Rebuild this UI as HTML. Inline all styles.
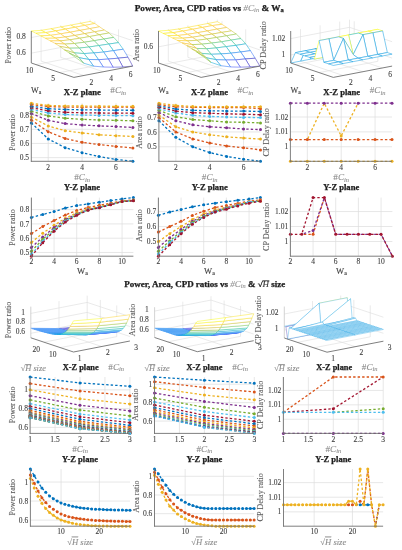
<!DOCTYPE html>
<html><head><meta charset="utf-8"><style>
html,body{margin:0;padding:0;background:#fff;}
svg{display:block;font-family:"Liberation Serif", serif;filter:blur(0.3px);}
</style></head><body>
<svg width="402" height="550" viewBox="0 0 402 550">
<rect width="402" height="550" fill="#fff"/>
<text x="209.2" y="11" font-size="7.4" text-anchor="middle" fill="#1e1e1e" stroke="#1e1e1e" stroke-width="0.25" font-weight="bold" textLength="149" lengthAdjust="spacingAndGlyphs">Power, Area, CPD ratios vs <tspan fill="#999" stroke="#999" stroke-width="0.12" font-weight="normal" font-style="italic">#C</tspan><tspan fill="#999" stroke="#999" stroke-width="0.12" font-weight="normal" font-style="italic" font-size="0.7em" dy="1">in</tspan><tspan dy="-1"> &amp; W</tspan><tspan font-size="0.7em" dy="1">a</tspan></text>
<line x1="59.7" y1="72.6" x2="118.5" y2="61.3" stroke="#dcdcdc" stroke-width="0.6"/>
<line x1="118.5" y1="61.3" x2="118.5" y2="29.3" stroke="#dcdcdc" stroke-width="0.6"/>
<line x1="36.03" y1="64.6" x2="94.83" y2="53.3" stroke="#dcdcdc" stroke-width="0.6"/>
<line x1="94.83" y1="53.3" x2="94.83" y2="21.3" stroke="#dcdcdc" stroke-width="0.6"/>
<line x1="41.1" y1="61.12" x2="83.7" y2="75.52" stroke="#dcdcdc" stroke-width="0.6"/>
<line x1="41.1" y1="61.12" x2="41.1" y2="29.12" stroke="#dcdcdc" stroke-width="0.6"/>
<line x1="60.7" y1="57.35" x2="103.3" y2="71.75" stroke="#dcdcdc" stroke-width="0.6"/>
<line x1="60.7" y1="57.35" x2="60.7" y2="25.35" stroke="#dcdcdc" stroke-width="0.6"/>
<line x1="80.3" y1="53.58" x2="122.9" y2="67.98" stroke="#dcdcdc" stroke-width="0.6"/>
<line x1="80.3" y1="53.58" x2="80.3" y2="21.58" stroke="#dcdcdc" stroke-width="0.6"/>
<polyline points="31.3,53.17 90.1,41.87 132.7,56.27" fill="none" stroke="#dcdcdc" stroke-width="0.6"/>
<polyline points="31.3,37.56 90.1,26.26 132.7,40.66" fill="none" stroke="#dcdcdc" stroke-width="0.6"/>
<line x1="90.1" y1="51.7" x2="90.1" y2="19.7" stroke="#dcdcdc" stroke-width="0.6"/>
<polygon points="80.3,23.3 85.03,25.37 94.83,23.49 90.1,21.42" fill="#fff" stroke="#fce026" stroke-width="0.7" stroke-opacity="0.8" stroke-linejoin="round"/>
<polygon points="85.03,25.37 89.77,28.61 99.57,26.8 94.83,23.49" fill="#fff" stroke="#fdcc32" stroke-width="0.7" stroke-opacity="0.8" stroke-linejoin="round"/>
<polygon points="70.5,25.11 75.23,27.25 85.03,25.37 80.3,23.3" fill="#fff" stroke="#fce026" stroke-width="0.7" stroke-opacity="0.8" stroke-linejoin="round"/>
<polygon points="89.77,28.61 94.5,31.85 104.3,30.04 99.57,26.8" fill="#fff" stroke="#eec438" stroke-width="0.7" stroke-opacity="0.8" stroke-linejoin="round"/>
<polygon points="75.23,27.25 79.97,30.41 89.77,28.61 85.03,25.37" fill="#fff" stroke="#fdcd32" stroke-width="0.7" stroke-opacity="0.8" stroke-linejoin="round"/>
<polygon points="60.7,26.91 65.43,29.14 75.23,27.25 70.5,25.11" fill="#fff" stroke="#fce026" stroke-width="0.7" stroke-opacity="0.8" stroke-linejoin="round"/>
<polygon points="94.5,31.85 99.23,34.77 109.03,32.97 104.3,30.04" fill="#fff" stroke="#d6c538" stroke-width="0.7" stroke-opacity="0.8" stroke-linejoin="round"/>
<polygon points="79.97,30.41 84.7,33.65 94.5,31.85 89.77,28.61" fill="#fff" stroke="#efc438" stroke-width="0.7" stroke-opacity="0.8" stroke-linejoin="round"/>
<polygon points="65.43,29.14 70.17,32.22 79.97,30.41 75.23,27.25" fill="#fff" stroke="#fdce31" stroke-width="0.7" stroke-opacity="0.8" stroke-linejoin="round"/>
<polygon points="50.9,28.72 55.63,30.94 65.43,29.14 60.7,26.91" fill="#fff" stroke="#fbe125" stroke-width="0.7" stroke-opacity="0.8" stroke-linejoin="round"/>
<polygon points="99.23,34.77 103.97,39.03 113.77,37.38 109.03,32.97" fill="#fff" stroke="#a4c73f" stroke-width="0.7" stroke-opacity="0.8" stroke-linejoin="round"/>
<polygon points="84.7,33.65 89.43,36.58 99.23,34.77 94.5,31.85" fill="#fff" stroke="#d7c538" stroke-width="0.7" stroke-opacity="0.8" stroke-linejoin="round"/>
<polygon points="70.17,32.22 74.9,35.46 84.7,33.65 79.97,30.41" fill="#fff" stroke="#f1c438" stroke-width="0.7" stroke-opacity="0.8" stroke-linejoin="round"/>
<polygon points="55.63,30.94 60.37,33.87 70.17,32.22 65.43,29.14" fill="#fff" stroke="#fdd12f" stroke-width="0.7" stroke-opacity="0.8" stroke-linejoin="round"/>
<polygon points="41.1,30.37 45.83,32.59 55.63,30.94 50.9,28.72" fill="#fff" stroke="#fbe423" stroke-width="0.7" stroke-opacity="0.8" stroke-linejoin="round"/>
<polygon points="103.97,39.03 108.7,44.06 118.5,42.65 113.77,37.38" fill="#fff" stroke="#4cc886" stroke-width="0.7" stroke-opacity="0.8" stroke-linejoin="round"/>
<polygon points="89.43,36.58 94.17,40.68 103.97,39.03 99.23,34.77" fill="#fff" stroke="#aac73a" stroke-width="0.7" stroke-opacity="0.8" stroke-linejoin="round"/>
<polygon points="74.9,35.46 79.63,38.31 89.43,36.58 84.7,33.65" fill="#fff" stroke="#dac538" stroke-width="0.7" stroke-opacity="0.8" stroke-linejoin="round"/>
<polygon points="60.37,33.87 65.1,37.03 74.9,35.46 70.17,32.22" fill="#fff" stroke="#f7c438" stroke-width="0.7" stroke-opacity="0.8" stroke-linejoin="round"/>
<polygon points="45.83,32.59 50.57,35.36 60.37,33.87 55.63,30.94" fill="#fff" stroke="#fdd62c" stroke-width="0.7" stroke-opacity="0.8" stroke-linejoin="round"/>
<polygon points="31.3,31 36.03,33.3 45.83,32.59 41.1,30.37" fill="#fff" stroke="#faf21a" stroke-width="0.7" stroke-opacity="0.8" stroke-linejoin="round"/>
<polygon points="108.7,44.06 113.43,50.66 123.23,49.24 118.5,42.65" fill="#fff" stroke="#15b3d0" stroke-width="0.7" stroke-opacity="0.8" stroke-linejoin="round"/>
<polygon points="94.17,40.68 98.9,45.55 108.7,44.06 103.97,39.03" fill="#fff" stroke="#56c87e" stroke-width="0.7" stroke-opacity="0.8" stroke-linejoin="round"/>
<polygon points="79.63,38.31 84.37,42.25 94.17,40.68 89.43,36.58" fill="#fff" stroke="#b0c739" stroke-width="0.7" stroke-opacity="0.8" stroke-linejoin="round"/>
<polygon points="65.1,37.03 69.83,39.8 79.63,38.31 74.9,35.46" fill="#fff" stroke="#e1c438" stroke-width="0.7" stroke-opacity="0.8" stroke-linejoin="round"/>
<polygon points="50.57,35.36 55.3,38.13 65.1,37.03 60.37,33.87" fill="#fff" stroke="#fec835" stroke-width="0.7" stroke-opacity="0.8" stroke-linejoin="round"/>
<polygon points="36.03,33.3 40.77,35.84 50.57,35.36 45.83,32.59" fill="#fff" stroke="#fbe721" stroke-width="0.7" stroke-opacity="0.8" stroke-linejoin="round"/>
<polygon points="113.43,50.66 118.17,58.19 127.97,57.16 123.23,49.24" fill="#fff" stroke="#337cf6" stroke-width="0.7" stroke-opacity="0.8" stroke-linejoin="round"/>
<polygon points="98.9,45.55 103.63,52.07 113.43,50.66 108.7,44.06" fill="#fff" stroke="#19b6ca" stroke-width="0.7" stroke-opacity="0.8" stroke-linejoin="round"/>
<polygon points="84.37,42.25 89.1,46.97 98.9,45.55 94.17,40.68" fill="#fff" stroke="#62c874" stroke-width="0.7" stroke-opacity="0.8" stroke-linejoin="round"/>
<polygon points="69.83,39.8 74.57,43.51 84.37,42.25 79.63,38.31" fill="#fff" stroke="#bbc639" stroke-width="0.7" stroke-opacity="0.8" stroke-linejoin="round"/>
<polygon points="55.3,38.13 60.03,40.9 69.83,39.8 65.1,37.03" fill="#fff" stroke="#efc438" stroke-width="0.7" stroke-opacity="0.8" stroke-linejoin="round"/>
<polygon points="40.77,35.84 45.5,38.3 55.3,38.13 50.57,35.36" fill="#fff" stroke="#fcdd28" stroke-width="0.7" stroke-opacity="0.8" stroke-linejoin="round"/>
<polygon points="118.17,58.19 122.9,66.97 132.7,66.1 127.97,57.16" fill="#fff" stroke="#4030b9" stroke-width="0.7" stroke-opacity="0.8" stroke-linejoin="round"/>
<polygon points="103.63,52.07 108.37,59.06 118.17,58.19 113.43,50.66" fill="#fff" stroke="#2d87f6" stroke-width="0.7" stroke-opacity="0.8" stroke-linejoin="round"/>
<polygon points="89.1,46.97 93.83,52.94 103.63,52.07 98.9,45.55" fill="#fff" stroke="#21bbbc" stroke-width="0.7" stroke-opacity="0.8" stroke-linejoin="round"/>
<polygon points="74.57,43.51 79.3,48.07 89.1,46.97 84.37,42.25" fill="#fff" stroke="#76c764" stroke-width="0.7" stroke-opacity="0.8" stroke-linejoin="round"/>
<polygon points="60.03,40.9 64.77,44.14 74.57,43.51 69.83,39.8" fill="#fff" stroke="#d2c538" stroke-width="0.7" stroke-opacity="0.8" stroke-linejoin="round"/>
<polygon points="45.5,38.3 50.23,40.83 60.03,40.9 55.3,38.13" fill="#fff" stroke="#fdd12f" stroke-width="0.7" stroke-opacity="0.8" stroke-linejoin="round"/>
<polygon points="108.37,59.06 113.1,67.21 122.9,66.97 118.17,58.19" fill="#fff" stroke="#4440d4" stroke-width="0.7" stroke-opacity="0.8" stroke-linejoin="round"/>
<polygon points="93.83,52.94 98.57,59.69 108.37,59.06 103.63,52.07" fill="#fff" stroke="#2593ed" stroke-width="0.7" stroke-opacity="0.8" stroke-linejoin="round"/>
<polygon points="79.3,48.07 84.03,53.57 93.83,52.94 89.1,46.97" fill="#fff" stroke="#2bc1ab" stroke-width="0.7" stroke-opacity="0.8" stroke-linejoin="round"/>
<polygon points="64.77,44.14 69.5,48.16 79.3,48.07 74.57,43.51" fill="#fff" stroke="#a4c73f" stroke-width="0.7" stroke-opacity="0.8" stroke-linejoin="round"/>
<polygon points="50.23,40.83 54.97,43.37 64.77,44.14 60.03,40.9" fill="#fff" stroke="#fec637" stroke-width="0.7" stroke-opacity="0.8" stroke-linejoin="round"/>
<polygon points="98.57,59.69 103.3,66.99 113.1,67.21 108.37,59.06" fill="#fff" stroke="#4754f4" stroke-width="0.7" stroke-opacity="0.8" stroke-linejoin="round"/>
<polygon points="84.03,53.57 88.77,59.47 98.57,59.69 93.83,52.94" fill="#fff" stroke="#19a7de" stroke-width="0.7" stroke-opacity="0.8" stroke-linejoin="round"/>
<polygon points="69.5,48.16 74.23,52.88 84.03,53.57 79.3,48.07" fill="#fff" stroke="#54c87f" stroke-width="0.7" stroke-opacity="0.8" stroke-linejoin="round"/>
<polygon points="54.97,43.37 59.7,46.3 69.5,48.16 64.77,44.14" fill="#fff" stroke="#eac438" stroke-width="0.7" stroke-opacity="0.8" stroke-linejoin="round"/>
<polygon points="88.77,59.47 93.5,66.14 103.3,66.99 98.57,59.69" fill="#fff" stroke="#3774f6" stroke-width="0.7" stroke-opacity="0.8" stroke-linejoin="round"/>
<polygon points="74.23,52.88 78.97,57.68 88.77,59.47 84.03,53.57" fill="#fff" stroke="#26beb3" stroke-width="0.7" stroke-opacity="0.8" stroke-linejoin="round"/>
<polygon points="59.7,46.3 64.43,49.85 74.23,52.88 69.5,48.16" fill="#fff" stroke="#c6c639" stroke-width="0.7" stroke-opacity="0.8" stroke-linejoin="round"/>
<polygon points="78.97,57.68 83.7,63.18 93.5,66.14 88.77,59.47" fill="#fff" stroke="#1aa4e0" stroke-width="0.7" stroke-opacity="0.8" stroke-linejoin="round"/>
<polygon points="64.43,49.85 69.17,53.01 78.97,57.68 74.23,52.88" fill="#fff" stroke="#aac73a" stroke-width="0.7" stroke-opacity="0.8" stroke-linejoin="round"/>
<polygon points="69.17,53.01 73.9,56.25 83.7,63.18 78.97,57.68" fill="#fff" stroke="#80c75c" stroke-width="0.7" stroke-opacity="0.8" stroke-linejoin="round"/>
<polyline points="31.3,31 31.3,63 73.9,77.4 132.7,66.1" fill="none" stroke="#707070" stroke-width="0.9"/>
<text x="25.8" y="55.07" font-size="7.5" text-anchor="end" fill="#404040" stroke="#404040" stroke-width="0.1">0.6</text>
<text x="25.8" y="39.46" font-size="7.5" text-anchor="end" fill="#404040" stroke="#404040" stroke-width="0.1">0.8</text>
<text x="29.53" y="73.1" font-size="7.5" text-anchor="middle" fill="#404040" stroke="#404040" stroke-width="0.1">10</text>
<text x="53.2" y="81.1" font-size="7.5" text-anchor="middle" fill="#404040" stroke="#404040" stroke-width="0.1">5</text>
<text x="91.4" y="84.72" font-size="7.5" text-anchor="middle" fill="#404040" stroke="#404040" stroke-width="0.1">2</text>
<text x="111" y="80.95" font-size="7.5" text-anchor="middle" fill="#404040" stroke="#404040" stroke-width="0.1">4</text>
<text x="130.6" y="77.18" font-size="7.5" text-anchor="middle" fill="#404040" stroke="#404040" stroke-width="0.1">6</text>
<text x="11.2" y="45.3" font-size="8.2" text-anchor="middle" fill="#5a5a5a" stroke="#5a5a5a" stroke-width="0.1" transform="rotate(-90 11.2 45.3)" textLength="36.5" lengthAdjust="spacingAndGlyphs">Power ratio</text>
<text x="36.2" y="93.2" font-size="8.2" text-anchor="middle" fill="#404040" stroke="#404040" stroke-width="0.1">W<tspan font-size="0.7em" dy="1.2">a</tspan></text>
<text x="82.3" y="94.6" font-size="7.5" text-anchor="middle" fill="#1e1e1e" stroke="#1e1e1e" stroke-width="0.25" font-weight="bold" textLength="37" lengthAdjust="spacingAndGlyphs">X-Z plane</text>
<text x="118.2" y="93.3" font-size="9.2" text-anchor="middle" fill="#8c8c8c" stroke="#8c8c8c" stroke-width="0.1">#<tspan font-style="italic">C</tspan><tspan font-size="0.7em" font-style="italic" dy="1.2">in</tspan></text>
<line x1="186.9" y1="72.6" x2="245.7" y2="61.3" stroke="#dcdcdc" stroke-width="0.6"/>
<line x1="245.7" y1="61.3" x2="245.7" y2="29.3" stroke="#dcdcdc" stroke-width="0.6"/>
<line x1="163.23" y1="64.6" x2="222.03" y2="53.3" stroke="#dcdcdc" stroke-width="0.6"/>
<line x1="222.03" y1="53.3" x2="222.03" y2="21.3" stroke="#dcdcdc" stroke-width="0.6"/>
<line x1="168.3" y1="61.12" x2="210.9" y2="75.52" stroke="#dcdcdc" stroke-width="0.6"/>
<line x1="168.3" y1="61.12" x2="168.3" y2="29.12" stroke="#dcdcdc" stroke-width="0.6"/>
<line x1="187.9" y1="57.35" x2="230.5" y2="71.75" stroke="#dcdcdc" stroke-width="0.6"/>
<line x1="187.9" y1="57.35" x2="187.9" y2="25.35" stroke="#dcdcdc" stroke-width="0.6"/>
<line x1="207.5" y1="53.58" x2="250.1" y2="67.98" stroke="#dcdcdc" stroke-width="0.6"/>
<line x1="207.5" y1="53.58" x2="207.5" y2="21.58" stroke="#dcdcdc" stroke-width="0.6"/>
<polyline points="158.5,46.84 217.3,35.54 259.9,49.94" fill="none" stroke="#dcdcdc" stroke-width="0.6"/>
<line x1="217.3" y1="51.7" x2="217.3" y2="19.7" stroke="#dcdcdc" stroke-width="0.6"/>
<polygon points="207.5,23.54 212.23,25.55 222.03,24.32 217.3,21.66" fill="#fff" stroke="#fcde27" stroke-width="0.7" stroke-opacity="0.8" stroke-linejoin="round"/>
<polygon points="212.23,25.55 216.97,29.11 226.77,27.47 222.03,24.32" fill="#fff" stroke="#fec636" stroke-width="0.7" stroke-opacity="0.8" stroke-linejoin="round"/>
<polygon points="197.7,25.43 202.43,27.43 212.23,25.55 207.5,23.54" fill="#fff" stroke="#fcde27" stroke-width="0.7" stroke-opacity="0.8" stroke-linejoin="round"/>
<polygon points="216.97,29.11 221.7,32.42 231.5,30.87 226.77,27.47" fill="#fff" stroke="#e4c438" stroke-width="0.7" stroke-opacity="0.8" stroke-linejoin="round"/>
<polygon points="202.43,27.43 207.17,30.99 216.97,29.11 212.23,25.55" fill="#fff" stroke="#fec636" stroke-width="0.7" stroke-opacity="0.8" stroke-linejoin="round"/>
<polygon points="187.9,27.31 192.63,29.32 202.43,27.43 197.7,25.43" fill="#fff" stroke="#fcde27" stroke-width="0.7" stroke-opacity="0.8" stroke-linejoin="round"/>
<polygon points="221.7,32.42 226.43,35.82 236.23,34.02 231.5,30.87" fill="#fff" stroke="#c3c639" stroke-width="0.7" stroke-opacity="0.8" stroke-linejoin="round"/>
<polygon points="207.17,30.99 211.9,34.14 221.7,32.42 216.97,29.11" fill="#fff" stroke="#e7c438" stroke-width="0.7" stroke-opacity="0.8" stroke-linejoin="round"/>
<polygon points="192.63,29.32 197.37,32.71 207.17,30.99 202.43,27.43" fill="#fff" stroke="#fec835" stroke-width="0.7" stroke-opacity="0.8" stroke-linejoin="round"/>
<polygon points="178.1,29.03 182.83,31.12 192.63,29.32 187.9,27.31" fill="#fff" stroke="#fcdf26" stroke-width="0.7" stroke-opacity="0.8" stroke-linejoin="round"/>
<polygon points="226.43,35.82 231.17,40.11 240.97,38.56 236.23,34.02" fill="#fff" stroke="#88c755" stroke-width="0.7" stroke-opacity="0.8" stroke-linejoin="round"/>
<polygon points="211.9,34.14 216.63,37.46 226.43,35.82 221.7,32.42" fill="#fff" stroke="#c7c639" stroke-width="0.7" stroke-opacity="0.8" stroke-linejoin="round"/>
<polygon points="197.37,32.71 202.1,35.7 211.9,34.14 207.17,30.99" fill="#fff" stroke="#ecc438" stroke-width="0.7" stroke-opacity="0.8" stroke-linejoin="round"/>
<polygon points="182.83,31.12 187.57,34.35 197.37,32.71 192.63,29.32" fill="#fff" stroke="#fecb33" stroke-width="0.7" stroke-opacity="0.8" stroke-linejoin="round"/>
<polygon points="168.3,30.34 173.03,32.68 182.83,31.12 178.1,29.03" fill="#fff" stroke="#fbe324" stroke-width="0.7" stroke-opacity="0.8" stroke-linejoin="round"/>
<polygon points="231.17,40.11 235.9,45.39 245.7,43.83 240.97,38.56" fill="#fff" stroke="#33c69e" stroke-width="0.7" stroke-opacity="0.8" stroke-linejoin="round"/>
<polygon points="216.63,37.46 221.37,41.83 231.17,40.11 226.43,35.82" fill="#fff" stroke="#8cc752" stroke-width="0.7" stroke-opacity="0.8" stroke-linejoin="round"/>
<polygon points="202.1,35.7 206.83,39.02 216.63,37.46 211.9,34.14" fill="#fff" stroke="#cdc538" stroke-width="0.7" stroke-opacity="0.8" stroke-linejoin="round"/>
<polygon points="187.57,34.35 192.3,37.26 202.1,35.7 197.37,32.71" fill="#fff" stroke="#f2c438" stroke-width="0.7" stroke-opacity="0.8" stroke-linejoin="round"/>
<polygon points="173.03,32.68 177.77,35.5 187.57,34.35 182.83,31.12" fill="#fff" stroke="#fdd42d" stroke-width="0.7" stroke-opacity="0.8" stroke-linejoin="round"/>
<polygon points="158.5,31 163.23,33.42 173.03,32.68 168.3,30.34" fill="#fff" stroke="#faf11b" stroke-width="0.7" stroke-opacity="0.8" stroke-linejoin="round"/>
<polygon points="235.9,45.39 240.63,51.97 250.43,50.66 245.7,43.83" fill="#fff" stroke="#17a9dc" stroke-width="0.7" stroke-opacity="0.8" stroke-linejoin="round"/>
<polygon points="221.37,41.83 226.1,46.62 235.9,45.39 231.17,40.11" fill="#fff" stroke="#3bc894" stroke-width="0.7" stroke-opacity="0.8" stroke-linejoin="round"/>
<polygon points="206.83,39.02 211.57,43.06 221.37,41.83 216.63,37.46" fill="#fff" stroke="#9dc745" stroke-width="0.7" stroke-opacity="0.8" stroke-linejoin="round"/>
<polygon points="192.3,37.26 197.03,40.33 206.83,39.02 202.1,35.7" fill="#fff" stroke="#d8c538" stroke-width="0.7" stroke-opacity="0.8" stroke-linejoin="round"/>
<polygon points="177.77,35.5 182.5,38.24 192.3,37.26 187.57,34.35" fill="#fff" stroke="#fec636" stroke-width="0.7" stroke-opacity="0.8" stroke-linejoin="round"/>
<polygon points="163.23,33.42 167.97,35.67 177.77,35.5 173.03,32.68" fill="#fff" stroke="#fbe920" stroke-width="0.7" stroke-opacity="0.8" stroke-linejoin="round"/>
<polygon points="240.63,51.97 245.37,58.95 255.17,58.21 250.43,50.66" fill="#fff" stroke="#3773f6" stroke-width="0.7" stroke-opacity="0.8" stroke-linejoin="round"/>
<polygon points="226.1,46.62 230.83,53.2 240.63,51.97 235.9,45.39" fill="#fff" stroke="#13afd8" stroke-width="0.7" stroke-opacity="0.8" stroke-linejoin="round"/>
<polygon points="211.57,43.06 216.3,47.93 226.1,46.62 221.37,41.83" fill="#fff" stroke="#4ac888" stroke-width="0.7" stroke-opacity="0.8" stroke-linejoin="round"/>
<polygon points="197.03,40.33 201.77,44.21 211.57,43.06 206.83,39.02" fill="#fff" stroke="#aec739" stroke-width="0.7" stroke-opacity="0.8" stroke-linejoin="round"/>
<polygon points="182.5,38.24 187.23,40.9 197.03,40.33 192.3,37.26" fill="#fff" stroke="#efc438" stroke-width="0.7" stroke-opacity="0.8" stroke-linejoin="round"/>
<polygon points="167.97,35.67 172.7,38 182.5,38.24 177.77,35.5" fill="#fff" stroke="#fce026" stroke-width="0.7" stroke-opacity="0.8" stroke-linejoin="round"/>
<polygon points="245.37,58.95 250.1,66.84 259.9,66.1 255.17,58.21" fill="#fff" stroke="#4031bb" stroke-width="0.7" stroke-opacity="0.8" stroke-linejoin="round"/>
<polygon points="230.83,53.2 235.57,59.86 245.37,58.95 240.63,51.97" fill="#fff" stroke="#327ef6" stroke-width="0.7" stroke-opacity="0.8" stroke-linejoin="round"/>
<polygon points="216.3,47.93 221.03,53.94 230.83,53.2 226.1,46.62" fill="#fff" stroke="#19b6ca" stroke-width="0.7" stroke-opacity="0.8" stroke-linejoin="round"/>
<polygon points="201.77,44.21 206.5,48.75 216.3,47.93 211.57,43.06" fill="#fff" stroke="#65c772" stroke-width="0.7" stroke-opacity="0.8" stroke-linejoin="round"/>
<polygon points="187.23,40.9 191.97,44.63 201.77,44.21 197.03,40.33" fill="#fff" stroke="#c9c639" stroke-width="0.7" stroke-opacity="0.8" stroke-linejoin="round"/>
<polygon points="172.7,38 177.43,40.42 187.23,40.9 182.5,38.24" fill="#fff" stroke="#fcd62c" stroke-width="0.7" stroke-opacity="0.8" stroke-linejoin="round"/>
<polygon points="235.57,59.86 240.3,67.17 250.1,66.84 245.37,58.95" fill="#fff" stroke="#4440d5" stroke-width="0.7" stroke-opacity="0.8" stroke-linejoin="round"/>
<polygon points="221.03,53.94 225.77,60.03 235.57,59.86 230.83,53.2" fill="#fff" stroke="#2890f0" stroke-width="0.7" stroke-opacity="0.8" stroke-linejoin="round"/>
<polygon points="206.5,48.75 211.23,54.27 221.03,53.94 216.3,47.93" fill="#fff" stroke="#26bdb4" stroke-width="0.7" stroke-opacity="0.8" stroke-linejoin="round"/>
<polygon points="191.97,44.63 196.7,48.43 206.5,48.75 201.77,44.21" fill="#fff" stroke="#9dc745" stroke-width="0.7" stroke-opacity="0.8" stroke-linejoin="round"/>
<polygon points="177.43,40.42 182.17,42.92 191.97,44.63 187.23,40.9" fill="#fff" stroke="#fecb33" stroke-width="0.7" stroke-opacity="0.8" stroke-linejoin="round"/>
<polygon points="225.77,60.03 230.5,66.93 240.3,67.17 235.57,59.86" fill="#fff" stroke="#4655f4" stroke-width="0.7" stroke-opacity="0.8" stroke-linejoin="round"/>
<polygon points="211.23,54.27 215.97,59.71 225.77,60.03 221.03,53.94" fill="#fff" stroke="#1aa4e0" stroke-width="0.7" stroke-opacity="0.8" stroke-linejoin="round"/>
<polygon points="196.7,48.43 201.43,53.3 211.23,54.27 206.5,48.75" fill="#fff" stroke="#4ac888" stroke-width="0.7" stroke-opacity="0.8" stroke-linejoin="round"/>
<polygon points="182.17,42.92 186.9,45.66 196.7,48.43 191.97,44.63" fill="#fff" stroke="#f5c438" stroke-width="0.7" stroke-opacity="0.8" stroke-linejoin="round"/>
<polygon points="215.97,59.71 220.7,65.63 230.5,66.93 225.77,60.03" fill="#fff" stroke="#347af6" stroke-width="0.7" stroke-opacity="0.8" stroke-linejoin="round"/>
<polygon points="201.43,53.3 206.17,57.75 215.97,59.71 211.23,54.27" fill="#fff" stroke="#26bdb4" stroke-width="0.7" stroke-opacity="0.8" stroke-linejoin="round"/>
<polygon points="186.9,45.66 191.63,48.73 201.43,53.3 196.7,48.43" fill="#fff" stroke="#dbc538" stroke-width="0.7" stroke-opacity="0.8" stroke-linejoin="round"/>
<polygon points="206.17,57.75 210.9,62.29 220.7,65.63 215.97,59.71" fill="#fff" stroke="#15adda" stroke-width="0.7" stroke-opacity="0.8" stroke-linejoin="round"/>
<polygon points="191.63,48.73 196.37,51.72 206.17,57.75 201.43,53.3" fill="#fff" stroke="#c2c639" stroke-width="0.7" stroke-opacity="0.8" stroke-linejoin="round"/>
<polygon points="196.37,51.72 201.1,55.03 210.9,62.29 206.17,57.75" fill="#fff" stroke="#9fc743" stroke-width="0.7" stroke-opacity="0.8" stroke-linejoin="round"/>
<polyline points="158.5,31 158.5,63 201.1,77.4 259.9,66.1" fill="none" stroke="#707070" stroke-width="0.9"/>
<text x="153" y="48.74" font-size="7.5" text-anchor="end" fill="#404040" stroke="#404040" stroke-width="0.1">0.6</text>
<text x="156.73" y="73.1" font-size="7.5" text-anchor="middle" fill="#404040" stroke="#404040" stroke-width="0.1">10</text>
<text x="180.4" y="81.1" font-size="7.5" text-anchor="middle" fill="#404040" stroke="#404040" stroke-width="0.1">5</text>
<text x="218.6" y="84.72" font-size="7.5" text-anchor="middle" fill="#404040" stroke="#404040" stroke-width="0.1">2</text>
<text x="238.2" y="80.95" font-size="7.5" text-anchor="middle" fill="#404040" stroke="#404040" stroke-width="0.1">4</text>
<text x="257.8" y="77.18" font-size="7.5" text-anchor="middle" fill="#404040" stroke="#404040" stroke-width="0.1">6</text>
<text x="138.6" y="45.3" font-size="8.2" text-anchor="middle" fill="#5a5a5a" stroke="#5a5a5a" stroke-width="0.1" transform="rotate(-90 138.6 45.3)" textLength="32.5" lengthAdjust="spacingAndGlyphs">Area ratio</text>
<text x="163.4" y="93.2" font-size="8.2" text-anchor="middle" fill="#404040" stroke="#404040" stroke-width="0.1">W<tspan font-size="0.7em" dy="1.2">a</tspan></text>
<text x="209.5" y="94.6" font-size="7.5" text-anchor="middle" fill="#1e1e1e" stroke="#1e1e1e" stroke-width="0.25" font-weight="bold" textLength="37" lengthAdjust="spacingAndGlyphs">X-Z plane</text>
<text x="245.4" y="93.3" font-size="9.2" text-anchor="middle" fill="#8c8c8c" stroke="#8c8c8c" stroke-width="0.1">#<tspan font-style="italic">C</tspan><tspan font-size="0.7em" font-style="italic" dy="1.2">in</tspan></text>
<line x1="319.1" y1="72.6" x2="377.9" y2="61.3" stroke="#dcdcdc" stroke-width="0.6"/>
<line x1="377.9" y1="61.3" x2="377.9" y2="29.3" stroke="#dcdcdc" stroke-width="0.6"/>
<line x1="295.43" y1="64.6" x2="354.23" y2="53.3" stroke="#dcdcdc" stroke-width="0.6"/>
<line x1="354.23" y1="53.3" x2="354.23" y2="21.3" stroke="#dcdcdc" stroke-width="0.6"/>
<line x1="300.5" y1="61.12" x2="343.1" y2="75.52" stroke="#dcdcdc" stroke-width="0.6"/>
<line x1="300.5" y1="61.12" x2="300.5" y2="29.12" stroke="#dcdcdc" stroke-width="0.6"/>
<line x1="320.1" y1="57.35" x2="362.7" y2="71.75" stroke="#dcdcdc" stroke-width="0.6"/>
<line x1="320.1" y1="57.35" x2="320.1" y2="25.35" stroke="#dcdcdc" stroke-width="0.6"/>
<line x1="339.7" y1="53.58" x2="382.3" y2="67.98" stroke="#dcdcdc" stroke-width="0.6"/>
<line x1="339.7" y1="53.58" x2="339.7" y2="21.58" stroke="#dcdcdc" stroke-width="0.6"/>
<polyline points="290.7,54.98 349.5,43.68 392.1,58.08" fill="none" stroke="#dcdcdc" stroke-width="0.6"/>
<polyline points="290.7,38.61 349.5,27.31 392.1,41.71" fill="none" stroke="#dcdcdc" stroke-width="0.6"/>
<line x1="349.5" y1="51.7" x2="349.5" y2="19.7" stroke="#dcdcdc" stroke-width="0.6"/>
<polygon points="339.7,53.58 344.43,43.23 354.23,41.35 349.5,51.7" fill="#fff" stroke="#1ca1e3" stroke-width="0.7" stroke-opacity="0.8" stroke-linejoin="round"/>
<polygon points="344.43,43.23 349.17,44.83 358.97,42.95 354.23,41.35" fill="#fff" stroke="#1ca1e3" stroke-width="0.7" stroke-opacity="0.8" stroke-linejoin="round"/>
<polygon points="329.9,55.47 334.63,45.12 344.43,43.23 339.7,53.58" fill="#fff" stroke="#1ca1e3" stroke-width="0.7" stroke-opacity="0.8" stroke-linejoin="round"/>
<polygon points="349.17,44.83 353.9,46.43 363.7,44.55 358.97,42.95" fill="#fff" stroke="#1ca1e3" stroke-width="0.7" stroke-opacity="0.8" stroke-linejoin="round"/>
<polygon points="334.63,45.12 339.37,46.72 349.17,44.83 344.43,43.23" fill="#fff" stroke="#1ca1e3" stroke-width="0.7" stroke-opacity="0.8" stroke-linejoin="round"/>
<polygon points="320.1,57.35 324.83,47 334.63,45.12 329.9,55.47" fill="#fff" stroke="#1ca1e3" stroke-width="0.7" stroke-opacity="0.8" stroke-linejoin="round"/>
<polygon points="353.9,46.43 358.63,48.03 368.43,46.15 363.7,44.55" fill="#fff" stroke="#1ca1e3" stroke-width="0.7" stroke-opacity="0.8" stroke-linejoin="round"/>
<polygon points="339.37,46.72 344.1,48.32 353.9,46.43 349.17,44.83" fill="#fff" stroke="#1ca1e3" stroke-width="0.7" stroke-opacity="0.8" stroke-linejoin="round"/>
<polygon points="324.83,47 329.57,48.6 339.37,46.72 334.63,45.12" fill="#fff" stroke="#1ca1e3" stroke-width="0.7" stroke-opacity="0.8" stroke-linejoin="round"/>
<polygon points="310.3,59.23 315.03,48.88 324.83,47 320.1,57.35" fill="#fff" stroke="#1ca1e3" stroke-width="0.7" stroke-opacity="0.8" stroke-linejoin="round"/>
<polygon points="358.63,48.03 363.37,49.63 373.17,47.75 368.43,46.15" fill="#fff" stroke="#1ca1e3" stroke-width="0.7" stroke-opacity="0.8" stroke-linejoin="round"/>
<polygon points="344.1,48.32 348.83,49.92 358.63,48.03 353.9,46.43" fill="#fff" stroke="#1ca1e3" stroke-width="0.7" stroke-opacity="0.8" stroke-linejoin="round"/>
<polygon points="329.57,48.6 334.3,50.2 344.1,48.32 339.37,46.72" fill="#fff" stroke="#1ca1e3" stroke-width="0.7" stroke-opacity="0.8" stroke-linejoin="round"/>
<polygon points="315.03,48.88 319.77,50.48 329.57,48.6 324.83,47" fill="#fff" stroke="#1ca1e3" stroke-width="0.7" stroke-opacity="0.8" stroke-linejoin="round"/>
<polygon points="300.5,61.12 305.23,50.77 315.03,48.88 310.3,59.23" fill="#fff" stroke="#1ca1e3" stroke-width="0.7" stroke-opacity="0.8" stroke-linejoin="round"/>
<polygon points="363.37,49.63 368.1,31.18 377.9,29.3 373.17,47.75" fill="#fff" stroke="#f9fb15" stroke-width="0.7" stroke-opacity="0.8" stroke-linejoin="round"/>
<polygon points="348.83,49.92 353.57,51.52 363.37,49.63 358.63,48.03" fill="#fff" stroke="#1ca1e3" stroke-width="0.7" stroke-opacity="0.8" stroke-linejoin="round"/>
<polygon points="334.3,50.2 339.03,51.8 348.83,49.92 344.1,48.32" fill="#fff" stroke="#1ca1e3" stroke-width="0.7" stroke-opacity="0.8" stroke-linejoin="round"/>
<polygon points="319.77,50.48 324.5,52.08 334.3,50.2 329.57,48.6" fill="#fff" stroke="#1ca1e3" stroke-width="0.7" stroke-opacity="0.8" stroke-linejoin="round"/>
<polygon points="305.23,50.77 309.97,52.37 319.77,50.48 315.03,48.88" fill="#fff" stroke="#1ca1e3" stroke-width="0.7" stroke-opacity="0.8" stroke-linejoin="round"/>
<polygon points="290.7,63 295.43,52.65 305.23,50.77 300.5,61.12" fill="#fff" stroke="#1ca1e3" stroke-width="0.7" stroke-opacity="0.8" stroke-linejoin="round"/>
<polygon points="368.1,31.18 372.83,32.78 382.63,30.9 377.9,29.3" fill="#fff" stroke="#f9fb15" stroke-width="0.7" stroke-opacity="0.8" stroke-linejoin="round"/>
<polygon points="353.57,51.52 358.3,33.07 368.1,31.18 363.37,49.63" fill="#fff" stroke="#f9fb15" stroke-width="0.7" stroke-opacity="0.8" stroke-linejoin="round"/>
<polygon points="339.03,51.8 343.77,53.4 353.57,51.52 348.83,49.92" fill="#fff" stroke="#1ca1e3" stroke-width="0.7" stroke-opacity="0.8" stroke-linejoin="round"/>
<polygon points="324.5,52.08 329.23,53.68 339.03,51.8 334.3,50.2" fill="#fff" stroke="#1ca1e3" stroke-width="0.7" stroke-opacity="0.8" stroke-linejoin="round"/>
<polygon points="309.97,52.37 314.7,53.97 324.5,52.08 319.77,50.48" fill="#fff" stroke="#1ca1e3" stroke-width="0.7" stroke-opacity="0.8" stroke-linejoin="round"/>
<polygon points="295.43,52.65 300.17,54.25 309.97,52.37 305.23,50.77" fill="#fff" stroke="#1ca1e3" stroke-width="0.7" stroke-opacity="0.8" stroke-linejoin="round"/>
<polygon points="372.83,32.78 377.57,54.43 387.37,52.55 382.63,30.9" fill="#fff" stroke="#1ca1e3" stroke-width="0.7" stroke-opacity="0.8" stroke-linejoin="round"/>
<polygon points="358.3,33.07 363.03,34.67 372.83,32.78 368.1,31.18" fill="#fff" stroke="#f9fb15" stroke-width="0.7" stroke-opacity="0.8" stroke-linejoin="round"/>
<polygon points="343.77,53.4 348.5,34.95 358.3,33.07 353.57,51.52" fill="#fff" stroke="#f9fb15" stroke-width="0.7" stroke-opacity="0.8" stroke-linejoin="round"/>
<polygon points="329.23,53.68 333.97,55.28 343.77,53.4 339.03,51.8" fill="#fff" stroke="#1ca1e3" stroke-width="0.7" stroke-opacity="0.8" stroke-linejoin="round"/>
<polygon points="314.7,53.97 319.43,55.57 329.23,53.68 324.5,52.08" fill="#fff" stroke="#1ca1e3" stroke-width="0.7" stroke-opacity="0.8" stroke-linejoin="round"/>
<polygon points="300.17,54.25 304.9,55.85 314.7,53.97 309.97,52.37" fill="#fff" stroke="#1ca1e3" stroke-width="0.7" stroke-opacity="0.8" stroke-linejoin="round"/>
<polygon points="377.57,54.43 382.3,56.03 392.1,54.15 387.37,52.55" fill="#fff" stroke="#1ca1e3" stroke-width="0.7" stroke-opacity="0.8" stroke-linejoin="round"/>
<polygon points="363.03,34.67 367.77,56.32 377.57,54.43 372.83,32.78" fill="#fff" stroke="#1ca1e3" stroke-width="0.7" stroke-opacity="0.8" stroke-linejoin="round"/>
<polygon points="348.5,34.95 353.23,54.56 363.03,34.67 358.3,33.07" fill="#fff" stroke="#14b3d2" stroke-width="0.7" stroke-opacity="0.8" stroke-linejoin="round"/>
<polygon points="333.97,55.28 338.7,36.83 348.5,34.95 343.77,53.4" fill="#fff" stroke="#f9fb15" stroke-width="0.7" stroke-opacity="0.8" stroke-linejoin="round"/>
<polygon points="319.43,55.57 324.17,57.17 333.97,55.28 329.23,53.68" fill="#fff" stroke="#1ca1e3" stroke-width="0.7" stroke-opacity="0.8" stroke-linejoin="round"/>
<polygon points="304.9,55.85 309.63,57.45 319.43,55.57 314.7,53.97" fill="#fff" stroke="#1ca1e3" stroke-width="0.7" stroke-opacity="0.8" stroke-linejoin="round"/>
<polygon points="367.77,56.32 372.5,57.92 382.3,56.03 377.57,54.43" fill="#fff" stroke="#1ca1e3" stroke-width="0.7" stroke-opacity="0.8" stroke-linejoin="round"/>
<polygon points="353.23,54.56 357.97,58.2 367.77,56.32 363.03,34.67" fill="#fff" stroke="#1ca1e3" stroke-width="0.7" stroke-opacity="0.8" stroke-linejoin="round"/>
<polygon points="338.7,36.83 343.43,38.43 353.23,54.56 348.5,34.95" fill="#fff" stroke="#f9fb15" stroke-width="0.7" stroke-opacity="0.8" stroke-linejoin="round"/>
<polygon points="324.17,57.17 328.9,38.72 338.7,36.83 333.97,55.28" fill="#fff" stroke="#f9fb15" stroke-width="0.7" stroke-opacity="0.8" stroke-linejoin="round"/>
<polygon points="309.63,57.45 314.37,59.05 324.17,57.17 319.43,55.57" fill="#fff" stroke="#1ca1e3" stroke-width="0.7" stroke-opacity="0.8" stroke-linejoin="round"/>
<polygon points="357.97,58.2 362.7,59.8 372.5,57.92 367.77,56.32" fill="#fff" stroke="#1ca1e3" stroke-width="0.7" stroke-opacity="0.8" stroke-linejoin="round"/>
<polygon points="343.43,38.43 348.17,60.08 357.97,58.2 353.23,54.56" fill="#fff" stroke="#1ca1e3" stroke-width="0.7" stroke-opacity="0.8" stroke-linejoin="round"/>
<polygon points="328.9,38.72 333.63,60.37 343.43,38.43 338.7,36.83" fill="#fff" stroke="#1ca1e3" stroke-width="0.7" stroke-opacity="0.8" stroke-linejoin="round"/>
<polygon points="314.37,59.05 319.1,40.6 328.9,38.72 324.17,57.17" fill="#fff" stroke="#f9fb15" stroke-width="0.7" stroke-opacity="0.8" stroke-linejoin="round"/>
<polygon points="348.17,60.08 352.9,61.68 362.7,59.8 357.97,58.2" fill="#fff" stroke="#1ca1e3" stroke-width="0.7" stroke-opacity="0.8" stroke-linejoin="round"/>
<polygon points="333.63,60.37 338.37,61.97 348.17,60.08 343.43,38.43" fill="#fff" stroke="#1ca1e3" stroke-width="0.7" stroke-opacity="0.8" stroke-linejoin="round"/>
<polygon points="319.1,40.6 323.83,62.25 333.63,60.37 328.9,38.72" fill="#fff" stroke="#1ca1e3" stroke-width="0.7" stroke-opacity="0.8" stroke-linejoin="round"/>
<polygon points="338.37,61.97 343.1,63.57 352.9,61.68 348.17,60.08" fill="#fff" stroke="#1ca1e3" stroke-width="0.7" stroke-opacity="0.8" stroke-linejoin="round"/>
<polygon points="323.83,62.25 328.57,63.85 338.37,61.97 333.63,60.37" fill="#fff" stroke="#1ca1e3" stroke-width="0.7" stroke-opacity="0.8" stroke-linejoin="round"/>
<polygon points="328.57,63.85 333.3,65.45 343.1,63.57 338.37,61.97" fill="#fff" stroke="#1ca1e3" stroke-width="0.7" stroke-opacity="0.8" stroke-linejoin="round"/>
<polyline points="290.7,31 290.7,63 333.3,77.4 392.1,66.1" fill="none" stroke="#707070" stroke-width="0.9"/>
<text x="285.2" y="56.88" font-size="7.5" text-anchor="end" fill="#404040" stroke="#404040" stroke-width="0.1">1</text>
<text x="285.2" y="40.51" font-size="7.5" text-anchor="end" fill="#404040" stroke="#404040" stroke-width="0.1">1.02</text>
<text x="288.93" y="73.1" font-size="7.5" text-anchor="middle" fill="#404040" stroke="#404040" stroke-width="0.1">10</text>
<text x="312.6" y="81.1" font-size="7.5" text-anchor="middle" fill="#404040" stroke="#404040" stroke-width="0.1">5</text>
<text x="350.8" y="84.72" font-size="7.5" text-anchor="middle" fill="#404040" stroke="#404040" stroke-width="0.1">2</text>
<text x="370.4" y="80.95" font-size="7.5" text-anchor="middle" fill="#404040" stroke="#404040" stroke-width="0.1">4</text>
<text x="390" y="77.18" font-size="7.5" text-anchor="middle" fill="#404040" stroke="#404040" stroke-width="0.1">6</text>
<text x="266.5" y="45.3" font-size="8.2" text-anchor="middle" fill="#5a5a5a" stroke="#5a5a5a" stroke-width="0.1" transform="rotate(-90 266.5 45.3)" textLength="48.5" lengthAdjust="spacingAndGlyphs">CP Delay ratio</text>
<text x="295.6" y="93.2" font-size="8.2" text-anchor="middle" fill="#404040" stroke="#404040" stroke-width="0.1">W<tspan font-size="0.7em" dy="1.2">a</tspan></text>
<text x="341.7" y="94.6" font-size="7.5" text-anchor="middle" fill="#1e1e1e" stroke="#1e1e1e" stroke-width="0.25" font-weight="bold" textLength="37" lengthAdjust="spacingAndGlyphs">X-Z plane</text>
<text x="377.6" y="93.3" font-size="9.2" text-anchor="middle" fill="#8c8c8c" stroke="#8c8c8c" stroke-width="0.1">#<tspan font-style="italic">C</tspan><tspan font-size="0.7em" font-style="italic" dy="1.2">in</tspan></text>
<line x1="48.23" y1="103.2" x2="48.23" y2="161.3" stroke="#dcdcdc" stroke-width="0.7"/>
<line x1="82.1" y1="103.2" x2="82.1" y2="161.3" stroke="#dcdcdc" stroke-width="0.7"/>
<line x1="115.97" y1="103.2" x2="115.97" y2="161.3" stroke="#dcdcdc" stroke-width="0.7"/>
<line x1="31.3" y1="157.62" x2="132.9" y2="157.62" stroke="#dcdcdc" stroke-width="0.7"/>
<line x1="31.3" y1="143.44" x2="132.9" y2="143.44" stroke="#dcdcdc" stroke-width="0.7"/>
<line x1="31.3" y1="129.27" x2="132.9" y2="129.27" stroke="#dcdcdc" stroke-width="0.7"/>
<line x1="31.3" y1="115.1" x2="132.9" y2="115.1" stroke="#dcdcdc" stroke-width="0.7"/>
<line x1="31.3" y1="122.9" x2="48.23" y2="138.91" stroke="#0072BD" stroke-width="1.3" stroke-dasharray="2.4 2.1" stroke-dashoffset="0"/>
<line x1="48.23" y1="138.91" x2="65.17" y2="147.7" stroke="#0072BD" stroke-width="1.3" stroke-dasharray="2.4 2.1" stroke-dashoffset="0.81"/>
<line x1="65.17" y1="147.7" x2="82.1" y2="152.66" stroke="#0072BD" stroke-width="1.3" stroke-dasharray="2.4 2.1" stroke-dashoffset="1.88"/>
<line x1="82.1" y1="152.66" x2="99.03" y2="156.48" stroke="#0072BD" stroke-width="1.3" stroke-dasharray="2.4 2.1" stroke-dashoffset="1.53"/>
<line x1="99.03" y1="156.48" x2="115.97" y2="159.46" stroke="#0072BD" stroke-width="1.3" stroke-dasharray="2.4 2.1" stroke-dashoffset="0.89"/>
<line x1="115.97" y1="159.46" x2="132.9" y2="161.3" stroke="#0072BD" stroke-width="1.3" stroke-dasharray="2.4 2.1" stroke-dashoffset="0.08"/>
<circle cx="31.3" cy="122.9" r="1.5" fill="#0072BD"/>
<circle cx="48.23" cy="138.91" r="1.5" fill="#0072BD"/>
<circle cx="65.17" cy="147.7" r="1.5" fill="#0072BD"/>
<circle cx="82.1" cy="152.66" r="1.5" fill="#0072BD"/>
<circle cx="99.03" cy="156.48" r="1.5" fill="#0072BD"/>
<circle cx="115.97" cy="159.46" r="1.5" fill="#0072BD"/>
<circle cx="132.9" cy="161.3" r="1.5" fill="#0072BD"/>
<line x1="31.3" y1="119.92" x2="48.23" y2="131.82" stroke="#D95319" stroke-width="1.3" stroke-dasharray="2.4 2.1" stroke-dashoffset="0"/>
<line x1="48.23" y1="131.82" x2="65.17" y2="138.49" stroke="#D95319" stroke-width="1.3" stroke-dasharray="2.4 2.1" stroke-dashoffset="2.7"/>
<line x1="65.17" y1="138.49" x2="82.1" y2="142.31" stroke="#D95319" stroke-width="1.3" stroke-dasharray="2.4 2.1" stroke-dashoffset="2.89"/>
<line x1="82.1" y1="142.31" x2="99.03" y2="144.58" stroke="#D95319" stroke-width="1.3" stroke-dasharray="2.4 2.1" stroke-dashoffset="2.25"/>
<line x1="99.03" y1="144.58" x2="115.97" y2="146.42" stroke="#D95319" stroke-width="1.3" stroke-dasharray="2.4 2.1" stroke-dashoffset="1.34"/>
<line x1="115.97" y1="146.42" x2="132.9" y2="147.98" stroke="#D95319" stroke-width="1.3" stroke-dasharray="2.4 2.1" stroke-dashoffset="0.37"/>
<circle cx="31.3" cy="119.92" r="1.5" fill="#D95319"/>
<circle cx="48.23" cy="131.82" r="1.5" fill="#D95319"/>
<circle cx="65.17" cy="138.49" r="1.5" fill="#D95319"/>
<circle cx="82.1" cy="142.31" r="1.5" fill="#D95319"/>
<circle cx="99.03" cy="144.58" r="1.5" fill="#D95319"/>
<circle cx="115.97" cy="146.42" r="1.5" fill="#D95319"/>
<circle cx="132.9" cy="147.98" r="1.5" fill="#D95319"/>
<line x1="31.3" y1="117.09" x2="48.23" y2="126.01" stroke="#EDB120" stroke-width="1.3" stroke-dasharray="2.4 2.1" stroke-dashoffset="0"/>
<line x1="48.23" y1="126.01" x2="65.17" y2="130.69" stroke="#EDB120" stroke-width="1.3" stroke-dasharray="2.4 2.1" stroke-dashoffset="1.14"/>
<line x1="65.17" y1="130.69" x2="82.1" y2="132.96" stroke="#EDB120" stroke-width="1.3" stroke-dasharray="2.4 2.1" stroke-dashoffset="0.71"/>
<line x1="82.1" y1="132.96" x2="99.03" y2="134.8" stroke="#EDB120" stroke-width="1.3" stroke-dasharray="2.4 2.1" stroke-dashoffset="4.29"/>
<line x1="99.03" y1="134.8" x2="115.97" y2="135.65" stroke="#EDB120" stroke-width="1.3" stroke-dasharray="2.4 2.1" stroke-dashoffset="3.33"/>
<line x1="115.97" y1="135.65" x2="132.9" y2="136.5" stroke="#EDB120" stroke-width="1.3" stroke-dasharray="2.4 2.1" stroke-dashoffset="2.28"/>
<circle cx="31.3" cy="117.09" r="1.5" fill="#EDB120"/>
<circle cx="48.23" cy="126.01" r="1.5" fill="#EDB120"/>
<circle cx="65.17" cy="130.69" r="1.5" fill="#EDB120"/>
<circle cx="82.1" cy="132.96" r="1.5" fill="#EDB120"/>
<circle cx="99.03" cy="134.8" r="1.5" fill="#EDB120"/>
<circle cx="115.97" cy="135.65" r="1.5" fill="#EDB120"/>
<circle cx="132.9" cy="136.5" r="1.5" fill="#EDB120"/>
<line x1="31.3" y1="113.54" x2="48.23" y2="120.35" stroke="#7E2F8E" stroke-width="1.3" stroke-dasharray="2.4 2.1" stroke-dashoffset="0"/>
<line x1="48.23" y1="120.35" x2="65.17" y2="123.61" stroke="#7E2F8E" stroke-width="1.3" stroke-dasharray="2.4 2.1" stroke-dashoffset="0.25"/>
<line x1="65.17" y1="123.61" x2="82.1" y2="125.02" stroke="#7E2F8E" stroke-width="1.3" stroke-dasharray="2.4 2.1" stroke-dashoffset="3.99"/>
<line x1="82.1" y1="125.02" x2="99.03" y2="125.87" stroke="#7E2F8E" stroke-width="1.3" stroke-dasharray="2.4 2.1" stroke-dashoffset="2.99"/>
<line x1="99.03" y1="125.87" x2="115.97" y2="126.58" stroke="#7E2F8E" stroke-width="1.3" stroke-dasharray="2.4 2.1" stroke-dashoffset="1.94"/>
<line x1="115.97" y1="126.58" x2="132.9" y2="127.43" stroke="#7E2F8E" stroke-width="1.3" stroke-dasharray="2.4 2.1" stroke-dashoffset="0.89"/>
<circle cx="31.3" cy="113.54" r="1.5" fill="#7E2F8E"/>
<circle cx="48.23" cy="120.35" r="1.5" fill="#7E2F8E"/>
<circle cx="65.17" cy="123.61" r="1.5" fill="#7E2F8E"/>
<circle cx="82.1" cy="125.02" r="1.5" fill="#7E2F8E"/>
<circle cx="99.03" cy="125.87" r="1.5" fill="#7E2F8E"/>
<circle cx="115.97" cy="126.58" r="1.5" fill="#7E2F8E"/>
<circle cx="132.9" cy="127.43" r="1.5" fill="#7E2F8E"/>
<line x1="31.3" y1="111.14" x2="48.23" y2="115.95" stroke="#77AC30" stroke-width="1.3" stroke-dasharray="2.4 2.1" stroke-dashoffset="0"/>
<line x1="48.23" y1="115.95" x2="65.17" y2="118.22" stroke="#77AC30" stroke-width="1.3" stroke-dasharray="2.4 2.1" stroke-dashoffset="4.11"/>
<line x1="65.17" y1="118.22" x2="82.1" y2="119.35" stroke="#77AC30" stroke-width="1.3" stroke-dasharray="2.4 2.1" stroke-dashoffset="3.19"/>
<line x1="82.1" y1="119.35" x2="99.03" y2="119.92" stroke="#77AC30" stroke-width="1.3" stroke-dasharray="2.4 2.1" stroke-dashoffset="2.16"/>
<line x1="99.03" y1="119.92" x2="115.97" y2="120.35" stroke="#77AC30" stroke-width="1.3" stroke-dasharray="2.4 2.1" stroke-dashoffset="1.1"/>
<line x1="115.97" y1="120.35" x2="132.9" y2="120.77" stroke="#77AC30" stroke-width="1.3" stroke-dasharray="2.4 2.1" stroke-dashoffset="0.04"/>
<circle cx="31.3" cy="111.14" r="1.5" fill="#77AC30"/>
<circle cx="48.23" cy="115.95" r="1.5" fill="#77AC30"/>
<circle cx="65.17" cy="118.22" r="1.5" fill="#77AC30"/>
<circle cx="82.1" cy="119.35" r="1.5" fill="#77AC30"/>
<circle cx="99.03" cy="119.92" r="1.5" fill="#77AC30"/>
<circle cx="115.97" cy="120.35" r="1.5" fill="#77AC30"/>
<circle cx="132.9" cy="120.77" r="1.5" fill="#77AC30"/>
<line x1="31.3" y1="109.44" x2="48.23" y2="112.98" stroke="#4DBEEE" stroke-width="1.3" stroke-dasharray="2.4 2.1" stroke-dashoffset="0"/>
<line x1="48.23" y1="112.98" x2="65.17" y2="114.39" stroke="#4DBEEE" stroke-width="1.3" stroke-dasharray="2.4 2.1" stroke-dashoffset="3.8"/>
<line x1="65.17" y1="114.39" x2="82.1" y2="115.1" stroke="#4DBEEE" stroke-width="1.3" stroke-dasharray="2.4 2.1" stroke-dashoffset="2.79"/>
<line x1="82.1" y1="115.1" x2="99.03" y2="115.39" stroke="#4DBEEE" stroke-width="1.3" stroke-dasharray="2.4 2.1" stroke-dashoffset="1.74"/>
<line x1="99.03" y1="115.39" x2="115.97" y2="115.53" stroke="#4DBEEE" stroke-width="1.3" stroke-dasharray="2.4 2.1" stroke-dashoffset="0.68"/>
<line x1="115.97" y1="115.53" x2="132.9" y2="115.67" stroke="#4DBEEE" stroke-width="1.3" stroke-dasharray="2.4 2.1" stroke-dashoffset="4.11"/>
<circle cx="31.3" cy="109.44" r="1.5" fill="#4DBEEE"/>
<circle cx="48.23" cy="112.98" r="1.5" fill="#4DBEEE"/>
<circle cx="65.17" cy="114.39" r="1.5" fill="#4DBEEE"/>
<circle cx="82.1" cy="115.1" r="1.5" fill="#4DBEEE"/>
<circle cx="99.03" cy="115.39" r="1.5" fill="#4DBEEE"/>
<circle cx="115.97" cy="115.53" r="1.5" fill="#4DBEEE"/>
<circle cx="132.9" cy="115.67" r="1.5" fill="#4DBEEE"/>
<line x1="31.3" y1="107.73" x2="48.23" y2="110.85" stroke="#A2142F" stroke-width="1.3" stroke-dasharray="2.4 2.1" stroke-dashoffset="0"/>
<line x1="48.23" y1="110.85" x2="65.17" y2="112.27" stroke="#A2142F" stroke-width="1.3" stroke-dasharray="2.4 2.1" stroke-dashoffset="3.72"/>
<line x1="65.17" y1="112.27" x2="82.1" y2="112.84" stroke="#A2142F" stroke-width="1.3" stroke-dasharray="2.4 2.1" stroke-dashoffset="2.71"/>
<line x1="82.1" y1="112.84" x2="99.03" y2="112.98" stroke="#A2142F" stroke-width="1.3" stroke-dasharray="2.4 2.1" stroke-dashoffset="1.65"/>
<line x1="99.03" y1="112.98" x2="115.97" y2="113.12" stroke="#A2142F" stroke-width="1.3" stroke-dasharray="2.4 2.1" stroke-dashoffset="0.59"/>
<line x1="115.97" y1="113.12" x2="132.9" y2="113.26" stroke="#A2142F" stroke-width="1.3" stroke-dasharray="2.4 2.1" stroke-dashoffset="4.02"/>
<circle cx="31.3" cy="107.73" r="1.5" fill="#A2142F"/>
<circle cx="48.23" cy="110.85" r="1.5" fill="#A2142F"/>
<circle cx="65.17" cy="112.27" r="1.5" fill="#A2142F"/>
<circle cx="82.1" cy="112.84" r="1.5" fill="#A2142F"/>
<circle cx="99.03" cy="112.98" r="1.5" fill="#A2142F"/>
<circle cx="115.97" cy="113.12" r="1.5" fill="#A2142F"/>
<circle cx="132.9" cy="113.26" r="1.5" fill="#A2142F"/>
<line x1="31.3" y1="106.18" x2="48.23" y2="108.73" stroke="#0072BD" stroke-width="1.3" stroke-dasharray="2.4 2.1" stroke-dashoffset="0"/>
<line x1="48.23" y1="108.73" x2="65.17" y2="109.44" stroke="#0072BD" stroke-width="1.3" stroke-dasharray="2.4 2.1" stroke-dashoffset="3.62"/>
<line x1="65.17" y1="109.44" x2="82.1" y2="109.86" stroke="#0072BD" stroke-width="1.3" stroke-dasharray="2.4 2.1" stroke-dashoffset="2.57"/>
<line x1="82.1" y1="109.86" x2="99.03" y2="110" stroke="#0072BD" stroke-width="1.3" stroke-dasharray="2.4 2.1" stroke-dashoffset="1.51"/>
<line x1="99.03" y1="110" x2="115.97" y2="110.14" stroke="#0072BD" stroke-width="1.3" stroke-dasharray="2.4 2.1" stroke-dashoffset="0.45"/>
<line x1="115.97" y1="110.14" x2="132.9" y2="110.29" stroke="#0072BD" stroke-width="1.3" stroke-dasharray="2.4 2.1" stroke-dashoffset="3.88"/>
<circle cx="31.3" cy="106.18" r="1.5" fill="#0072BD"/>
<circle cx="48.23" cy="108.73" r="1.5" fill="#0072BD"/>
<circle cx="65.17" cy="109.44" r="1.5" fill="#0072BD"/>
<circle cx="82.1" cy="109.86" r="1.5" fill="#0072BD"/>
<circle cx="99.03" cy="110" r="1.5" fill="#0072BD"/>
<circle cx="115.97" cy="110.14" r="1.5" fill="#0072BD"/>
<circle cx="132.9" cy="110.29" r="1.5" fill="#0072BD"/>
<line x1="31.3" y1="104.48" x2="48.23" y2="106.6" stroke="#D95319" stroke-width="1.3" stroke-dasharray="2.4 2.1" stroke-dashoffset="0"/>
<line x1="48.23" y1="106.6" x2="65.17" y2="107.03" stroke="#D95319" stroke-width="1.3" stroke-dasharray="2.4 2.1" stroke-dashoffset="3.57"/>
<line x1="65.17" y1="107.03" x2="82.1" y2="107.17" stroke="#D95319" stroke-width="1.3" stroke-dasharray="2.4 2.1" stroke-dashoffset="2.5"/>
<line x1="82.1" y1="107.17" x2="99.03" y2="107.17" stroke="#D95319" stroke-width="1.3" stroke-dasharray="2.4 2.1" stroke-dashoffset="1.44"/>
<line x1="99.03" y1="107.17" x2="115.97" y2="107.17" stroke="#D95319" stroke-width="1.3" stroke-dasharray="2.4 2.1" stroke-dashoffset="0.37"/>
<line x1="115.97" y1="107.17" x2="132.9" y2="107.17" stroke="#D95319" stroke-width="1.3" stroke-dasharray="2.4 2.1" stroke-dashoffset="3.81"/>
<circle cx="31.3" cy="104.48" r="1.5" fill="#D95319"/>
<circle cx="48.23" cy="106.6" r="1.5" fill="#D95319"/>
<circle cx="65.17" cy="107.03" r="1.5" fill="#D95319"/>
<circle cx="82.1" cy="107.17" r="1.5" fill="#D95319"/>
<circle cx="99.03" cy="107.17" r="1.5" fill="#D95319"/>
<circle cx="115.97" cy="107.17" r="1.5" fill="#D95319"/>
<circle cx="132.9" cy="107.17" r="1.5" fill="#D95319"/>
<line x1="31.3" y1="103.2" x2="48.23" y2="105.47" stroke="#EDB120" stroke-width="1.3" stroke-dasharray="2.4 2.1" stroke-dashoffset="0"/>
<line x1="48.23" y1="105.47" x2="65.17" y2="105.89" stroke="#EDB120" stroke-width="1.3" stroke-dasharray="2.4 2.1" stroke-dashoffset="3.58"/>
<line x1="65.17" y1="105.89" x2="82.1" y2="106.03" stroke="#EDB120" stroke-width="1.3" stroke-dasharray="2.4 2.1" stroke-dashoffset="2.52"/>
<line x1="82.1" y1="106.03" x2="99.03" y2="106.18" stroke="#EDB120" stroke-width="1.3" stroke-dasharray="2.4 2.1" stroke-dashoffset="1.46"/>
<line x1="99.03" y1="106.18" x2="115.97" y2="106.32" stroke="#EDB120" stroke-width="1.3" stroke-dasharray="2.4 2.1" stroke-dashoffset="0.39"/>
<line x1="115.97" y1="106.32" x2="132.9" y2="106.32" stroke="#EDB120" stroke-width="1.3" stroke-dasharray="2.4 2.1" stroke-dashoffset="3.82"/>
<circle cx="31.3" cy="103.2" r="1.5" fill="#EDB120"/>
<circle cx="48.23" cy="105.47" r="1.5" fill="#EDB120"/>
<circle cx="65.17" cy="105.89" r="1.5" fill="#EDB120"/>
<circle cx="82.1" cy="106.03" r="1.5" fill="#EDB120"/>
<circle cx="99.03" cy="106.18" r="1.5" fill="#EDB120"/>
<circle cx="115.97" cy="106.32" r="1.5" fill="#EDB120"/>
<circle cx="132.9" cy="106.32" r="1.5" fill="#EDB120"/>
<line x1="31.3" y1="103.2" x2="31.3" y2="161.7" stroke="#707070" stroke-width="0.9"/>
<line x1="30.9" y1="161.3" x2="132.9" y2="161.3" stroke="#707070" stroke-width="0.9"/>
<text x="29.1" y="160.22" font-size="7.5" text-anchor="end" fill="#404040" stroke="#404040" stroke-width="0.1">0.5</text>
<text x="29.1" y="146.04" font-size="7.5" text-anchor="end" fill="#404040" stroke="#404040" stroke-width="0.1">0.6</text>
<text x="29.1" y="131.87" font-size="7.5" text-anchor="end" fill="#404040" stroke="#404040" stroke-width="0.1">0.7</text>
<text x="29.1" y="117.7" font-size="7.5" text-anchor="end" fill="#404040" stroke="#404040" stroke-width="0.1">0.8</text>
<text x="48.23" y="169.9" font-size="7.5" text-anchor="middle" fill="#404040" stroke="#404040" stroke-width="0.1">2</text>
<text x="82.1" y="169.9" font-size="7.5" text-anchor="middle" fill="#404040" stroke="#404040" stroke-width="0.1">4</text>
<text x="115.97" y="169.9" font-size="7.5" text-anchor="middle" fill="#404040" stroke="#404040" stroke-width="0.1">6</text>
<text x="15" y="132.6" font-size="8.2" text-anchor="middle" fill="#5a5a5a" stroke="#5a5a5a" stroke-width="0.1" transform="rotate(-90 15 132.6)" textLength="36.5" lengthAdjust="spacingAndGlyphs">Power ratio</text>
<text x="82.1" y="180.3" font-size="9.2" text-anchor="middle" fill="#8c8c8c" stroke="#8c8c8c" stroke-width="0.1">#<tspan font-style="italic">C</tspan><tspan font-size="0.7em" font-style="italic" dy="1.2">in</tspan></text>
<text x="82.1" y="189.7" font-size="7.5" text-anchor="middle" fill="#1e1e1e" stroke="#1e1e1e" stroke-width="0.25" font-weight="bold" textLength="36" lengthAdjust="spacingAndGlyphs">Y-Z plane</text>
<line x1="175.83" y1="103.2" x2="175.83" y2="161.3" stroke="#dcdcdc" stroke-width="0.7"/>
<line x1="209.7" y1="103.2" x2="209.7" y2="161.3" stroke="#dcdcdc" stroke-width="0.7"/>
<line x1="243.57" y1="103.2" x2="243.57" y2="161.3" stroke="#dcdcdc" stroke-width="0.7"/>
<line x1="158.9" y1="146.78" x2="260.5" y2="146.78" stroke="#dcdcdc" stroke-width="0.7"/>
<line x1="158.9" y1="131.95" x2="260.5" y2="131.95" stroke="#dcdcdc" stroke-width="0.7"/>
<line x1="158.9" y1="117.13" x2="260.5" y2="117.13" stroke="#dcdcdc" stroke-width="0.7"/>
<line x1="158.9" y1="120.69" x2="175.83" y2="137.29" stroke="#0072BD" stroke-width="1.3" stroke-dasharray="2.4 2.1" stroke-dashoffset="0"/>
<line x1="175.83" y1="137.29" x2="192.77" y2="146.78" stroke="#0072BD" stroke-width="1.3" stroke-dasharray="2.4 2.1" stroke-dashoffset="1.21"/>
<line x1="192.77" y1="146.78" x2="209.7" y2="152.56" stroke="#0072BD" stroke-width="1.3" stroke-dasharray="2.4 2.1" stroke-dashoffset="2.62"/>
<line x1="209.7" y1="152.56" x2="226.63" y2="156.41" stroke="#0072BD" stroke-width="1.3" stroke-dasharray="2.4 2.1" stroke-dashoffset="2.51"/>
<line x1="226.63" y1="156.41" x2="243.57" y2="159.23" stroke="#0072BD" stroke-width="1.3" stroke-dasharray="2.4 2.1" stroke-dashoffset="1.88"/>
<line x1="243.57" y1="159.23" x2="260.5" y2="161.3" stroke="#0072BD" stroke-width="1.3" stroke-dasharray="2.4 2.1" stroke-dashoffset="1.05"/>
<circle cx="158.9" cy="120.69" r="1.5" fill="#0072BD"/>
<circle cx="175.83" cy="137.29" r="1.5" fill="#0072BD"/>
<circle cx="192.77" cy="146.78" r="1.5" fill="#0072BD"/>
<circle cx="209.7" cy="152.56" r="1.5" fill="#0072BD"/>
<circle cx="226.63" cy="156.41" r="1.5" fill="#0072BD"/>
<circle cx="243.57" cy="159.23" r="1.5" fill="#0072BD"/>
<circle cx="260.5" cy="161.3" r="1.5" fill="#0072BD"/>
<line x1="158.9" y1="117.58" x2="175.83" y2="131.95" stroke="#D95319" stroke-width="1.3" stroke-dasharray="2.4 2.1" stroke-dashoffset="0"/>
<line x1="175.83" y1="131.95" x2="192.77" y2="138.92" stroke="#D95319" stroke-width="1.3" stroke-dasharray="2.4 2.1" stroke-dashoffset="4.21"/>
<line x1="192.77" y1="138.92" x2="209.7" y2="142.92" stroke="#D95319" stroke-width="1.3" stroke-dasharray="2.4 2.1" stroke-dashoffset="0.02"/>
<line x1="209.7" y1="142.92" x2="226.63" y2="146.03" stroke="#D95319" stroke-width="1.3" stroke-dasharray="2.4 2.1" stroke-dashoffset="3.92"/>
<line x1="226.63" y1="146.03" x2="243.57" y2="147.81" stroke="#D95319" stroke-width="1.3" stroke-dasharray="2.4 2.1" stroke-dashoffset="3.14"/>
<line x1="243.57" y1="147.81" x2="260.5" y2="149.89" stroke="#D95319" stroke-width="1.3" stroke-dasharray="2.4 2.1" stroke-dashoffset="2.17"/>
<circle cx="158.9" cy="117.58" r="1.5" fill="#D95319"/>
<circle cx="175.83" cy="131.95" r="1.5" fill="#D95319"/>
<circle cx="192.77" cy="138.92" r="1.5" fill="#D95319"/>
<circle cx="209.7" cy="142.92" r="1.5" fill="#D95319"/>
<circle cx="226.63" cy="146.03" r="1.5" fill="#D95319"/>
<circle cx="243.57" cy="147.81" r="1.5" fill="#D95319"/>
<circle cx="260.5" cy="149.89" r="1.5" fill="#D95319"/>
<line x1="158.9" y1="115.06" x2="175.83" y2="126.77" stroke="#EDB120" stroke-width="1.3" stroke-dasharray="2.4 2.1" stroke-dashoffset="0"/>
<line x1="175.83" y1="126.77" x2="192.77" y2="131.95" stroke="#EDB120" stroke-width="1.3" stroke-dasharray="2.4 2.1" stroke-dashoffset="2.59"/>
<line x1="192.77" y1="131.95" x2="209.7" y2="134.77" stroke="#EDB120" stroke-width="1.3" stroke-dasharray="2.4 2.1" stroke-dashoffset="2.3"/>
<line x1="209.7" y1="134.77" x2="226.63" y2="136.84" stroke="#EDB120" stroke-width="1.3" stroke-dasharray="2.4 2.1" stroke-dashoffset="1.46"/>
<line x1="226.63" y1="136.84" x2="243.57" y2="138.03" stroke="#EDB120" stroke-width="1.3" stroke-dasharray="2.4 2.1" stroke-dashoffset="0.52"/>
<line x1="243.57" y1="138.03" x2="260.5" y2="139.07" stroke="#EDB120" stroke-width="1.3" stroke-dasharray="2.4 2.1" stroke-dashoffset="4"/>
<circle cx="158.9" cy="115.06" r="1.5" fill="#EDB120"/>
<circle cx="175.83" cy="126.77" r="1.5" fill="#EDB120"/>
<circle cx="192.77" cy="131.95" r="1.5" fill="#EDB120"/>
<circle cx="209.7" cy="134.77" r="1.5" fill="#EDB120"/>
<circle cx="226.63" cy="136.84" r="1.5" fill="#EDB120"/>
<circle cx="243.57" cy="138.03" r="1.5" fill="#EDB120"/>
<circle cx="260.5" cy="139.07" r="1.5" fill="#EDB120"/>
<line x1="158.9" y1="112.39" x2="175.83" y2="120.84" stroke="#7E2F8E" stroke-width="1.3" stroke-dasharray="2.4 2.1" stroke-dashoffset="0"/>
<line x1="175.83" y1="120.84" x2="192.77" y2="124.84" stroke="#7E2F8E" stroke-width="1.3" stroke-dasharray="2.4 2.1" stroke-dashoffset="0.92"/>
<line x1="192.77" y1="124.84" x2="209.7" y2="126.77" stroke="#7E2F8E" stroke-width="1.3" stroke-dasharray="2.4 2.1" stroke-dashoffset="0.32"/>
<line x1="209.7" y1="126.77" x2="226.63" y2="127.8" stroke="#7E2F8E" stroke-width="1.3" stroke-dasharray="2.4 2.1" stroke-dashoffset="3.87"/>
<line x1="226.63" y1="127.8" x2="243.57" y2="128.99" stroke="#7E2F8E" stroke-width="1.3" stroke-dasharray="2.4 2.1" stroke-dashoffset="2.83"/>
<line x1="243.57" y1="128.99" x2="260.5" y2="129.58" stroke="#7E2F8E" stroke-width="1.3" stroke-dasharray="2.4 2.1" stroke-dashoffset="1.81"/>
<circle cx="158.9" cy="112.39" r="1.5" fill="#7E2F8E"/>
<circle cx="175.83" cy="120.84" r="1.5" fill="#7E2F8E"/>
<circle cx="192.77" cy="124.84" r="1.5" fill="#7E2F8E"/>
<circle cx="209.7" cy="126.77" r="1.5" fill="#7E2F8E"/>
<circle cx="226.63" cy="127.8" r="1.5" fill="#7E2F8E"/>
<circle cx="243.57" cy="128.99" r="1.5" fill="#7E2F8E"/>
<circle cx="260.5" cy="129.58" r="1.5" fill="#7E2F8E"/>
<line x1="158.9" y1="110.31" x2="175.83" y2="116.84" stroke="#77AC30" stroke-width="1.3" stroke-dasharray="2.4 2.1" stroke-dashoffset="0"/>
<line x1="175.83" y1="116.84" x2="192.77" y2="119.5" stroke="#77AC30" stroke-width="1.3" stroke-dasharray="2.4 2.1" stroke-dashoffset="0.15"/>
<line x1="192.77" y1="119.5" x2="209.7" y2="120.84" stroke="#77AC30" stroke-width="1.3" stroke-dasharray="2.4 2.1" stroke-dashoffset="3.79"/>
<line x1="209.7" y1="120.84" x2="226.63" y2="122.02" stroke="#77AC30" stroke-width="1.3" stroke-dasharray="2.4 2.1" stroke-dashoffset="2.77"/>
<line x1="226.63" y1="122.02" x2="243.57" y2="122.32" stroke="#77AC30" stroke-width="1.3" stroke-dasharray="2.4 2.1" stroke-dashoffset="1.75"/>
<line x1="243.57" y1="122.32" x2="260.5" y2="122.91" stroke="#77AC30" stroke-width="1.3" stroke-dasharray="2.4 2.1" stroke-dashoffset="0.68"/>
<circle cx="158.9" cy="110.31" r="1.5" fill="#77AC30"/>
<circle cx="175.83" cy="116.84" r="1.5" fill="#77AC30"/>
<circle cx="192.77" cy="119.5" r="1.5" fill="#77AC30"/>
<circle cx="209.7" cy="120.84" r="1.5" fill="#77AC30"/>
<circle cx="226.63" cy="122.02" r="1.5" fill="#77AC30"/>
<circle cx="243.57" cy="122.32" r="1.5" fill="#77AC30"/>
<circle cx="260.5" cy="122.91" r="1.5" fill="#77AC30"/>
<line x1="158.9" y1="108.68" x2="175.83" y2="112.98" stroke="#4DBEEE" stroke-width="1.3" stroke-dasharray="2.4 2.1" stroke-dashoffset="0"/>
<line x1="175.83" y1="112.98" x2="192.77" y2="115.35" stroke="#4DBEEE" stroke-width="1.3" stroke-dasharray="2.4 2.1" stroke-dashoffset="3.97"/>
<line x1="192.77" y1="115.35" x2="209.7" y2="116.39" stroke="#4DBEEE" stroke-width="1.3" stroke-dasharray="2.4 2.1" stroke-dashoffset="3.07"/>
<line x1="209.7" y1="116.39" x2="226.63" y2="116.98" stroke="#4DBEEE" stroke-width="1.3" stroke-dasharray="2.4 2.1" stroke-dashoffset="2.03"/>
<line x1="226.63" y1="116.98" x2="243.57" y2="117.43" stroke="#4DBEEE" stroke-width="1.3" stroke-dasharray="2.4 2.1" stroke-dashoffset="0.98"/>
<line x1="243.57" y1="117.43" x2="260.5" y2="117.58" stroke="#4DBEEE" stroke-width="1.3" stroke-dasharray="2.4 2.1" stroke-dashoffset="4.42"/>
<circle cx="158.9" cy="108.68" r="1.5" fill="#4DBEEE"/>
<circle cx="175.83" cy="112.98" r="1.5" fill="#4DBEEE"/>
<circle cx="192.77" cy="115.35" r="1.5" fill="#4DBEEE"/>
<circle cx="209.7" cy="116.39" r="1.5" fill="#4DBEEE"/>
<circle cx="226.63" cy="116.98" r="1.5" fill="#4DBEEE"/>
<circle cx="243.57" cy="117.43" r="1.5" fill="#4DBEEE"/>
<circle cx="260.5" cy="117.58" r="1.5" fill="#4DBEEE"/>
<line x1="158.9" y1="107.2" x2="175.83" y2="111.06" stroke="#A2142F" stroke-width="1.3" stroke-dasharray="2.4 2.1" stroke-dashoffset="0"/>
<line x1="175.83" y1="111.06" x2="192.77" y2="112.69" stroke="#A2142F" stroke-width="1.3" stroke-dasharray="2.4 2.1" stroke-dashoffset="3.87"/>
<line x1="192.77" y1="112.69" x2="209.7" y2="113.28" stroke="#A2142F" stroke-width="1.3" stroke-dasharray="2.4 2.1" stroke-dashoffset="2.88"/>
<line x1="209.7" y1="113.28" x2="226.63" y2="113.87" stroke="#A2142F" stroke-width="1.3" stroke-dasharray="2.4 2.1" stroke-dashoffset="1.82"/>
<line x1="226.63" y1="113.87" x2="243.57" y2="114.17" stroke="#A2142F" stroke-width="1.3" stroke-dasharray="2.4 2.1" stroke-dashoffset="0.77"/>
<line x1="243.57" y1="114.17" x2="260.5" y2="114.76" stroke="#A2142F" stroke-width="1.3" stroke-dasharray="2.4 2.1" stroke-dashoffset="4.2"/>
<circle cx="158.9" cy="107.2" r="1.5" fill="#A2142F"/>
<circle cx="175.83" cy="111.06" r="1.5" fill="#A2142F"/>
<circle cx="192.77" cy="112.69" r="1.5" fill="#A2142F"/>
<circle cx="209.7" cy="113.28" r="1.5" fill="#A2142F"/>
<circle cx="226.63" cy="113.87" r="1.5" fill="#A2142F"/>
<circle cx="243.57" cy="114.17" r="1.5" fill="#A2142F"/>
<circle cx="260.5" cy="114.76" r="1.5" fill="#A2142F"/>
<line x1="158.9" y1="105.87" x2="175.83" y2="108.98" stroke="#0072BD" stroke-width="1.3" stroke-dasharray="2.4 2.1" stroke-dashoffset="0"/>
<line x1="175.83" y1="108.98" x2="192.77" y2="110.31" stroke="#0072BD" stroke-width="1.3" stroke-dasharray="2.4 2.1" stroke-dashoffset="3.72"/>
<line x1="192.77" y1="110.31" x2="209.7" y2="110.76" stroke="#0072BD" stroke-width="1.3" stroke-dasharray="2.4 2.1" stroke-dashoffset="2.7"/>
<line x1="209.7" y1="110.76" x2="226.63" y2="111.06" stroke="#0072BD" stroke-width="1.3" stroke-dasharray="2.4 2.1" stroke-dashoffset="1.64"/>
<line x1="226.63" y1="111.06" x2="243.57" y2="111.06" stroke="#0072BD" stroke-width="1.3" stroke-dasharray="2.4 2.1" stroke-dashoffset="0.58"/>
<line x1="243.57" y1="111.06" x2="260.5" y2="111.5" stroke="#0072BD" stroke-width="1.3" stroke-dasharray="2.4 2.1" stroke-dashoffset="4.01"/>
<circle cx="158.9" cy="105.87" r="1.5" fill="#0072BD"/>
<circle cx="175.83" cy="108.98" r="1.5" fill="#0072BD"/>
<circle cx="192.77" cy="110.31" r="1.5" fill="#0072BD"/>
<circle cx="209.7" cy="110.76" r="1.5" fill="#0072BD"/>
<circle cx="226.63" cy="111.06" r="1.5" fill="#0072BD"/>
<circle cx="243.57" cy="111.06" r="1.5" fill="#0072BD"/>
<circle cx="260.5" cy="111.5" r="1.5" fill="#0072BD"/>
<line x1="158.9" y1="104.68" x2="175.83" y2="106.76" stroke="#D95319" stroke-width="1.3" stroke-dasharray="2.4 2.1" stroke-dashoffset="0"/>
<line x1="175.83" y1="106.76" x2="192.77" y2="107.35" stroke="#D95319" stroke-width="1.3" stroke-dasharray="2.4 2.1" stroke-dashoffset="3.56"/>
<line x1="192.77" y1="107.35" x2="209.7" y2="107.5" stroke="#D95319" stroke-width="1.3" stroke-dasharray="2.4 2.1" stroke-dashoffset="2.5"/>
<line x1="209.7" y1="107.5" x2="226.63" y2="107.5" stroke="#D95319" stroke-width="1.3" stroke-dasharray="2.4 2.1" stroke-dashoffset="1.44"/>
<line x1="226.63" y1="107.5" x2="243.57" y2="107.5" stroke="#D95319" stroke-width="1.3" stroke-dasharray="2.4 2.1" stroke-dashoffset="0.37"/>
<line x1="243.57" y1="107.5" x2="260.5" y2="108.68" stroke="#D95319" stroke-width="1.3" stroke-dasharray="2.4 2.1" stroke-dashoffset="3.8"/>
<circle cx="158.9" cy="104.68" r="1.5" fill="#D95319"/>
<circle cx="175.83" cy="106.76" r="1.5" fill="#D95319"/>
<circle cx="192.77" cy="107.35" r="1.5" fill="#D95319"/>
<circle cx="209.7" cy="107.5" r="1.5" fill="#D95319"/>
<circle cx="226.63" cy="107.5" r="1.5" fill="#D95319"/>
<circle cx="243.57" cy="107.5" r="1.5" fill="#D95319"/>
<circle cx="260.5" cy="108.68" r="1.5" fill="#D95319"/>
<line x1="158.9" y1="103.2" x2="175.83" y2="105.42" stroke="#EDB120" stroke-width="1.3" stroke-dasharray="2.4 2.1" stroke-dashoffset="0"/>
<line x1="175.83" y1="105.42" x2="192.77" y2="106.46" stroke="#EDB120" stroke-width="1.3" stroke-dasharray="2.4 2.1" stroke-dashoffset="3.58"/>
<line x1="192.77" y1="106.46" x2="209.7" y2="106.76" stroke="#EDB120" stroke-width="1.3" stroke-dasharray="2.4 2.1" stroke-dashoffset="2.54"/>
<line x1="209.7" y1="106.76" x2="226.63" y2="106.76" stroke="#EDB120" stroke-width="1.3" stroke-dasharray="2.4 2.1" stroke-dashoffset="1.48"/>
<line x1="226.63" y1="106.76" x2="243.57" y2="106.76" stroke="#EDB120" stroke-width="1.3" stroke-dasharray="2.4 2.1" stroke-dashoffset="0.41"/>
<line x1="243.57" y1="106.76" x2="260.5" y2="106.76" stroke="#EDB120" stroke-width="1.3" stroke-dasharray="2.4 2.1" stroke-dashoffset="3.85"/>
<circle cx="158.9" cy="103.2" r="1.5" fill="#EDB120"/>
<circle cx="175.83" cy="105.42" r="1.5" fill="#EDB120"/>
<circle cx="192.77" cy="106.46" r="1.5" fill="#EDB120"/>
<circle cx="209.7" cy="106.76" r="1.5" fill="#EDB120"/>
<circle cx="226.63" cy="106.76" r="1.5" fill="#EDB120"/>
<circle cx="243.57" cy="106.76" r="1.5" fill="#EDB120"/>
<circle cx="260.5" cy="106.76" r="1.5" fill="#EDB120"/>
<line x1="158.9" y1="103.2" x2="158.9" y2="161.7" stroke="#707070" stroke-width="0.9"/>
<line x1="158.5" y1="161.3" x2="260.5" y2="161.3" stroke="#707070" stroke-width="0.9"/>
<text x="156.7" y="149.38" font-size="7.5" text-anchor="end" fill="#404040" stroke="#404040" stroke-width="0.1">0.5</text>
<text x="156.7" y="134.55" font-size="7.5" text-anchor="end" fill="#404040" stroke="#404040" stroke-width="0.1">0.6</text>
<text x="156.7" y="119.73" font-size="7.5" text-anchor="end" fill="#404040" stroke="#404040" stroke-width="0.1">0.7</text>
<text x="175.83" y="169.9" font-size="7.5" text-anchor="middle" fill="#404040" stroke="#404040" stroke-width="0.1">2</text>
<text x="209.7" y="169.9" font-size="7.5" text-anchor="middle" fill="#404040" stroke="#404040" stroke-width="0.1">4</text>
<text x="243.57" y="169.9" font-size="7.5" text-anchor="middle" fill="#404040" stroke="#404040" stroke-width="0.1">6</text>
<text x="142" y="132.4" font-size="8.2" text-anchor="middle" fill="#5a5a5a" stroke="#5a5a5a" stroke-width="0.1" transform="rotate(-90 142 132.4)" textLength="32.5" lengthAdjust="spacingAndGlyphs">Area ratio</text>
<text x="209.7" y="180.3" font-size="9.2" text-anchor="middle" fill="#8c8c8c" stroke="#8c8c8c" stroke-width="0.1">#<tspan font-style="italic">C</tspan><tspan font-size="0.7em" font-style="italic" dy="1.2">in</tspan></text>
<text x="209.7" y="189.7" font-size="7.5" text-anchor="middle" fill="#1e1e1e" stroke="#1e1e1e" stroke-width="0.25" font-weight="bold" textLength="36" lengthAdjust="spacingAndGlyphs">Y-Z plane</text>
<line x1="307.33" y1="103.2" x2="307.33" y2="161.3" stroke="#dcdcdc" stroke-width="0.7"/>
<line x1="341.2" y1="103.2" x2="341.2" y2="161.3" stroke="#dcdcdc" stroke-width="0.7"/>
<line x1="375.07" y1="103.2" x2="375.07" y2="161.3" stroke="#dcdcdc" stroke-width="0.7"/>
<line x1="290.4" y1="146.74" x2="392" y2="146.74" stroke="#dcdcdc" stroke-width="0.7"/>
<line x1="290.4" y1="131.88" x2="392" y2="131.88" stroke="#dcdcdc" stroke-width="0.7"/>
<line x1="290.4" y1="117.02" x2="392" y2="117.02" stroke="#dcdcdc" stroke-width="0.7"/>
<line x1="307.33" y1="139.61" x2="324.27" y2="103.2" stroke="#EDB120" stroke-width="1.3" stroke-dasharray="2.4 2.1" stroke-dashoffset="3.43"/>
<line x1="324.27" y1="103.2" x2="341.2" y2="135.89" stroke="#EDB120" stroke-width="1.3" stroke-dasharray="2.4 2.1" stroke-dashoffset="3.08"/>
<line x1="341.2" y1="135.89" x2="358.13" y2="103.2" stroke="#EDB120" stroke-width="1.3" stroke-dasharray="2.4 2.1" stroke-dashoffset="3.9"/>
<circle cx="341.2" cy="135.89" r="1.5" fill="#EDB120"/>
<line x1="290.4" y1="103.2" x2="307.33" y2="103.2" stroke="#7E2F8E" stroke-width="1.3" stroke-dasharray="2.4 2.1" stroke-dashoffset="0"/>
<line x1="307.33" y1="103.2" x2="324.27" y2="103.2" stroke="#7E2F8E" stroke-width="1.3" stroke-dasharray="2.4 2.1" stroke-dashoffset="3.43"/>
<line x1="324.27" y1="103.2" x2="341.2" y2="103.2" stroke="#7E2F8E" stroke-width="1.3" stroke-dasharray="2.4 2.1" stroke-dashoffset="2.37"/>
<line x1="341.2" y1="103.2" x2="358.13" y2="103.2" stroke="#7E2F8E" stroke-width="1.3" stroke-dasharray="2.4 2.1" stroke-dashoffset="1.3"/>
<line x1="358.13" y1="103.2" x2="375.07" y2="103.2" stroke="#7E2F8E" stroke-width="1.3" stroke-dasharray="2.4 2.1" stroke-dashoffset="0.23"/>
<line x1="375.07" y1="103.2" x2="392" y2="103.2" stroke="#7E2F8E" stroke-width="1.3" stroke-dasharray="2.4 2.1" stroke-dashoffset="3.67"/>
<circle cx="290.4" cy="103.2" r="1.5" fill="#7E2F8E"/>
<circle cx="307.33" cy="103.2" r="1.5" fill="#7E2F8E"/>
<circle cx="324.27" cy="103.2" r="1.5" fill="#7E2F8E"/>
<circle cx="341.2" cy="103.2" r="1.5" fill="#7E2F8E"/>
<circle cx="358.13" cy="103.2" r="1.5" fill="#7E2F8E"/>
<circle cx="375.07" cy="103.2" r="1.5" fill="#7E2F8E"/>
<circle cx="392" cy="103.2" r="1.5" fill="#7E2F8E"/>
<line x1="290.4" y1="139.61" x2="307.33" y2="139.61" stroke="#D95319" stroke-width="1.3" stroke-dasharray="2.4 2.1" stroke-dashoffset="0"/>
<line x1="307.33" y1="139.61" x2="324.27" y2="139.61" stroke="#D95319" stroke-width="1.3" stroke-dasharray="2.4 2.1" stroke-dashoffset="3.43"/>
<line x1="324.27" y1="139.61" x2="341.2" y2="139.61" stroke="#D95319" stroke-width="1.3" stroke-dasharray="2.4 2.1" stroke-dashoffset="2.37"/>
<line x1="341.2" y1="139.61" x2="358.13" y2="139.61" stroke="#D95319" stroke-width="1.3" stroke-dasharray="2.4 2.1" stroke-dashoffset="1.3"/>
<line x1="358.13" y1="139.61" x2="375.07" y2="139.61" stroke="#D95319" stroke-width="1.3" stroke-dasharray="2.4 2.1" stroke-dashoffset="0.23"/>
<line x1="375.07" y1="139.61" x2="392" y2="139.61" stroke="#D95319" stroke-width="1.3" stroke-dasharray="2.4 2.1" stroke-dashoffset="3.67"/>
<circle cx="290.4" cy="139.61" r="1.5" fill="#D95319"/>
<circle cx="307.33" cy="139.61" r="1.5" fill="#D95319"/>
<circle cx="324.27" cy="139.61" r="1.5" fill="#D95319"/>
<circle cx="341.2" cy="139.61" r="1.5" fill="#D95319"/>
<circle cx="358.13" cy="139.61" r="1.5" fill="#D95319"/>
<circle cx="375.07" cy="139.61" r="1.5" fill="#D95319"/>
<circle cx="392" cy="139.61" r="1.5" fill="#D95319"/>
<line x1="290.4" y1="161.3" x2="307.33" y2="161.3" stroke="#EDB120" stroke-width="1.3" stroke-dasharray="2.4 2.1" stroke-dashoffset="0"/>
<line x1="307.33" y1="161.3" x2="324.27" y2="161.3" stroke="#EDB120" stroke-width="1.3" stroke-dasharray="2.4 2.1" stroke-dashoffset="3.43"/>
<line x1="324.27" y1="161.3" x2="341.2" y2="161.3" stroke="#EDB120" stroke-width="1.3" stroke-dasharray="2.4 2.1" stroke-dashoffset="2.37"/>
<line x1="341.2" y1="161.3" x2="358.13" y2="161.3" stroke="#EDB120" stroke-width="1.3" stroke-dasharray="2.4 2.1" stroke-dashoffset="1.3"/>
<line x1="358.13" y1="161.3" x2="375.07" y2="161.3" stroke="#EDB120" stroke-width="1.3" stroke-dasharray="2.4 2.1" stroke-dashoffset="0.23"/>
<line x1="375.07" y1="161.3" x2="392" y2="161.3" stroke="#EDB120" stroke-width="1.3" stroke-dasharray="2.4 2.1" stroke-dashoffset="3.67"/>
<circle cx="290.4" cy="161.3" r="1.5" fill="#EDB120"/>
<circle cx="307.33" cy="161.3" r="1.5" fill="#EDB120"/>
<circle cx="324.27" cy="161.3" r="1.5" fill="#EDB120"/>
<circle cx="341.2" cy="161.3" r="1.5" fill="#EDB120"/>
<circle cx="358.13" cy="161.3" r="1.5" fill="#EDB120"/>
<circle cx="375.07" cy="161.3" r="1.5" fill="#EDB120"/>
<circle cx="392" cy="161.3" r="1.5" fill="#EDB120"/>
<line x1="290.4" y1="103.2" x2="290.4" y2="161.7" stroke="#707070" stroke-width="0.9"/>
<line x1="290" y1="161.3" x2="392" y2="161.3" stroke="#707070" stroke-width="0.9"/>
<text x="288.2" y="149.34" font-size="7.5" text-anchor="end" fill="#404040" stroke="#404040" stroke-width="0.1">1</text>
<text x="288.2" y="134.48" font-size="7.5" text-anchor="end" fill="#404040" stroke="#404040" stroke-width="0.1">1.01</text>
<text x="288.2" y="119.62" font-size="7.5" text-anchor="end" fill="#404040" stroke="#404040" stroke-width="0.1">1.02</text>
<text x="307.33" y="169.9" font-size="7.5" text-anchor="middle" fill="#404040" stroke="#404040" stroke-width="0.1">2</text>
<text x="341.2" y="169.9" font-size="7.5" text-anchor="middle" fill="#404040" stroke="#404040" stroke-width="0.1">4</text>
<text x="375.07" y="169.9" font-size="7.5" text-anchor="middle" fill="#404040" stroke="#404040" stroke-width="0.1">6</text>
<text x="268.7" y="132.3" font-size="8.2" text-anchor="middle" fill="#5a5a5a" stroke="#5a5a5a" stroke-width="0.1" transform="rotate(-90 268.7 132.3)" textLength="48.5" lengthAdjust="spacingAndGlyphs">CP Delay ratio</text>
<text x="341.2" y="180.3" font-size="9.2" text-anchor="middle" fill="#8c8c8c" stroke="#8c8c8c" stroke-width="0.1">#<tspan font-style="italic">C</tspan><tspan font-size="0.7em" font-style="italic" dy="1.2">in</tspan></text>
<text x="341.2" y="189.7" font-size="7.5" text-anchor="middle" fill="#1e1e1e" stroke="#1e1e1e" stroke-width="0.25" font-weight="bold" textLength="36" lengthAdjust="spacingAndGlyphs">Y-Z plane</text>
<line x1="31.4" y1="197.6" x2="31.4" y2="256.2" stroke="#dcdcdc" stroke-width="0.7"/>
<line x1="54.07" y1="197.6" x2="54.07" y2="256.2" stroke="#dcdcdc" stroke-width="0.7"/>
<line x1="76.73" y1="197.6" x2="76.73" y2="256.2" stroke="#dcdcdc" stroke-width="0.7"/>
<line x1="99.4" y1="197.6" x2="99.4" y2="256.2" stroke="#dcdcdc" stroke-width="0.7"/>
<line x1="122.07" y1="197.6" x2="122.07" y2="256.2" stroke="#dcdcdc" stroke-width="0.7"/>
<line x1="31.4" y1="252.48" x2="133.4" y2="252.48" stroke="#dcdcdc" stroke-width="0.7"/>
<line x1="31.4" y1="238.19" x2="133.4" y2="238.19" stroke="#dcdcdc" stroke-width="0.7"/>
<line x1="31.4" y1="223.9" x2="133.4" y2="223.9" stroke="#dcdcdc" stroke-width="0.7"/>
<line x1="31.4" y1="209.61" x2="133.4" y2="209.61" stroke="#dcdcdc" stroke-width="0.7"/>
<line x1="31.4" y1="217.47" x2="42.73" y2="214.47" stroke="#0072BD" stroke-width="1.3" stroke-dasharray="2.4 2.1" stroke-dashoffset="0"/>
<line x1="42.73" y1="214.47" x2="54.07" y2="211.61" stroke="#0072BD" stroke-width="1.3" stroke-dasharray="2.4 2.1" stroke-dashoffset="2.72"/>
<line x1="54.07" y1="211.61" x2="65.4" y2="208.03" stroke="#0072BD" stroke-width="1.3" stroke-dasharray="2.4 2.1" stroke-dashoffset="0.91"/>
<line x1="65.4" y1="208.03" x2="76.73" y2="205.6" stroke="#0072BD" stroke-width="1.3" stroke-dasharray="2.4 2.1" stroke-dashoffset="3.8"/>
<line x1="76.73" y1="205.6" x2="88.07" y2="203.89" stroke="#0072BD" stroke-width="1.3" stroke-dasharray="2.4 2.1" stroke-dashoffset="1.89"/>
<line x1="88.07" y1="203.89" x2="99.4" y2="202.17" stroke="#0072BD" stroke-width="1.3" stroke-dasharray="2.4 2.1" stroke-dashoffset="4.35"/>
<line x1="99.4" y1="202.17" x2="110.73" y2="200.6" stroke="#0072BD" stroke-width="1.3" stroke-dasharray="2.4 2.1" stroke-dashoffset="2.31"/>
<line x1="110.73" y1="200.6" x2="122.07" y2="198.89" stroke="#0072BD" stroke-width="1.3" stroke-dasharray="2.4 2.1" stroke-dashoffset="0.25"/>
<line x1="122.07" y1="198.89" x2="133.4" y2="197.6" stroke="#0072BD" stroke-width="1.3" stroke-dasharray="2.4 2.1" stroke-dashoffset="2.72"/>
<circle cx="31.4" cy="217.47" r="1.5" fill="#0072BD"/>
<circle cx="42.73" cy="214.47" r="1.5" fill="#0072BD"/>
<circle cx="54.07" cy="211.61" r="1.5" fill="#0072BD"/>
<circle cx="65.4" cy="208.03" r="1.5" fill="#0072BD"/>
<circle cx="76.73" cy="205.6" r="1.5" fill="#0072BD"/>
<circle cx="88.07" cy="203.89" r="1.5" fill="#0072BD"/>
<circle cx="99.4" cy="202.17" r="1.5" fill="#0072BD"/>
<circle cx="110.73" cy="200.6" r="1.5" fill="#0072BD"/>
<circle cx="122.07" cy="198.89" r="1.5" fill="#0072BD"/>
<circle cx="133.4" cy="197.6" r="1.5" fill="#0072BD"/>
<line x1="31.4" y1="233.62" x2="42.73" y2="226.47" stroke="#D95319" stroke-width="1.3" stroke-dasharray="2.4 2.1" stroke-dashoffset="0"/>
<line x1="42.73" y1="226.47" x2="54.07" y2="220.61" stroke="#D95319" stroke-width="1.3" stroke-dasharray="2.4 2.1" stroke-dashoffset="4.4"/>
<line x1="54.07" y1="220.61" x2="65.4" y2="214.89" stroke="#D95319" stroke-width="1.3" stroke-dasharray="2.4 2.1" stroke-dashoffset="3.66"/>
<line x1="65.4" y1="214.89" x2="76.73" y2="210.46" stroke="#D95319" stroke-width="1.3" stroke-dasharray="2.4 2.1" stroke-dashoffset="2.85"/>
<line x1="76.73" y1="210.46" x2="88.07" y2="207.46" stroke="#D95319" stroke-width="1.3" stroke-dasharray="2.4 2.1" stroke-dashoffset="1.52"/>
<line x1="88.07" y1="207.46" x2="99.4" y2="205.32" stroke="#D95319" stroke-width="1.3" stroke-dasharray="2.4 2.1" stroke-dashoffset="4.24"/>
<line x1="99.4" y1="205.32" x2="110.73" y2="203.17" stroke="#D95319" stroke-width="1.3" stroke-dasharray="2.4 2.1" stroke-dashoffset="2.28"/>
<line x1="110.73" y1="203.17" x2="122.07" y2="201.03" stroke="#D95319" stroke-width="1.3" stroke-dasharray="2.4 2.1" stroke-dashoffset="0.31"/>
<line x1="122.07" y1="201.03" x2="133.4" y2="199.89" stroke="#D95319" stroke-width="1.3" stroke-dasharray="2.4 2.1" stroke-dashoffset="2.85"/>
<circle cx="31.4" cy="233.62" r="1.5" fill="#D95319"/>
<circle cx="42.73" cy="226.47" r="1.5" fill="#D95319"/>
<circle cx="54.07" cy="220.61" r="1.5" fill="#D95319"/>
<circle cx="65.4" cy="214.89" r="1.5" fill="#D95319"/>
<circle cx="76.73" cy="210.46" r="1.5" fill="#D95319"/>
<circle cx="88.07" cy="207.46" r="1.5" fill="#D95319"/>
<circle cx="99.4" cy="205.32" r="1.5" fill="#D95319"/>
<circle cx="110.73" cy="203.17" r="1.5" fill="#D95319"/>
<circle cx="122.07" cy="201.03" r="1.5" fill="#D95319"/>
<circle cx="133.4" cy="199.89" r="1.5" fill="#D95319"/>
<line x1="31.4" y1="242.48" x2="42.73" y2="233.19" stroke="#EDB120" stroke-width="1.3" stroke-dasharray="2.4 2.1" stroke-dashoffset="0"/>
<line x1="42.73" y1="233.19" x2="54.07" y2="225.33" stroke="#EDB120" stroke-width="1.3" stroke-dasharray="2.4 2.1" stroke-dashoffset="1.15"/>
<line x1="54.07" y1="225.33" x2="65.4" y2="218.18" stroke="#EDB120" stroke-width="1.3" stroke-dasharray="2.4 2.1" stroke-dashoffset="1.45"/>
<line x1="65.4" y1="218.18" x2="76.73" y2="212.75" stroke="#EDB120" stroke-width="1.3" stroke-dasharray="2.4 2.1" stroke-dashoffset="1.35"/>
<line x1="76.73" y1="212.75" x2="88.07" y2="208.89" stroke="#EDB120" stroke-width="1.3" stroke-dasharray="2.4 2.1" stroke-dashoffset="0.41"/>
<line x1="88.07" y1="208.89" x2="99.4" y2="206.75" stroke="#EDB120" stroke-width="1.3" stroke-dasharray="2.4 2.1" stroke-dashoffset="3.39"/>
<line x1="99.4" y1="206.75" x2="110.73" y2="203.89" stroke="#EDB120" stroke-width="1.3" stroke-dasharray="2.4 2.1" stroke-dashoffset="1.42"/>
<line x1="110.73" y1="203.89" x2="122.07" y2="201.46" stroke="#EDB120" stroke-width="1.3" stroke-dasharray="2.4 2.1" stroke-dashoffset="4.11"/>
<line x1="122.07" y1="201.46" x2="133.4" y2="200.32" stroke="#EDB120" stroke-width="1.3" stroke-dasharray="2.4 2.1" stroke-dashoffset="2.2"/>
<circle cx="31.4" cy="242.48" r="1.5" fill="#EDB120"/>
<circle cx="42.73" cy="233.19" r="1.5" fill="#EDB120"/>
<circle cx="54.07" cy="225.33" r="1.5" fill="#EDB120"/>
<circle cx="65.4" cy="218.18" r="1.5" fill="#EDB120"/>
<circle cx="76.73" cy="212.75" r="1.5" fill="#EDB120"/>
<circle cx="88.07" cy="208.89" r="1.5" fill="#EDB120"/>
<circle cx="99.4" cy="206.75" r="1.5" fill="#EDB120"/>
<circle cx="110.73" cy="203.89" r="1.5" fill="#EDB120"/>
<circle cx="122.07" cy="201.46" r="1.5" fill="#EDB120"/>
<circle cx="133.4" cy="200.32" r="1.5" fill="#EDB120"/>
<line x1="31.4" y1="247.48" x2="42.73" y2="237.05" stroke="#7E2F8E" stroke-width="1.3" stroke-dasharray="2.4 2.1" stroke-dashoffset="0"/>
<line x1="42.73" y1="237.05" x2="54.07" y2="227.61" stroke="#7E2F8E" stroke-width="1.3" stroke-dasharray="2.4 2.1" stroke-dashoffset="1.9"/>
<line x1="54.07" y1="227.61" x2="65.4" y2="219.61" stroke="#7E2F8E" stroke-width="1.3" stroke-dasharray="2.4 2.1" stroke-dashoffset="3.15"/>
<line x1="65.4" y1="219.61" x2="76.73" y2="213.89" stroke="#7E2F8E" stroke-width="1.3" stroke-dasharray="2.4 2.1" stroke-dashoffset="3.52"/>
<line x1="76.73" y1="213.89" x2="88.07" y2="209.61" stroke="#7E2F8E" stroke-width="1.3" stroke-dasharray="2.4 2.1" stroke-dashoffset="2.72"/>
<line x1="88.07" y1="209.61" x2="99.4" y2="207.32" stroke="#7E2F8E" stroke-width="1.3" stroke-dasharray="2.4 2.1" stroke-dashoffset="1.34"/>
<line x1="99.4" y1="207.32" x2="110.73" y2="204.32" stroke="#7E2F8E" stroke-width="1.3" stroke-dasharray="2.4 2.1" stroke-dashoffset="3.9"/>
<line x1="110.73" y1="204.32" x2="122.07" y2="201.6" stroke="#7E2F8E" stroke-width="1.3" stroke-dasharray="2.4 2.1" stroke-dashoffset="2.12"/>
<line x1="122.07" y1="201.6" x2="133.4" y2="200.46" stroke="#7E2F8E" stroke-width="1.3" stroke-dasharray="2.4 2.1" stroke-dashoffset="0.28"/>
<circle cx="31.4" cy="247.48" r="1.5" fill="#7E2F8E"/>
<circle cx="42.73" cy="237.05" r="1.5" fill="#7E2F8E"/>
<circle cx="54.07" cy="227.61" r="1.5" fill="#7E2F8E"/>
<circle cx="65.4" cy="219.61" r="1.5" fill="#7E2F8E"/>
<circle cx="76.73" cy="213.89" r="1.5" fill="#7E2F8E"/>
<circle cx="88.07" cy="209.61" r="1.5" fill="#7E2F8E"/>
<circle cx="99.4" cy="207.32" r="1.5" fill="#7E2F8E"/>
<circle cx="110.73" cy="204.32" r="1.5" fill="#7E2F8E"/>
<circle cx="133.4" cy="200.46" r="1.5" fill="#7E2F8E"/>
<line x1="31.4" y1="251.34" x2="42.73" y2="239.33" stroke="#77AC30" stroke-width="1.3" stroke-dasharray="2.4 2.1" stroke-dashoffset="0"/>
<line x1="42.73" y1="239.33" x2="54.07" y2="229.47" stroke="#77AC30" stroke-width="1.3" stroke-dasharray="2.4 2.1" stroke-dashoffset="3.01"/>
<line x1="54.07" y1="229.47" x2="65.4" y2="220.47" stroke="#77AC30" stroke-width="1.3" stroke-dasharray="2.4 2.1" stroke-dashoffset="0.03"/>
<line x1="65.4" y1="220.47" x2="76.73" y2="214.47" stroke="#77AC30" stroke-width="1.3" stroke-dasharray="2.4 2.1" stroke-dashoffset="1.01"/>
<line x1="76.73" y1="214.47" x2="88.07" y2="209.89" stroke="#77AC30" stroke-width="1.3" stroke-dasharray="2.4 2.1" stroke-dashoffset="0.33"/>
<line x1="88.07" y1="209.89" x2="99.4" y2="207.46" stroke="#77AC30" stroke-width="1.3" stroke-dasharray="2.4 2.1" stroke-dashoffset="3.55"/>
<line x1="99.4" y1="207.46" x2="110.73" y2="204.46" stroke="#77AC30" stroke-width="1.3" stroke-dasharray="2.4 2.1" stroke-dashoffset="1.65"/>
<line x1="110.73" y1="204.46" x2="122.07" y2="201.6" stroke="#77AC30" stroke-width="1.3" stroke-dasharray="2.4 2.1" stroke-dashoffset="4.37"/>
<line x1="122.07" y1="201.6" x2="133.4" y2="200.6" stroke="#77AC30" stroke-width="1.3" stroke-dasharray="2.4 2.1" stroke-dashoffset="2.56"/>
<circle cx="31.4" cy="251.34" r="1.5" fill="#77AC30"/>
<circle cx="42.73" cy="239.33" r="1.5" fill="#77AC30"/>
<circle cx="54.07" cy="229.47" r="1.5" fill="#77AC30"/>
<circle cx="65.4" cy="220.47" r="1.5" fill="#77AC30"/>
<circle cx="76.73" cy="214.47" r="1.5" fill="#77AC30"/>
<circle cx="88.07" cy="209.89" r="1.5" fill="#77AC30"/>
<circle cx="99.4" cy="207.46" r="1.5" fill="#77AC30"/>
<circle cx="110.73" cy="204.46" r="1.5" fill="#77AC30"/>
<circle cx="133.4" cy="200.6" r="1.5" fill="#77AC30"/>
<line x1="31.4" y1="254.34" x2="42.73" y2="241.19" stroke="#4DBEEE" stroke-width="1.3" stroke-dasharray="2.4 2.1" stroke-dashoffset="0"/>
<line x1="42.73" y1="241.19" x2="54.07" y2="230.33" stroke="#4DBEEE" stroke-width="1.3" stroke-dasharray="2.4 2.1" stroke-dashoffset="3.86"/>
<line x1="54.07" y1="230.33" x2="65.4" y2="221.18" stroke="#4DBEEE" stroke-width="1.3" stroke-dasharray="2.4 2.1" stroke-dashoffset="1.56"/>
<line x1="65.4" y1="221.18" x2="76.73" y2="214.89" stroke="#4DBEEE" stroke-width="1.3" stroke-dasharray="2.4 2.1" stroke-dashoffset="2.62"/>
<line x1="76.73" y1="214.89" x2="88.07" y2="210.03" stroke="#4DBEEE" stroke-width="1.3" stroke-dasharray="2.4 2.1" stroke-dashoffset="2.08"/>
<line x1="88.07" y1="210.03" x2="99.4" y2="207.6" stroke="#4DBEEE" stroke-width="1.3" stroke-dasharray="2.4 2.1" stroke-dashoffset="0.91"/>
<line x1="99.4" y1="207.6" x2="110.73" y2="204.6" stroke="#4DBEEE" stroke-width="1.3" stroke-dasharray="2.4 2.1" stroke-dashoffset="3.51"/>
<line x1="110.73" y1="204.6" x2="122.07" y2="201.6" stroke="#4DBEEE" stroke-width="1.3" stroke-dasharray="2.4 2.1" stroke-dashoffset="1.73"/>
<line x1="122.07" y1="201.6" x2="133.4" y2="200.74" stroke="#4DBEEE" stroke-width="1.3" stroke-dasharray="2.4 2.1" stroke-dashoffset="4.45"/>
<circle cx="31.4" cy="254.34" r="1.5" fill="#4DBEEE"/>
<circle cx="42.73" cy="241.19" r="1.5" fill="#4DBEEE"/>
<circle cx="54.07" cy="230.33" r="1.5" fill="#4DBEEE"/>
<circle cx="65.4" cy="221.18" r="1.5" fill="#4DBEEE"/>
<circle cx="76.73" cy="214.89" r="1.5" fill="#4DBEEE"/>
<circle cx="88.07" cy="210.03" r="1.5" fill="#4DBEEE"/>
<circle cx="99.4" cy="207.6" r="1.5" fill="#4DBEEE"/>
<circle cx="110.73" cy="204.6" r="1.5" fill="#4DBEEE"/>
<line x1="31.4" y1="256.2" x2="42.73" y2="242.76" stroke="#A2142F" stroke-width="1.3" stroke-dasharray="2.4 2.1" stroke-dashoffset="0"/>
<line x1="42.73" y1="242.76" x2="54.07" y2="231.19" stroke="#A2142F" stroke-width="1.3" stroke-dasharray="2.4 2.1" stroke-dashoffset="4.08"/>
<line x1="54.07" y1="231.19" x2="65.4" y2="222.04" stroke="#A2142F" stroke-width="1.3" stroke-dasharray="2.4 2.1" stroke-dashoffset="2.28"/>
<line x1="65.4" y1="222.04" x2="76.73" y2="215.32" stroke="#A2142F" stroke-width="1.3" stroke-dasharray="2.4 2.1" stroke-dashoffset="3.34"/>
<line x1="76.73" y1="215.32" x2="88.07" y2="210.18" stroke="#A2142F" stroke-width="1.3" stroke-dasharray="2.4 2.1" stroke-dashoffset="3.02"/>
<line x1="88.07" y1="210.18" x2="99.4" y2="207.75" stroke="#A2142F" stroke-width="1.3" stroke-dasharray="2.4 2.1" stroke-dashoffset="1.96"/>
<line x1="99.4" y1="207.75" x2="110.73" y2="204.75" stroke="#A2142F" stroke-width="1.3" stroke-dasharray="2.4 2.1" stroke-dashoffset="0.05"/>
<line x1="110.73" y1="204.75" x2="122.07" y2="201.6" stroke="#A2142F" stroke-width="1.3" stroke-dasharray="2.4 2.1" stroke-dashoffset="2.78"/>
<line x1="122.07" y1="201.6" x2="133.4" y2="200.74" stroke="#A2142F" stroke-width="1.3" stroke-dasharray="2.4 2.1" stroke-dashoffset="1.04"/>
<circle cx="31.4" cy="256.2" r="1.5" fill="#A2142F"/>
<circle cx="42.73" cy="242.76" r="1.5" fill="#A2142F"/>
<circle cx="54.07" cy="231.19" r="1.5" fill="#A2142F"/>
<circle cx="65.4" cy="222.04" r="1.5" fill="#A2142F"/>
<circle cx="76.73" cy="215.32" r="1.5" fill="#A2142F"/>
<circle cx="88.07" cy="210.18" r="1.5" fill="#A2142F"/>
<circle cx="99.4" cy="207.75" r="1.5" fill="#A2142F"/>
<circle cx="110.73" cy="204.75" r="1.5" fill="#A2142F"/>
<circle cx="122.07" cy="201.6" r="1.5" fill="#A2142F"/>
<circle cx="133.4" cy="200.74" r="1.5" fill="#A2142F"/>
<line x1="31.4" y1="197.6" x2="31.4" y2="256.6" stroke="#707070" stroke-width="0.9"/>
<line x1="31" y1="256.2" x2="133.4" y2="256.2" stroke="#707070" stroke-width="0.9"/>
<text x="29.2" y="255.08" font-size="7.5" text-anchor="end" fill="#404040" stroke="#404040" stroke-width="0.1">0.5</text>
<text x="29.2" y="240.79" font-size="7.5" text-anchor="end" fill="#404040" stroke="#404040" stroke-width="0.1">0.6</text>
<text x="29.2" y="226.5" font-size="7.5" text-anchor="end" fill="#404040" stroke="#404040" stroke-width="0.1">0.7</text>
<text x="29.2" y="212.21" font-size="7.5" text-anchor="end" fill="#404040" stroke="#404040" stroke-width="0.1">0.8</text>
<text x="31.4" y="264.2" font-size="7.5" text-anchor="middle" fill="#404040" stroke="#404040" stroke-width="0.1">2</text>
<text x="54.07" y="264.2" font-size="7.5" text-anchor="middle" fill="#404040" stroke="#404040" stroke-width="0.1">4</text>
<text x="76.73" y="264.2" font-size="7.5" text-anchor="middle" fill="#404040" stroke="#404040" stroke-width="0.1">6</text>
<text x="99.4" y="264.2" font-size="7.5" text-anchor="middle" fill="#404040" stroke="#404040" stroke-width="0.1">8</text>
<text x="122.07" y="264.2" font-size="7.5" text-anchor="middle" fill="#404040" stroke="#404040" stroke-width="0.1">10</text>
<text x="14.5" y="227.5" font-size="8.2" text-anchor="middle" fill="#5a5a5a" stroke="#5a5a5a" stroke-width="0.1" transform="rotate(-90 14.5 227.5)" textLength="36.5" lengthAdjust="spacingAndGlyphs">Power ratio</text>
<text x="82.4" y="274" font-size="8.6" text-anchor="middle" fill="#404040" stroke="#404040" stroke-width="0.1">W<tspan font-size="0.7em" dy="1.2">a</tspan></text>
<line x1="158.4" y1="197.6" x2="158.4" y2="256.2" stroke="#dcdcdc" stroke-width="0.7"/>
<line x1="181.07" y1="197.6" x2="181.07" y2="256.2" stroke="#dcdcdc" stroke-width="0.7"/>
<line x1="203.73" y1="197.6" x2="203.73" y2="256.2" stroke="#dcdcdc" stroke-width="0.7"/>
<line x1="226.4" y1="197.6" x2="226.4" y2="256.2" stroke="#dcdcdc" stroke-width="0.7"/>
<line x1="249.07" y1="197.6" x2="249.07" y2="256.2" stroke="#dcdcdc" stroke-width="0.7"/>
<line x1="158.4" y1="241.55" x2="260.4" y2="241.55" stroke="#dcdcdc" stroke-width="0.7"/>
<line x1="158.4" y1="226.6" x2="260.4" y2="226.6" stroke="#dcdcdc" stroke-width="0.7"/>
<line x1="158.4" y1="211.65" x2="260.4" y2="211.65" stroke="#dcdcdc" stroke-width="0.7"/>
<line x1="158.4" y1="215.24" x2="169.73" y2="212.1" stroke="#0072BD" stroke-width="1.3" stroke-dasharray="2.4 2.1" stroke-dashoffset="0"/>
<line x1="169.73" y1="212.1" x2="181.07" y2="209.56" stroke="#0072BD" stroke-width="1.3" stroke-dasharray="2.4 2.1" stroke-dashoffset="2.76"/>
<line x1="181.07" y1="209.56" x2="192.4" y2="206.87" stroke="#0072BD" stroke-width="1.3" stroke-dasharray="2.4 2.1" stroke-dashoffset="0.87"/>
<line x1="192.4" y1="206.87" x2="203.73" y2="204.78" stroke="#0072BD" stroke-width="1.3" stroke-dasharray="2.4 2.1" stroke-dashoffset="3.52"/>
<line x1="203.73" y1="204.78" x2="215.07" y2="203.13" stroke="#0072BD" stroke-width="1.3" stroke-dasharray="2.4 2.1" stroke-dashoffset="1.55"/>
<line x1="215.07" y1="203.13" x2="226.4" y2="201.64" stroke="#0072BD" stroke-width="1.3" stroke-dasharray="2.4 2.1" stroke-dashoffset="4"/>
<line x1="226.4" y1="201.64" x2="237.73" y2="200.29" stroke="#0072BD" stroke-width="1.3" stroke-dasharray="2.4 2.1" stroke-dashoffset="1.93"/>
<line x1="237.73" y1="200.29" x2="249.07" y2="199.09" stroke="#0072BD" stroke-width="1.3" stroke-dasharray="2.4 2.1" stroke-dashoffset="4.34"/>
<line x1="249.07" y1="199.09" x2="260.4" y2="197.6" stroke="#0072BD" stroke-width="1.3" stroke-dasharray="2.4 2.1" stroke-dashoffset="2.24"/>
<circle cx="158.4" cy="215.24" r="1.5" fill="#0072BD"/>
<circle cx="169.73" cy="212.1" r="1.5" fill="#0072BD"/>
<circle cx="181.07" cy="209.56" r="1.5" fill="#0072BD"/>
<circle cx="192.4" cy="206.87" r="1.5" fill="#0072BD"/>
<circle cx="203.73" cy="204.78" r="1.5" fill="#0072BD"/>
<circle cx="215.07" cy="203.13" r="1.5" fill="#0072BD"/>
<circle cx="226.4" cy="201.64" r="1.5" fill="#0072BD"/>
<circle cx="237.73" cy="200.29" r="1.5" fill="#0072BD"/>
<circle cx="249.07" cy="199.09" r="1.5" fill="#0072BD"/>
<circle cx="260.4" cy="197.6" r="1.5" fill="#0072BD"/>
<line x1="158.4" y1="231.98" x2="169.73" y2="226.6" stroke="#D95319" stroke-width="1.3" stroke-dasharray="2.4 2.1" stroke-dashoffset="0"/>
<line x1="169.73" y1="226.6" x2="181.07" y2="221.37" stroke="#D95319" stroke-width="1.3" stroke-dasharray="2.4 2.1" stroke-dashoffset="3.55"/>
<line x1="181.07" y1="221.37" x2="192.4" y2="215.39" stroke="#D95319" stroke-width="1.3" stroke-dasharray="2.4 2.1" stroke-dashoffset="2.53"/>
<line x1="192.4" y1="215.39" x2="203.73" y2="211.35" stroke="#D95319" stroke-width="1.3" stroke-dasharray="2.4 2.1" stroke-dashoffset="1.84"/>
<line x1="203.73" y1="211.35" x2="215.07" y2="207.47" stroke="#D95319" stroke-width="1.3" stroke-dasharray="2.4 2.1" stroke-dashoffset="0.37"/>
<line x1="215.07" y1="207.47" x2="226.4" y2="205.52" stroke="#D95319" stroke-width="1.3" stroke-dasharray="2.4 2.1" stroke-dashoffset="3.35"/>
<line x1="226.4" y1="205.52" x2="237.73" y2="203.43" stroke="#D95319" stroke-width="1.3" stroke-dasharray="2.4 2.1" stroke-dashoffset="1.35"/>
<line x1="237.73" y1="203.43" x2="249.07" y2="201.19" stroke="#D95319" stroke-width="1.3" stroke-dasharray="2.4 2.1" stroke-dashoffset="3.88"/>
<line x1="249.07" y1="201.19" x2="260.4" y2="199.84" stroke="#D95319" stroke-width="1.3" stroke-dasharray="2.4 2.1" stroke-dashoffset="1.93"/>
<circle cx="158.4" cy="231.98" r="1.5" fill="#D95319"/>
<circle cx="169.73" cy="226.6" r="1.5" fill="#D95319"/>
<circle cx="181.07" cy="221.37" r="1.5" fill="#D95319"/>
<circle cx="192.4" cy="215.39" r="1.5" fill="#D95319"/>
<circle cx="203.73" cy="211.35" r="1.5" fill="#D95319"/>
<circle cx="215.07" cy="207.47" r="1.5" fill="#D95319"/>
<circle cx="226.4" cy="205.52" r="1.5" fill="#D95319"/>
<circle cx="237.73" cy="203.43" r="1.5" fill="#D95319"/>
<circle cx="249.07" cy="201.19" r="1.5" fill="#D95319"/>
<circle cx="260.4" cy="199.84" r="1.5" fill="#D95319"/>
<line x1="158.4" y1="241.55" x2="169.73" y2="233.63" stroke="#EDB120" stroke-width="1.3" stroke-dasharray="2.4 2.1" stroke-dashoffset="0"/>
<line x1="169.73" y1="233.63" x2="181.07" y2="226.6" stroke="#EDB120" stroke-width="1.3" stroke-dasharray="2.4 2.1" stroke-dashoffset="0.33"/>
<line x1="181.07" y1="226.6" x2="192.4" y2="219.43" stroke="#EDB120" stroke-width="1.3" stroke-dasharray="2.4 2.1" stroke-dashoffset="0.16"/>
<line x1="192.4" y1="219.43" x2="203.73" y2="214.04" stroke="#EDB120" stroke-width="1.3" stroke-dasharray="2.4 2.1" stroke-dashoffset="0.08"/>
<line x1="203.73" y1="214.04" x2="215.07" y2="209.86" stroke="#EDB120" stroke-width="1.3" stroke-dasharray="2.4 2.1" stroke-dashoffset="3.62"/>
<line x1="215.07" y1="209.86" x2="226.4" y2="207.17" stroke="#EDB120" stroke-width="1.3" stroke-dasharray="2.4 2.1" stroke-dashoffset="2.2"/>
<line x1="226.4" y1="207.17" x2="237.73" y2="204.78" stroke="#EDB120" stroke-width="1.3" stroke-dasharray="2.4 2.1" stroke-dashoffset="0.35"/>
<line x1="237.73" y1="204.78" x2="249.07" y2="201.79" stroke="#EDB120" stroke-width="1.3" stroke-dasharray="2.4 2.1" stroke-dashoffset="2.94"/>
<line x1="249.07" y1="201.79" x2="260.4" y2="200.89" stroke="#EDB120" stroke-width="1.3" stroke-dasharray="2.4 2.1" stroke-dashoffset="1.16"/>
<circle cx="158.4" cy="241.55" r="1.5" fill="#EDB120"/>
<circle cx="169.73" cy="233.63" r="1.5" fill="#EDB120"/>
<circle cx="181.07" cy="226.6" r="1.5" fill="#EDB120"/>
<circle cx="192.4" cy="219.43" r="1.5" fill="#EDB120"/>
<circle cx="203.73" cy="214.04" r="1.5" fill="#EDB120"/>
<circle cx="215.07" cy="209.86" r="1.5" fill="#EDB120"/>
<circle cx="226.4" cy="207.17" r="1.5" fill="#EDB120"/>
<circle cx="237.73" cy="204.78" r="1.5" fill="#EDB120"/>
<circle cx="249.07" cy="201.79" r="1.5" fill="#EDB120"/>
<circle cx="260.4" cy="200.89" r="1.5" fill="#EDB120"/>
<line x1="158.4" y1="247.38" x2="169.73" y2="237.66" stroke="#7E2F8E" stroke-width="1.3" stroke-dasharray="2.4 2.1" stroke-dashoffset="0"/>
<line x1="169.73" y1="237.66" x2="181.07" y2="229.44" stroke="#7E2F8E" stroke-width="1.3" stroke-dasharray="2.4 2.1" stroke-dashoffset="1.43"/>
<line x1="181.07" y1="229.44" x2="192.4" y2="221.37" stroke="#7E2F8E" stroke-width="1.3" stroke-dasharray="2.4 2.1" stroke-dashoffset="1.93"/>
<line x1="192.4" y1="221.37" x2="203.73" y2="215.39" stroke="#7E2F8E" stroke-width="1.3" stroke-dasharray="2.4 2.1" stroke-dashoffset="2.34"/>
<line x1="203.73" y1="215.39" x2="215.07" y2="210.9" stroke="#7E2F8E" stroke-width="1.3" stroke-dasharray="2.4 2.1" stroke-dashoffset="1.66"/>
<line x1="215.07" y1="210.9" x2="226.4" y2="207.77" stroke="#7E2F8E" stroke-width="1.3" stroke-dasharray="2.4 2.1" stroke-dashoffset="0.35"/>
<line x1="226.4" y1="207.77" x2="237.73" y2="205.22" stroke="#7E2F8E" stroke-width="1.3" stroke-dasharray="2.4 2.1" stroke-dashoffset="3.11"/>
<line x1="237.73" y1="205.22" x2="249.07" y2="201.94" stroke="#7E2F8E" stroke-width="1.3" stroke-dasharray="2.4 2.1" stroke-dashoffset="1.22"/>
<line x1="249.07" y1="201.94" x2="260.4" y2="201.19" stroke="#7E2F8E" stroke-width="1.3" stroke-dasharray="2.4 2.1" stroke-dashoffset="4.02"/>
<circle cx="158.4" cy="247.38" r="1.5" fill="#7E2F8E"/>
<circle cx="169.73" cy="237.66" r="1.5" fill="#7E2F8E"/>
<circle cx="181.07" cy="229.44" r="1.5" fill="#7E2F8E"/>
<circle cx="192.4" cy="221.37" r="1.5" fill="#7E2F8E"/>
<circle cx="203.73" cy="215.39" r="1.5" fill="#7E2F8E"/>
<circle cx="215.07" cy="210.9" r="1.5" fill="#7E2F8E"/>
<circle cx="226.4" cy="207.77" r="1.5" fill="#7E2F8E"/>
<circle cx="237.73" cy="205.22" r="1.5" fill="#7E2F8E"/>
<line x1="158.4" y1="251.27" x2="169.73" y2="240.8" stroke="#77AC30" stroke-width="1.3" stroke-dasharray="2.4 2.1" stroke-dashoffset="0"/>
<line x1="169.73" y1="240.8" x2="181.07" y2="231.53" stroke="#77AC30" stroke-width="1.3" stroke-dasharray="2.4 2.1" stroke-dashoffset="1.93"/>
<line x1="181.07" y1="231.53" x2="192.4" y2="222.42" stroke="#77AC30" stroke-width="1.3" stroke-dasharray="2.4 2.1" stroke-dashoffset="3.07"/>
<line x1="192.4" y1="222.42" x2="203.73" y2="216.59" stroke="#77AC30" stroke-width="1.3" stroke-dasharray="2.4 2.1" stroke-dashoffset="4.11"/>
<line x1="203.73" y1="216.59" x2="215.07" y2="211.5" stroke="#77AC30" stroke-width="1.3" stroke-dasharray="2.4 2.1" stroke-dashoffset="3.36"/>
<line x1="215.07" y1="211.5" x2="226.4" y2="208.36" stroke="#77AC30" stroke-width="1.3" stroke-dasharray="2.4 2.1" stroke-dashoffset="2.28"/>
<line x1="226.4" y1="208.36" x2="237.73" y2="205.52" stroke="#77AC30" stroke-width="1.3" stroke-dasharray="2.4 2.1" stroke-dashoffset="0.54"/>
<line x1="237.73" y1="205.52" x2="249.07" y2="201.94" stroke="#77AC30" stroke-width="1.3" stroke-dasharray="2.4 2.1" stroke-dashoffset="3.22"/>
<line x1="249.07" y1="201.94" x2="260.4" y2="201.19" stroke="#77AC30" stroke-width="1.3" stroke-dasharray="2.4 2.1" stroke-dashoffset="1.61"/>
<circle cx="158.4" cy="251.27" r="1.5" fill="#77AC30"/>
<circle cx="169.73" cy="240.8" r="1.5" fill="#77AC30"/>
<circle cx="181.07" cy="231.53" r="1.5" fill="#77AC30"/>
<circle cx="192.4" cy="222.42" r="1.5" fill="#77AC30"/>
<circle cx="203.73" cy="216.59" r="1.5" fill="#77AC30"/>
<circle cx="215.07" cy="211.5" r="1.5" fill="#77AC30"/>
<circle cx="226.4" cy="208.36" r="1.5" fill="#77AC30"/>
<line x1="158.4" y1="254.11" x2="169.73" y2="242.6" stroke="#4DBEEE" stroke-width="1.3" stroke-dasharray="2.4 2.1" stroke-dashoffset="0"/>
<line x1="169.73" y1="242.6" x2="181.07" y2="232.73" stroke="#4DBEEE" stroke-width="1.3" stroke-dasharray="2.4 2.1" stroke-dashoffset="2.65"/>
<line x1="181.07" y1="232.73" x2="192.4" y2="223.61" stroke="#4DBEEE" stroke-width="1.3" stroke-dasharray="2.4 2.1" stroke-dashoffset="4.18"/>
<line x1="192.4" y1="223.61" x2="203.73" y2="216.88" stroke="#4DBEEE" stroke-width="1.3" stroke-dasharray="2.4 2.1" stroke-dashoffset="0.73"/>
<line x1="203.73" y1="216.88" x2="215.07" y2="211.95" stroke="#4DBEEE" stroke-width="1.3" stroke-dasharray="2.4 2.1" stroke-dashoffset="0.41"/>
<line x1="215.07" y1="211.95" x2="226.4" y2="208.66" stroke="#4DBEEE" stroke-width="1.3" stroke-dasharray="2.4 2.1" stroke-dashoffset="3.77"/>
<line x1="226.4" y1="208.66" x2="237.73" y2="205.52" stroke="#4DBEEE" stroke-width="1.3" stroke-dasharray="2.4 2.1" stroke-dashoffset="2.07"/>
<line x1="237.73" y1="205.52" x2="249.07" y2="201.94" stroke="#4DBEEE" stroke-width="1.3" stroke-dasharray="2.4 2.1" stroke-dashoffset="0.33"/>
<line x1="249.07" y1="201.94" x2="260.4" y2="201.19" stroke="#4DBEEE" stroke-width="1.3" stroke-dasharray="2.4 2.1" stroke-dashoffset="3.21"/>
<circle cx="158.4" cy="254.11" r="1.5" fill="#4DBEEE"/>
<circle cx="169.73" cy="242.6" r="1.5" fill="#4DBEEE"/>
<circle cx="181.07" cy="232.73" r="1.5" fill="#4DBEEE"/>
<circle cx="192.4" cy="223.61" r="1.5" fill="#4DBEEE"/>
<circle cx="203.73" cy="216.88" r="1.5" fill="#4DBEEE"/>
<circle cx="215.07" cy="211.95" r="1.5" fill="#4DBEEE"/>
<circle cx="226.4" cy="208.66" r="1.5" fill="#4DBEEE"/>
<circle cx="237.73" cy="205.52" r="1.5" fill="#4DBEEE"/>
<circle cx="249.07" cy="201.94" r="1.5" fill="#4DBEEE"/>
<line x1="158.4" y1="256.2" x2="169.73" y2="244.69" stroke="#A2142F" stroke-width="1.3" stroke-dasharray="2.4 2.1" stroke-dashoffset="0"/>
<line x1="169.73" y1="244.69" x2="181.07" y2="233.78" stroke="#A2142F" stroke-width="1.3" stroke-dasharray="2.4 2.1" stroke-dashoffset="2.65"/>
<line x1="181.07" y1="233.78" x2="192.4" y2="224.21" stroke="#A2142F" stroke-width="1.3" stroke-dasharray="2.4 2.1" stroke-dashoffset="0.39"/>
<line x1="192.4" y1="224.21" x2="203.73" y2="217.48" stroke="#A2142F" stroke-width="1.3" stroke-dasharray="2.4 2.1" stroke-dashoffset="1.72"/>
<line x1="203.73" y1="217.48" x2="215.07" y2="212.1" stroke="#A2142F" stroke-width="1.3" stroke-dasharray="2.4 2.1" stroke-dashoffset="1.4"/>
<line x1="215.07" y1="212.1" x2="226.4" y2="209.26" stroke="#A2142F" stroke-width="1.3" stroke-dasharray="2.4 2.1" stroke-dashoffset="0.44"/>
<line x1="226.4" y1="209.26" x2="237.73" y2="205.97" stroke="#A2142F" stroke-width="1.3" stroke-dasharray="2.4 2.1" stroke-dashoffset="3.13"/>
<line x1="237.73" y1="205.97" x2="249.07" y2="203.13" stroke="#A2142F" stroke-width="1.3" stroke-dasharray="2.4 2.1" stroke-dashoffset="1.43"/>
<line x1="249.07" y1="203.13" x2="260.4" y2="201.19" stroke="#A2142F" stroke-width="1.3" stroke-dasharray="2.4 2.1" stroke-dashoffset="4.11"/>
<circle cx="158.4" cy="256.2" r="1.5" fill="#A2142F"/>
<circle cx="169.73" cy="244.69" r="1.5" fill="#A2142F"/>
<circle cx="181.07" cy="233.78" r="1.5" fill="#A2142F"/>
<circle cx="192.4" cy="224.21" r="1.5" fill="#A2142F"/>
<circle cx="203.73" cy="217.48" r="1.5" fill="#A2142F"/>
<circle cx="215.07" cy="212.1" r="1.5" fill="#A2142F"/>
<circle cx="226.4" cy="209.26" r="1.5" fill="#A2142F"/>
<circle cx="237.73" cy="205.97" r="1.5" fill="#A2142F"/>
<circle cx="249.07" cy="203.13" r="1.5" fill="#A2142F"/>
<circle cx="260.4" cy="201.19" r="1.5" fill="#A2142F"/>
<line x1="158.4" y1="197.6" x2="158.4" y2="256.6" stroke="#707070" stroke-width="0.9"/>
<line x1="158" y1="256.2" x2="260.4" y2="256.2" stroke="#707070" stroke-width="0.9"/>
<text x="156.2" y="244.15" font-size="7.5" text-anchor="end" fill="#404040" stroke="#404040" stroke-width="0.1">0.5</text>
<text x="156.2" y="229.2" font-size="7.5" text-anchor="end" fill="#404040" stroke="#404040" stroke-width="0.1">0.6</text>
<text x="156.2" y="214.25" font-size="7.5" text-anchor="end" fill="#404040" stroke="#404040" stroke-width="0.1">0.7</text>
<text x="158.4" y="264.2" font-size="7.5" text-anchor="middle" fill="#404040" stroke="#404040" stroke-width="0.1">2</text>
<text x="181.07" y="264.2" font-size="7.5" text-anchor="middle" fill="#404040" stroke="#404040" stroke-width="0.1">4</text>
<text x="203.73" y="264.2" font-size="7.5" text-anchor="middle" fill="#404040" stroke="#404040" stroke-width="0.1">6</text>
<text x="226.4" y="264.2" font-size="7.5" text-anchor="middle" fill="#404040" stroke="#404040" stroke-width="0.1">8</text>
<text x="249.07" y="264.2" font-size="7.5" text-anchor="middle" fill="#404040" stroke="#404040" stroke-width="0.1">10</text>
<text x="142.2" y="225.4" font-size="8.2" text-anchor="middle" fill="#5a5a5a" stroke="#5a5a5a" stroke-width="0.1" transform="rotate(-90 142.2 225.4)" textLength="32.5" lengthAdjust="spacingAndGlyphs">Area ratio</text>
<text x="209.4" y="274" font-size="8.6" text-anchor="middle" fill="#404040" stroke="#404040" stroke-width="0.1">W<tspan font-size="0.7em" dy="1.2">a</tspan></text>
<line x1="290.4" y1="197.6" x2="290.4" y2="256.2" stroke="#dcdcdc" stroke-width="0.7"/>
<line x1="313.07" y1="197.6" x2="313.07" y2="256.2" stroke="#dcdcdc" stroke-width="0.7"/>
<line x1="335.73" y1="197.6" x2="335.73" y2="256.2" stroke="#dcdcdc" stroke-width="0.7"/>
<line x1="358.4" y1="197.6" x2="358.4" y2="256.2" stroke="#dcdcdc" stroke-width="0.7"/>
<line x1="381.07" y1="197.6" x2="381.07" y2="256.2" stroke="#dcdcdc" stroke-width="0.7"/>
<line x1="290.4" y1="241.51" x2="392.4" y2="241.51" stroke="#dcdcdc" stroke-width="0.7"/>
<line x1="290.4" y1="226.53" x2="392.4" y2="226.53" stroke="#dcdcdc" stroke-width="0.7"/>
<line x1="290.4" y1="211.54" x2="392.4" y2="211.54" stroke="#dcdcdc" stroke-width="0.7"/>
<line x1="301.73" y1="234.32" x2="313.07" y2="234.32" stroke="#D95319" stroke-width="1.3" stroke-dasharray="2.4 2.1" stroke-dashoffset="2.33"/>
<line x1="313.07" y1="234.32" x2="324.4" y2="197.6" stroke="#D95319" stroke-width="1.3" stroke-dasharray="2.4 2.1" stroke-dashoffset="0.17"/>
<circle cx="313.07" cy="234.32" r="1.5" fill="#D95319"/>
<line x1="301.73" y1="234.32" x2="313.07" y2="230.57" stroke="#7E2F8E" stroke-width="1.3" stroke-dasharray="2.4 2.1" stroke-dashoffset="2.33"/>
<line x1="313.07" y1="230.57" x2="324.4" y2="197.6" stroke="#7E2F8E" stroke-width="1.3" stroke-dasharray="2.4 2.1" stroke-dashoffset="0.77"/>
<line x1="324.4" y1="197.6" x2="335.73" y2="234.32" stroke="#7E2F8E" stroke-width="1.3" stroke-dasharray="2.4 2.1" stroke-dashoffset="4.14"/>
<line x1="335.73" y1="234.32" x2="347.07" y2="234.32" stroke="#7E2F8E" stroke-width="1.3" stroke-dasharray="2.4 2.1" stroke-dashoffset="2.06"/>
<line x1="347.07" y1="234.32" x2="358.4" y2="234.32" stroke="#7E2F8E" stroke-width="1.3" stroke-dasharray="2.4 2.1" stroke-dashoffset="4.4"/>
<line x1="358.4" y1="234.32" x2="369.73" y2="234.32" stroke="#7E2F8E" stroke-width="1.3" stroke-dasharray="2.4 2.1" stroke-dashoffset="2.23"/>
<line x1="369.73" y1="234.32" x2="381.07" y2="234.32" stroke="#7E2F8E" stroke-width="1.3" stroke-dasharray="2.4 2.1" stroke-dashoffset="0.06"/>
<line x1="381.07" y1="234.32" x2="392.4" y2="256.2" stroke="#7E2F8E" stroke-width="1.3" stroke-dasharray="2.4 2.1" stroke-dashoffset="2.4"/>
<circle cx="313.07" cy="230.57" r="1.5" fill="#7E2F8E"/>
<line x1="290.4" y1="234.32" x2="301.73" y2="234.32" stroke="#A2142F" stroke-width="1.3" stroke-dasharray="2.4 2.1" stroke-dashoffset="0"/>
<line x1="301.73" y1="234.32" x2="313.07" y2="197.6" stroke="#A2142F" stroke-width="1.3" stroke-dasharray="2.4 2.1" stroke-dashoffset="2.33"/>
<line x1="313.07" y1="197.6" x2="324.4" y2="197.6" stroke="#A2142F" stroke-width="1.3" stroke-dasharray="2.4 2.1" stroke-dashoffset="0.26"/>
<line x1="324.4" y1="197.6" x2="335.73" y2="234.32" stroke="#A2142F" stroke-width="1.3" stroke-dasharray="2.4 2.1" stroke-dashoffset="2.59"/>
<line x1="335.73" y1="234.32" x2="347.07" y2="234.32" stroke="#A2142F" stroke-width="1.3" stroke-dasharray="2.4 2.1" stroke-dashoffset="0.52"/>
<line x1="347.07" y1="234.32" x2="358.4" y2="234.32" stroke="#A2142F" stroke-width="1.3" stroke-dasharray="2.4 2.1" stroke-dashoffset="2.86"/>
<line x1="358.4" y1="234.32" x2="369.73" y2="234.32" stroke="#A2142F" stroke-width="1.3" stroke-dasharray="2.4 2.1" stroke-dashoffset="0.69"/>
<line x1="369.73" y1="234.32" x2="381.07" y2="234.32" stroke="#A2142F" stroke-width="1.3" stroke-dasharray="2.4 2.1" stroke-dashoffset="3.02"/>
<line x1="381.07" y1="234.32" x2="392.4" y2="256.2" stroke="#A2142F" stroke-width="1.3" stroke-dasharray="2.4 2.1" stroke-dashoffset="0.86"/>
<circle cx="290.4" cy="234.32" r="1.5" fill="#A2142F"/>
<circle cx="301.73" cy="234.32" r="1.5" fill="#A2142F"/>
<circle cx="313.07" cy="197.6" r="1.5" fill="#A2142F"/>
<circle cx="324.4" cy="197.6" r="1.5" fill="#A2142F"/>
<circle cx="335.73" cy="234.32" r="1.5" fill="#A2142F"/>
<circle cx="347.07" cy="234.32" r="1.5" fill="#A2142F"/>
<circle cx="358.4" cy="234.32" r="1.5" fill="#A2142F"/>
<circle cx="369.73" cy="234.32" r="1.5" fill="#A2142F"/>
<circle cx="381.07" cy="234.32" r="1.5" fill="#A2142F"/>
<circle cx="392.4" cy="256.2" r="1.5" fill="#A2142F"/>
<line x1="290.4" y1="197.6" x2="290.4" y2="256.6" stroke="#707070" stroke-width="0.9"/>
<line x1="290" y1="256.2" x2="392.4" y2="256.2" stroke="#707070" stroke-width="0.9"/>
<text x="288.2" y="244.11" font-size="7.5" text-anchor="end" fill="#404040" stroke="#404040" stroke-width="0.1">1</text>
<text x="288.2" y="229.13" font-size="7.5" text-anchor="end" fill="#404040" stroke="#404040" stroke-width="0.1">1.01</text>
<text x="288.2" y="214.14" font-size="7.5" text-anchor="end" fill="#404040" stroke="#404040" stroke-width="0.1">1.02</text>
<text x="290.4" y="264.2" font-size="7.5" text-anchor="middle" fill="#404040" stroke="#404040" stroke-width="0.1">2</text>
<text x="313.07" y="264.2" font-size="7.5" text-anchor="middle" fill="#404040" stroke="#404040" stroke-width="0.1">4</text>
<text x="335.73" y="264.2" font-size="7.5" text-anchor="middle" fill="#404040" stroke="#404040" stroke-width="0.1">6</text>
<text x="358.4" y="264.2" font-size="7.5" text-anchor="middle" fill="#404040" stroke="#404040" stroke-width="0.1">8</text>
<text x="381.07" y="264.2" font-size="7.5" text-anchor="middle" fill="#404040" stroke="#404040" stroke-width="0.1">10</text>
<text x="268.7" y="226.8" font-size="8.2" text-anchor="middle" fill="#5a5a5a" stroke="#5a5a5a" stroke-width="0.1" transform="rotate(-90 268.7 226.8)" textLength="48.5" lengthAdjust="spacingAndGlyphs">CP Delay ratio</text>
<text x="341.4" y="274" font-size="8.6" text-anchor="middle" fill="#404040" stroke="#404040" stroke-width="0.1">W<tspan font-size="0.7em" dy="1.2">a</tspan></text>
<text x="204.8" y="287.4" font-size="7.4" text-anchor="middle" fill="#1e1e1e" stroke="#1e1e1e" stroke-width="0.25" font-weight="bold" textLength="161" lengthAdjust="spacingAndGlyphs">Power, Area, CPD ratios vs <tspan fill="#999" stroke="#999" stroke-width="0.12" font-weight="normal" font-style="italic">#C</tspan><tspan fill="#999" stroke="#999" stroke-width="0.12" font-weight="normal" font-style="italic" font-size="0.7em" dy="1">in</tspan><tspan dy="-1"> &amp; &#8730;</tspan><tspan fill="#333" stroke="#333" stroke-width="0.12" font-weight="normal" font-style="italic" text-decoration="overline">H</tspan> size</text>
<line x1="60.36" y1="347.63" x2="116.76" y2="336.63" stroke="#dcdcdc" stroke-width="0.6"/>
<line x1="116.76" y1="336.63" x2="116.76" y2="305.44" stroke="#dcdcdc" stroke-width="0.6"/>
<line x1="43.94" y1="342.17" x2="100.34" y2="331.17" stroke="#dcdcdc" stroke-width="0.6"/>
<line x1="100.34" y1="331.17" x2="100.34" y2="299.98" stroke="#dcdcdc" stroke-width="0.6"/>
<line x1="59" y1="332.3" x2="101.7" y2="346.5" stroke="#dcdcdc" stroke-width="0.6"/>
<line x1="59" y1="332.3" x2="59" y2="301.11" stroke="#dcdcdc" stroke-width="0.6"/>
<polyline points="30.8,333.32 87.2,322.32 129.9,336.52" fill="none" stroke="#dcdcdc" stroke-width="0.6"/>
<polyline points="30.8,323.37 87.2,312.37 129.9,326.57" fill="none" stroke="#dcdcdc" stroke-width="0.6"/>
<polyline points="30.8,313.42 87.2,302.42 129.9,316.62" fill="none" stroke="#dcdcdc" stroke-width="0.6"/>
<line x1="87.2" y1="326.8" x2="87.2" y2="295.61" stroke="#dcdcdc" stroke-width="0.6"/>
<polygon points="59,328.57 60.64,329.07 88.84,326.05 87.2,325.51" fill="#fff" stroke="#4440d5" stroke-width="0.6" stroke-opacity="0.8" stroke-linejoin="round"/>
<polygon points="60.64,329.07 62.28,329.56 90.48,326.6 88.84,326.05" fill="#fff" stroke="#4440d5" stroke-width="0.6" stroke-opacity="0.8" stroke-linejoin="round"/>
<polygon points="62.28,329.56 63.93,330.06 92.13,327.14 90.48,326.6" fill="#fff" stroke="#4441d6" stroke-width="0.6" stroke-opacity="0.8" stroke-linejoin="round"/>
<polygon points="63.93,330.06 65.57,330.55 93.77,327.69 92.13,327.14" fill="#fff" stroke="#4441d7" stroke-width="0.6" stroke-opacity="0.8" stroke-linejoin="round"/>
<polygon points="65.57,330.55 67.21,331.05 95.41,328.24 93.77,327.69" fill="#fff" stroke="#4442d8" stroke-width="0.6" stroke-opacity="0.8" stroke-linejoin="round"/>
<polygon points="67.21,331.05 68.85,331.55 97.05,328.73 95.41,328.24" fill="#fff" stroke="#4443d9" stroke-width="0.6" stroke-opacity="0.8" stroke-linejoin="round"/>
<polygon points="68.85,331.55 70.5,331.99 98.7,329.28 97.05,328.73" fill="#fff" stroke="#4444db" stroke-width="0.6" stroke-opacity="0.8" stroke-linejoin="round"/>
<polygon points="70.5,331.99 72.14,332.44 100.34,329.78 98.7,329.28" fill="#fff" stroke="#4545dd" stroke-width="0.6" stroke-opacity="0.8" stroke-linejoin="round"/>
<polygon points="72.14,332.44 73.78,332.89 101.98,330.22 100.34,329.78" fill="#fff" stroke="#4546de" stroke-width="0.6" stroke-opacity="0.8" stroke-linejoin="round"/>
<polygon points="73.78,332.89 75.42,333.28 103.62,330.67 101.98,330.22" fill="#fff" stroke="#4547e1" stroke-width="0.6" stroke-opacity="0.8" stroke-linejoin="round"/>
<polygon points="75.42,333.28 77.07,333.63 105.27,331.07 103.62,330.67" fill="#fff" stroke="#4649e4" stroke-width="0.6" stroke-opacity="0.8" stroke-linejoin="round"/>
<polygon points="30.8,328.2 32.44,328.69 60.64,329.07 59,328.57" fill="#fff" stroke="#2f85f7" stroke-width="0.6" stroke-opacity="0.8" stroke-linejoin="round"/>
<polygon points="77.07,333.63 78.71,333.98 106.91,331.41 105.27,331.07" fill="#fff" stroke="#464be8" stroke-width="0.6" stroke-opacity="0.8" stroke-linejoin="round"/>
<polygon points="32.44,328.69 34.08,329.19 62.28,329.56 60.64,329.07" fill="#fff" stroke="#2e85f7" stroke-width="0.6" stroke-opacity="0.8" stroke-linejoin="round"/>
<polygon points="78.71,333.98 80.35,334.28 108.55,331.76 106.91,331.41" fill="#fff" stroke="#474eec" stroke-width="0.6" stroke-opacity="0.8" stroke-linejoin="round"/>
<polygon points="34.08,329.19 35.73,329.69 63.93,330.06 62.28,329.56" fill="#fff" stroke="#2e86f7" stroke-width="0.6" stroke-opacity="0.8" stroke-linejoin="round"/>
<polygon points="80.35,334.28 81.99,334.47 110.19,331.96 108.55,331.76" fill="#fff" stroke="#4751f3" stroke-width="0.6" stroke-opacity="0.8" stroke-linejoin="round"/>
<polygon points="35.73,329.69 37.37,330.18 65.57,330.55 63.93,330.06" fill="#fff" stroke="#2e86f7" stroke-width="0.6" stroke-opacity="0.8" stroke-linejoin="round"/>
<polygon points="81.99,334.47 83.63,334.62 111.83,332.11 110.19,331.96" fill="#fff" stroke="#4656f4" stroke-width="0.6" stroke-opacity="0.8" stroke-linejoin="round"/>
<polygon points="37.37,330.18 39.01,330.68 67.21,331.05 65.57,330.55" fill="#fff" stroke="#2d87f7" stroke-width="0.6" stroke-opacity="0.8" stroke-linejoin="round"/>
<polygon points="83.63,334.62 85.28,334.77 113.48,332.21 111.83,332.11" fill="#fff" stroke="#435bf5" stroke-width="0.6" stroke-opacity="0.8" stroke-linejoin="round"/>
<polygon points="39.01,330.68 40.65,331.18 68.85,331.55 67.21,331.05" fill="#fff" stroke="#2d88f6" stroke-width="0.6" stroke-opacity="0.8" stroke-linejoin="round"/>
<polygon points="85.28,334.77 86.92,334.67 115.12,332.15 113.48,332.21" fill="#fff" stroke="#3f63f5" stroke-width="0.6" stroke-opacity="0.8" stroke-linejoin="round"/>
<polygon points="40.65,331.18 42.3,331.62 70.5,331.99 68.85,331.55" fill="#fff" stroke="#2c88f6" stroke-width="0.6" stroke-opacity="0.8" stroke-linejoin="round"/>
<polygon points="86.92,334.67 88.56,334.47 116.76,332.05 115.12,332.15" fill="#fff" stroke="#3b6cf6" stroke-width="0.6" stroke-opacity="0.8" stroke-linejoin="round"/>
<polygon points="42.3,331.62 43.94,332.07 72.14,332.44 70.5,331.99" fill="#fff" stroke="#2c89f5" stroke-width="0.6" stroke-opacity="0.8" stroke-linejoin="round"/>
<polygon points="88.56,334.47 90.2,333.87 118.4,331.6 116.76,332.05" fill="#fff" stroke="#347af6" stroke-width="0.6" stroke-opacity="0.8" stroke-linejoin="round"/>
<polygon points="43.94,332.07 45.58,332.52 73.78,332.89 72.14,332.44" fill="#fff" stroke="#2b8af4" stroke-width="0.6" stroke-opacity="0.8" stroke-linejoin="round"/>
<polygon points="90.2,333.87 91.85,333.07 120.05,330.76 118.4,331.6" fill="#fff" stroke="#2b8af4" stroke-width="0.6" stroke-opacity="0.8" stroke-linejoin="round"/>
<polygon points="45.58,332.52 47.22,332.91 75.42,333.28 73.78,332.89" fill="#fff" stroke="#2a8cf3" stroke-width="0.6" stroke-opacity="0.8" stroke-linejoin="round"/>
<polygon points="91.85,333.07 93.49,332.18 121.69,329.86 120.05,330.76" fill="#fff" stroke="#2298e9" stroke-width="0.6" stroke-opacity="0.8" stroke-linejoin="round"/>
<polygon points="47.22,332.91 48.87,333.31 77.07,333.63 75.42,333.28" fill="#fff" stroke="#298df2" stroke-width="0.6" stroke-opacity="0.8" stroke-linejoin="round"/>
<polygon points="93.49,332.18 95.13,330.63 123.33,328.27 121.69,329.86" fill="#fff" stroke="#14add9" stroke-width="0.6" stroke-opacity="0.8" stroke-linejoin="round"/>
<polygon points="48.87,333.31 50.51,333.66 78.71,333.98 77.07,333.63" fill="#fff" stroke="#288ff0" stroke-width="0.6" stroke-opacity="0.8" stroke-linejoin="round"/>
<polygon points="95.13,330.63 96.77,328.64 124.97,326.13 123.33,328.27" fill="#fff" stroke="#24bcb7" stroke-width="0.6" stroke-opacity="0.8" stroke-linejoin="round"/>
<polygon points="50.51,333.66 52.15,333.95 80.35,334.28 78.71,333.98" fill="#fff" stroke="#2692ee" stroke-width="0.6" stroke-opacity="0.8" stroke-linejoin="round"/>
<polygon points="96.77,328.64 98.42,325.76 126.62,322.99 124.97,326.13" fill="#fff" stroke="#5ac87b" stroke-width="0.6" stroke-opacity="0.8" stroke-linejoin="round"/>
<polygon points="52.15,333.95 53.79,334.15 81.99,334.47 80.35,334.28" fill="#fff" stroke="#2495ec" stroke-width="0.6" stroke-opacity="0.8" stroke-linejoin="round"/>
<polygon points="98.42,325.76 100.06,322.17 128.26,319.21 126.62,322.99" fill="#fff" stroke="#c1c639" stroke-width="0.6" stroke-opacity="0.8" stroke-linejoin="round"/>
<polygon points="53.79,334.15 55.43,334.3 83.63,334.62 81.99,334.47" fill="#fff" stroke="#2199e9" stroke-width="0.6" stroke-opacity="0.8" stroke-linejoin="round"/>
<polygon points="100.06,322.17 101.7,318.44 129.9,314.73 128.26,319.21" fill="#fff" stroke="#fdd22f" stroke-width="0.6" stroke-opacity="0.8" stroke-linejoin="round"/>
<polygon points="55.43,334.3 57.08,334.35 85.28,334.77 83.63,334.62" fill="#fff" stroke="#1e9ee5" stroke-width="0.6" stroke-opacity="0.8" stroke-linejoin="round"/>
<polygon points="57.08,334.35 58.72,334.35 86.92,334.67 85.28,334.77" fill="#fff" stroke="#1ba4e1" stroke-width="0.6" stroke-opacity="0.8" stroke-linejoin="round"/>
<polygon points="58.72,334.35 60.36,334.15 88.56,334.47 86.92,334.67" fill="#fff" stroke="#16abdb" stroke-width="0.6" stroke-opacity="0.8" stroke-linejoin="round"/>
<polygon points="60.36,334.15 62,333.7 90.2,333.87 88.56,334.47" fill="#fff" stroke="#15b3d1" stroke-width="0.6" stroke-opacity="0.8" stroke-linejoin="round"/>
<polygon points="62,333.7 63.65,333.05 91.85,333.07 90.2,333.87" fill="#fff" stroke="#1fbabf" stroke-width="0.6" stroke-opacity="0.8" stroke-linejoin="round"/>
<polygon points="63.65,333.05 65.29,332.2 93.49,332.18 91.85,333.07" fill="#fff" stroke="#2cc1aa" stroke-width="0.6" stroke-opacity="0.8" stroke-linejoin="round"/>
<polygon points="65.29,332.2 66.93,330.76 95.13,330.63 93.49,332.18" fill="#fff" stroke="#49c888" stroke-width="0.6" stroke-opacity="0.8" stroke-linejoin="round"/>
<polygon points="66.93,330.76 68.57,329.07 96.77,328.64 95.13,330.63" fill="#fff" stroke="#86c757" stroke-width="0.6" stroke-opacity="0.8" stroke-linejoin="round"/>
<polygon points="68.57,329.07 70.22,326.53 98.42,325.76 96.77,328.64" fill="#fff" stroke="#cdc538" stroke-width="0.6" stroke-opacity="0.8" stroke-linejoin="round"/>
<polygon points="70.22,326.53 71.86,323.74 100.06,322.17 98.42,325.76" fill="#fff" stroke="#fdce32" stroke-width="0.6" stroke-opacity="0.8" stroke-linejoin="round"/>
<polygon points="71.86,323.74 73.5,320.86 101.7,318.44 100.06,322.17" fill="#fff" stroke="#f9fa15" stroke-width="0.6" stroke-opacity="0.8" stroke-linejoin="round"/>
<line x1="30.8" y1="306.61" x2="30.8" y2="337.8" stroke="#c8c8c8" stroke-width="0.8"/>
<polyline points="30.8,337.8 73.5,352 129.9,341" fill="none" stroke="#707070" stroke-width="0.9"/>
<text x="25" y="334.42" font-size="7.5" text-anchor="end" fill="#404040" stroke="#404040" stroke-width="0.1">0.6</text>
<text x="25" y="324.47" font-size="7.5" text-anchor="end" fill="#404040" stroke="#404040" stroke-width="0.1">0.8</text>
<text x="25" y="314.52" font-size="7.5" text-anchor="end" fill="#404040" stroke="#404040" stroke-width="0.1">1</text>
<text x="36.34" y="351.67" font-size="7.5" text-anchor="middle" fill="#404040" stroke="#404040" stroke-width="0.1">20</text>
<text x="52.76" y="357.13" font-size="7.5" text-anchor="middle" fill="#404040" stroke="#404040" stroke-width="0.1">10</text>
<text x="79.7" y="360.7" font-size="7.5" text-anchor="middle" fill="#404040" stroke="#404040" stroke-width="0.1">1</text>
<text x="107.9" y="355.2" font-size="7.5" text-anchor="middle" fill="#404040" stroke="#404040" stroke-width="0.1">2</text>
<text x="136.1" y="349.7" font-size="7.5" text-anchor="middle" fill="#404040" stroke="#404040" stroke-width="0.1">3</text>
<text x="10.7" y="320" font-size="8.2" text-anchor="middle" fill="#5a5a5a" stroke="#5a5a5a" stroke-width="0.1" transform="rotate(-90 10.7 320)" textLength="36.5" lengthAdjust="spacingAndGlyphs">Power ratio</text>
<text x="33.3" y="371.2" font-size="8.2" text-anchor="middle" fill="#8c8c8c" stroke="#8c8c8c" stroke-width="0.1" textLength="25.2" lengthAdjust="spacingAndGlyphs"><tspan font-style="normal">&#8730;</tspan><tspan font-style="italic" text-decoration="overline">H</tspan><tspan font-style="italic"> size</tspan></text>
<text x="80.7" y="370.2" font-size="7.5" text-anchor="middle" fill="#1e1e1e" stroke="#1e1e1e" stroke-width="0.25" font-weight="bold" textLength="35.8" lengthAdjust="spacingAndGlyphs">X-Z plane</text>
<text x="116.2" y="370" font-size="9.2" text-anchor="middle" fill="#8c8c8c" stroke="#8c8c8c" stroke-width="0.1">#<tspan font-style="italic">C</tspan><tspan font-size="0.7em" font-style="italic" dy="1.2">in</tspan></text>
<line x1="184.16" y1="347.33" x2="240.56" y2="336.33" stroke="#dcdcdc" stroke-width="0.6"/>
<line x1="240.56" y1="336.33" x2="240.56" y2="306.04" stroke="#dcdcdc" stroke-width="0.6"/>
<line x1="167.74" y1="341.87" x2="224.14" y2="330.87" stroke="#dcdcdc" stroke-width="0.6"/>
<line x1="224.14" y1="330.87" x2="224.14" y2="300.58" stroke="#dcdcdc" stroke-width="0.6"/>
<line x1="182.8" y1="332" x2="225.5" y2="346.2" stroke="#dcdcdc" stroke-width="0.6"/>
<line x1="182.8" y1="332" x2="182.8" y2="301.71" stroke="#dcdcdc" stroke-width="0.6"/>
<polyline points="154.6,330.87 211,319.87 253.7,334.07" fill="none" stroke="#dcdcdc" stroke-width="0.6"/>
<polyline points="154.6,320.97 211,309.97 253.7,324.17" fill="none" stroke="#dcdcdc" stroke-width="0.6"/>
<polyline points="154.6,311.07 211,300.07 253.7,314.27" fill="none" stroke="#dcdcdc" stroke-width="0.6"/>
<line x1="211" y1="326.5" x2="211" y2="296.21" stroke="#dcdcdc" stroke-width="0.6"/>
<polygon points="182.8,328.73 184.44,329.28 212.64,327.05 211,326.5" fill="#fff" stroke="#4548e2" stroke-width="0.6" stroke-opacity="0.8" stroke-linejoin="round"/>
<polygon points="184.44,329.28 186.08,329.83 214.28,327.59 212.64,327.05" fill="#fff" stroke="#4548e2" stroke-width="0.6" stroke-opacity="0.8" stroke-linejoin="round"/>
<polygon points="186.08,329.83 187.73,330.37 215.93,328.14 214.28,327.59" fill="#fff" stroke="#4548e2" stroke-width="0.6" stroke-opacity="0.8" stroke-linejoin="round"/>
<polygon points="187.73,330.37 189.37,330.92 217.57,328.68 215.93,328.14" fill="#fff" stroke="#4548e2" stroke-width="0.6" stroke-opacity="0.8" stroke-linejoin="round"/>
<polygon points="189.37,330.92 191.01,331.46 219.21,329.23 217.57,328.68" fill="#fff" stroke="#4548e2" stroke-width="0.6" stroke-opacity="0.8" stroke-linejoin="round"/>
<polygon points="191.01,331.46 192.65,332.01 220.85,329.78 219.21,329.23" fill="#fff" stroke="#4548e2" stroke-width="0.6" stroke-opacity="0.8" stroke-linejoin="round"/>
<polygon points="192.65,332.01 194.3,332.56 222.5,330.32 220.85,329.78" fill="#fff" stroke="#4548e2" stroke-width="0.6" stroke-opacity="0.8" stroke-linejoin="round"/>
<polygon points="194.3,332.56 195.94,333.1 224.14,330.87 222.5,330.32" fill="#fff" stroke="#4548e2" stroke-width="0.6" stroke-opacity="0.8" stroke-linejoin="round"/>
<polygon points="195.94,333.1 197.58,333.65 225.78,331.42 224.14,330.87" fill="#fff" stroke="#4548e2" stroke-width="0.6" stroke-opacity="0.8" stroke-linejoin="round"/>
<polygon points="197.58,333.65 199.22,334.19 227.42,331.96 225.78,331.42" fill="#fff" stroke="#4548e2" stroke-width="0.6" stroke-opacity="0.8" stroke-linejoin="round"/>
<polygon points="199.22,334.19 200.87,334.74 229.07,332.31 227.42,331.96" fill="#fff" stroke="#4548e2" stroke-width="0.6" stroke-opacity="0.8" stroke-linejoin="round"/>
<polygon points="154.6,328.14 156.24,328.69 184.44,329.28 182.8,328.73" fill="#fff" stroke="#298ef2" stroke-width="0.6" stroke-opacity="0.8" stroke-linejoin="round"/>
<polygon points="200.87,334.74 202.51,335.14 230.71,332.66 229.07,332.31" fill="#fff" stroke="#4649e4" stroke-width="0.6" stroke-opacity="0.8" stroke-linejoin="round"/>
<polygon points="156.24,328.69 157.88,329.24 186.08,329.83 184.44,329.28" fill="#fff" stroke="#298ef2" stroke-width="0.6" stroke-opacity="0.8" stroke-linejoin="round"/>
<polygon points="202.51,335.14 204.15,335.44 232.35,332.96 230.71,332.66" fill="#fff" stroke="#464ce9" stroke-width="0.6" stroke-opacity="0.8" stroke-linejoin="round"/>
<polygon points="157.88,329.24 159.53,329.78 187.73,330.37 186.08,329.83" fill="#fff" stroke="#298ef2" stroke-width="0.6" stroke-opacity="0.8" stroke-linejoin="round"/>
<polygon points="204.15,335.44 205.79,335.54 233.99,333.16 232.35,332.96" fill="#fff" stroke="#4750f0" stroke-width="0.6" stroke-opacity="0.8" stroke-linejoin="round"/>
<polygon points="159.53,329.78 161.17,330.33 189.37,330.92 187.73,330.37" fill="#fff" stroke="#298ef2" stroke-width="0.6" stroke-opacity="0.8" stroke-linejoin="round"/>
<polygon points="205.79,335.54 207.43,335.49 235.63,333.21 233.99,333.16" fill="#fff" stroke="#4557f4" stroke-width="0.6" stroke-opacity="0.8" stroke-linejoin="round"/>
<polygon points="161.17,330.33 162.81,330.88 191.01,331.46 189.37,330.92" fill="#fff" stroke="#298ef2" stroke-width="0.6" stroke-opacity="0.8" stroke-linejoin="round"/>
<polygon points="207.43,335.49 209.08,335.44 237.28,333.11 235.63,333.21" fill="#fff" stroke="#425ef5" stroke-width="0.6" stroke-opacity="0.8" stroke-linejoin="round"/>
<polygon points="162.81,330.88 164.45,331.42 192.65,332.01 191.01,331.46" fill="#fff" stroke="#298ef2" stroke-width="0.6" stroke-opacity="0.8" stroke-linejoin="round"/>
<polygon points="209.08,335.44 210.72,335.15 238.92,332.77 237.28,333.11" fill="#fff" stroke="#3d68f5" stroke-width="0.6" stroke-opacity="0.8" stroke-linejoin="round"/>
<polygon points="164.45,331.42 166.1,331.97 194.3,332.56 192.65,332.01" fill="#fff" stroke="#298ef2" stroke-width="0.6" stroke-opacity="0.8" stroke-linejoin="round"/>
<polygon points="210.72,335.15 212.36,334.65 240.56,332.32 238.92,332.77" fill="#fff" stroke="#3675f6" stroke-width="0.6" stroke-opacity="0.8" stroke-linejoin="round"/>
<polygon points="166.1,331.97 167.74,332.51 195.94,333.1 194.3,332.56" fill="#fff" stroke="#298ef2" stroke-width="0.6" stroke-opacity="0.8" stroke-linejoin="round"/>
<polygon points="212.36,334.65 214,333.96 242.2,331.73 240.56,332.32" fill="#fff" stroke="#2f84f7" stroke-width="0.6" stroke-opacity="0.8" stroke-linejoin="round"/>
<polygon points="167.74,332.51 169.38,333.06 197.58,333.65 195.94,333.1" fill="#fff" stroke="#298ef2" stroke-width="0.6" stroke-opacity="0.8" stroke-linejoin="round"/>
<polygon points="214,333.96 215.65,333.17 243.85,330.94 242.2,331.73" fill="#fff" stroke="#2692ef" stroke-width="0.6" stroke-opacity="0.8" stroke-linejoin="round"/>
<polygon points="169.38,333.06 171.02,333.61 199.22,334.19 197.58,333.65" fill="#fff" stroke="#298ef2" stroke-width="0.6" stroke-opacity="0.8" stroke-linejoin="round"/>
<polygon points="215.65,333.17 217.29,331.74 245.49,329.46 243.85,330.94" fill="#fff" stroke="#1aa5e0" stroke-width="0.6" stroke-opacity="0.8" stroke-linejoin="round"/>
<polygon points="171.02,333.61 172.67,334.15 200.87,334.74 199.22,334.19" fill="#fff" stroke="#298ef2" stroke-width="0.6" stroke-opacity="0.8" stroke-linejoin="round"/>
<polygon points="217.29,331.74 218.93,330.01 247.13,327.97 245.49,329.46" fill="#fff" stroke="#1ab7c7" stroke-width="0.6" stroke-opacity="0.8" stroke-linejoin="round"/>
<polygon points="172.67,334.15 174.31,334.7 202.51,335.14 200.87,334.74" fill="#fff" stroke="#298ef2" stroke-width="0.6" stroke-opacity="0.8" stroke-linejoin="round"/>
<polygon points="218.93,330.01 220.57,327.39 248.77,325.15 247.13,327.97" fill="#fff" stroke="#36c799" stroke-width="0.6" stroke-opacity="0.8" stroke-linejoin="round"/>
<polygon points="174.31,334.7 175.95,335.15 204.15,335.44 202.51,335.14" fill="#fff" stroke="#288ff1" stroke-width="0.6" stroke-opacity="0.8" stroke-linejoin="round"/>
<polygon points="220.57,327.39 222.22,324.52 250.42,321.59 248.77,325.15" fill="#fff" stroke="#8fc750" stroke-width="0.6" stroke-opacity="0.8" stroke-linejoin="round"/>
<polygon points="175.95,335.15 177.59,335.39 205.79,335.54 204.15,335.44" fill="#fff" stroke="#2692ef" stroke-width="0.6" stroke-opacity="0.8" stroke-linejoin="round"/>
<polygon points="222.22,324.52 223.86,321 252.06,317.88 250.42,321.59" fill="#fff" stroke="#e5c438" stroke-width="0.6" stroke-opacity="0.8" stroke-linejoin="round"/>
<polygon points="177.59,335.39 179.23,335.45 207.43,335.49 205.79,335.54" fill="#fff" stroke="#2396eb" stroke-width="0.6" stroke-opacity="0.8" stroke-linejoin="round"/>
<polygon points="223.86,321 225.5,317.64 253.7,313.72 252.06,317.88" fill="#fff" stroke="#fbe523" stroke-width="0.6" stroke-opacity="0.8" stroke-linejoin="round"/>
<polygon points="179.23,335.45 180.88,335.3 209.08,335.44 207.43,335.49" fill="#fff" stroke="#1f9de6" stroke-width="0.6" stroke-opacity="0.8" stroke-linejoin="round"/>
<polygon points="180.88,335.3 182.52,335.1 210.72,335.15 209.08,335.44" fill="#fff" stroke="#1aa4e0" stroke-width="0.6" stroke-opacity="0.8" stroke-linejoin="round"/>
<polygon points="182.52,335.1 184.16,334.66 212.36,334.65 210.72,335.15" fill="#fff" stroke="#14aed8" stroke-width="0.6" stroke-opacity="0.8" stroke-linejoin="round"/>
<polygon points="184.16,334.66 185.8,334.07 214,333.96 212.36,334.65" fill="#fff" stroke="#19b6ca" stroke-width="0.6" stroke-opacity="0.8" stroke-linejoin="round"/>
<polygon points="185.8,334.07 187.45,333.18 215.65,333.17 214,333.96" fill="#fff" stroke="#25bdb5" stroke-width="0.6" stroke-opacity="0.8" stroke-linejoin="round"/>
<polygon points="187.45,333.18 189.09,332.09 217.29,331.74 215.65,333.17" fill="#fff" stroke="#33c69d" stroke-width="0.6" stroke-opacity="0.8" stroke-linejoin="round"/>
<polygon points="189.09,332.09 190.73,330.56 218.93,330.01 217.29,331.74" fill="#fff" stroke="#63c873" stroke-width="0.6" stroke-opacity="0.8" stroke-linejoin="round"/>
<polygon points="190.73,330.56 192.37,328.38 220.57,327.39 218.93,330.01" fill="#fff" stroke="#acc739" stroke-width="0.6" stroke-opacity="0.8" stroke-linejoin="round"/>
<polygon points="192.37,328.38 194.02,326.11 222.22,324.52 220.57,327.39" fill="#fff" stroke="#e2c438" stroke-width="0.6" stroke-opacity="0.8" stroke-linejoin="round"/>
<polygon points="194.02,326.11 195.66,323.38 223.86,321 222.22,324.52" fill="#fff" stroke="#fcda29" stroke-width="0.6" stroke-opacity="0.8" stroke-linejoin="round"/>
<polygon points="195.66,323.38 197.3,321.41 225.5,317.64 223.86,321" fill="#fff" stroke="#f9fb15" stroke-width="0.6" stroke-opacity="0.8" stroke-linejoin="round"/>
<line x1="154.6" y1="307.21" x2="154.6" y2="337.5" stroke="#c8c8c8" stroke-width="0.8"/>
<polyline points="154.6,337.5 197.3,351.7 253.7,340.7" fill="none" stroke="#707070" stroke-width="0.9"/>
<text x="148.8" y="331.97" font-size="7.5" text-anchor="end" fill="#404040" stroke="#404040" stroke-width="0.1">0.6</text>
<text x="148.8" y="322.07" font-size="7.5" text-anchor="end" fill="#404040" stroke="#404040" stroke-width="0.1">0.8</text>
<text x="148.8" y="312.17" font-size="7.5" text-anchor="end" fill="#404040" stroke="#404040" stroke-width="0.1">1</text>
<text x="160.14" y="351.67" font-size="7.5" text-anchor="middle" fill="#404040" stroke="#404040" stroke-width="0.1">20</text>
<text x="176.56" y="357.13" font-size="7.5" text-anchor="middle" fill="#404040" stroke="#404040" stroke-width="0.1">10</text>
<text x="203.5" y="360.7" font-size="7.5" text-anchor="middle" fill="#404040" stroke="#404040" stroke-width="0.1">1</text>
<text x="231.7" y="355.2" font-size="7.5" text-anchor="middle" fill="#404040" stroke="#404040" stroke-width="0.1">2</text>
<text x="259.9" y="349.7" font-size="7.5" text-anchor="middle" fill="#404040" stroke="#404040" stroke-width="0.1">3</text>
<text x="135.3" y="320" font-size="8.2" text-anchor="middle" fill="#5a5a5a" stroke="#5a5a5a" stroke-width="0.1" transform="rotate(-90 135.3 320)" textLength="32.5" lengthAdjust="spacingAndGlyphs">Area ratio</text>
<text x="157.1" y="371.2" font-size="8.2" text-anchor="middle" fill="#8c8c8c" stroke="#8c8c8c" stroke-width="0.1" textLength="25.2" lengthAdjust="spacingAndGlyphs"><tspan font-style="normal">&#8730;</tspan><tspan font-style="italic" text-decoration="overline">H</tspan><tspan font-style="italic"> size</tspan></text>
<text x="204.5" y="370.2" font-size="7.5" text-anchor="middle" fill="#1e1e1e" stroke="#1e1e1e" stroke-width="0.25" font-weight="bold" textLength="35.8" lengthAdjust="spacingAndGlyphs">X-Z plane</text>
<text x="240" y="370" font-size="9.2" text-anchor="middle" fill="#8c8c8c" stroke="#8c8c8c" stroke-width="0.1">#<tspan font-style="italic">C</tspan><tspan font-size="0.7em" font-style="italic" dy="1.2">in</tspan></text>
<line x1="313.86" y1="347.83" x2="370.26" y2="336.83" stroke="#dcdcdc" stroke-width="0.6"/>
<line x1="370.26" y1="336.83" x2="370.26" y2="305.36" stroke="#dcdcdc" stroke-width="0.6"/>
<line x1="297.44" y1="342.37" x2="353.84" y2="331.37" stroke="#dcdcdc" stroke-width="0.6"/>
<line x1="353.84" y1="331.37" x2="353.84" y2="299.89" stroke="#dcdcdc" stroke-width="0.6"/>
<line x1="312.5" y1="332.5" x2="355.2" y2="346.7" stroke="#dcdcdc" stroke-width="0.6"/>
<line x1="312.5" y1="332.5" x2="312.5" y2="301.02" stroke="#dcdcdc" stroke-width="0.6"/>
<polyline points="284.3,330.11 340.7,319.11 383.4,333.31" fill="none" stroke="#dcdcdc" stroke-width="0.6"/>
<polyline points="284.3,314.01 340.7,303.01 383.4,317.21" fill="none" stroke="#dcdcdc" stroke-width="0.6"/>
<line x1="340.7" y1="327" x2="340.7" y2="295.52" stroke="#dcdcdc" stroke-width="0.6"/>
<polygon points="312.5,320.75 314.14,321.29 342.34,315.79 340.7,315.25" fill="#fff" stroke="#1ca1e3" stroke-width="0.6" stroke-opacity="0.6" stroke-linejoin="round"/>
<polygon points="314.14,321.29 315.78,333.59 343.98,328.09 342.34,315.79" fill="#fff" stroke="#3e26a8" stroke-width="0.6" stroke-opacity="0.6" stroke-linejoin="round"/>
<polygon points="315.78,333.59 317.43,322.39 345.63,316.89 343.98,328.09" fill="#fff" stroke="#1ca1e3" stroke-width="0.6" stroke-opacity="0.6" stroke-linejoin="round"/>
<polygon points="317.43,322.39 319.07,303.21 347.27,297.71 345.63,316.89" fill="#fff" stroke="#f9fb15" stroke-width="0.6" stroke-opacity="0.6" stroke-linejoin="round"/>
<polygon points="319.07,303.21 320.71,323.48 348.91,317.98 347.27,297.71" fill="#fff" stroke="#1ca1e3" stroke-width="0.6" stroke-opacity="0.6" stroke-linejoin="round"/>
<polygon points="320.71,323.48 322.35,322.01 350.55,298.8 348.91,317.98" fill="#fff" stroke="#14b3d2" stroke-width="0.6" stroke-opacity="0.6" stroke-linejoin="round"/>
<polygon points="322.35,322.01 324,324.57 352.2,319.07 350.55,298.8" fill="#fff" stroke="#1ca1e3" stroke-width="0.6" stroke-opacity="0.6" stroke-linejoin="round"/>
<polygon points="324,324.57 325.64,325.12 353.84,317.6 352.2,319.07" fill="#fff" stroke="#1ca1e3" stroke-width="0.6" stroke-opacity="0.6" stroke-linejoin="round"/>
<polygon points="325.64,325.12 327.28,325.66 355.48,318.15 353.84,317.6" fill="#fff" stroke="#1ca1e3" stroke-width="0.6" stroke-opacity="0.6" stroke-linejoin="round"/>
<polygon points="327.28,325.66 328.92,326.21 357.12,320.71 355.48,318.15" fill="#fff" stroke="#1ca1e3" stroke-width="0.6" stroke-opacity="0.6" stroke-linejoin="round"/>
<polygon points="328.92,326.21 330.57,326.75 358.77,321.25 357.12,320.71" fill="#fff" stroke="#1ca1e3" stroke-width="0.6" stroke-opacity="0.6" stroke-linejoin="round"/>
<polygon points="284.3,326.25 285.94,326.79 314.14,321.29 312.5,320.75" fill="#fff" stroke="#1ca1e3" stroke-width="0.6" stroke-opacity="0.6" stroke-linejoin="round"/>
<polygon points="330.57,326.75 332.21,327.3 360.41,321.8 358.77,321.25" fill="#fff" stroke="#1ca1e3" stroke-width="0.6" stroke-opacity="0.6" stroke-linejoin="round"/>
<polygon points="285.94,326.79 287.58,339.09 315.78,333.59 314.14,321.29" fill="#fff" stroke="#3e26a8" stroke-width="0.6" stroke-opacity="0.6" stroke-linejoin="round"/>
<polygon points="332.21,327.3 333.85,327.85 362.05,322.35 360.41,321.8" fill="#fff" stroke="#1ca1e3" stroke-width="0.6" stroke-opacity="0.6" stroke-linejoin="round"/>
<polygon points="287.58,339.09 289.23,327.89 317.43,322.39 315.78,333.59" fill="#fff" stroke="#1ca1e3" stroke-width="0.6" stroke-opacity="0.6" stroke-linejoin="round"/>
<polygon points="333.85,327.85 335.49,328.39 363.69,322.89 362.05,322.35" fill="#fff" stroke="#1ca1e3" stroke-width="0.6" stroke-opacity="0.6" stroke-linejoin="round"/>
<polygon points="289.23,327.89 290.87,328.43 319.07,303.21 317.43,322.39" fill="#fff" stroke="#1ca1e3" stroke-width="0.6" stroke-opacity="0.6" stroke-linejoin="round"/>
<polygon points="335.49,328.39 337.13,328.94 365.33,323.44 363.69,322.89" fill="#fff" stroke="#1ca1e3" stroke-width="0.6" stroke-opacity="0.6" stroke-linejoin="round"/>
<polygon points="290.87,328.43 292.51,328.98 320.71,323.48 319.07,303.21" fill="#fff" stroke="#1ca1e3" stroke-width="0.6" stroke-opacity="0.6" stroke-linejoin="round"/>
<polygon points="337.13,328.94 338.78,329.49 366.98,323.99 365.33,323.44" fill="#fff" stroke="#1ca1e3" stroke-width="0.6" stroke-opacity="0.6" stroke-linejoin="round"/>
<polygon points="292.51,328.98 294.15,329.52 322.35,322.01 320.71,323.48" fill="#fff" stroke="#1ca1e3" stroke-width="0.6" stroke-opacity="0.6" stroke-linejoin="round"/>
<polygon points="338.78,329.49 340.42,330.03 368.62,324.53 366.98,323.99" fill="#fff" stroke="#1ca1e3" stroke-width="0.6" stroke-opacity="0.6" stroke-linejoin="round"/>
<polygon points="294.15,329.52 295.8,330.07 324,324.57 322.35,322.01" fill="#fff" stroke="#1ca1e3" stroke-width="0.6" stroke-opacity="0.6" stroke-linejoin="round"/>
<polygon points="340.42,330.03 342.06,330.58 370.26,325.08 368.62,324.53" fill="#fff" stroke="#1ca1e3" stroke-width="0.6" stroke-opacity="0.6" stroke-linejoin="round"/>
<polygon points="295.8,330.07 297.44,330.62 325.64,325.12 324,324.57" fill="#fff" stroke="#1ca1e3" stroke-width="0.6" stroke-opacity="0.6" stroke-linejoin="round"/>
<polygon points="342.06,330.58 343.7,331.12 371.9,325.62 370.26,325.08" fill="#fff" stroke="#1ca1e3" stroke-width="0.6" stroke-opacity="0.6" stroke-linejoin="round"/>
<polygon points="297.44,330.62 299.08,331.16 327.28,325.66 325.64,325.12" fill="#fff" stroke="#1ca1e3" stroke-width="0.6" stroke-opacity="0.6" stroke-linejoin="round"/>
<polygon points="343.7,331.12 345.35,331.67 373.55,326.17 371.9,325.62" fill="#fff" stroke="#1ca1e3" stroke-width="0.6" stroke-opacity="0.6" stroke-linejoin="round"/>
<polygon points="299.08,331.16 300.72,331.71 328.92,326.21 327.28,325.66" fill="#fff" stroke="#1ca1e3" stroke-width="0.6" stroke-opacity="0.6" stroke-linejoin="round"/>
<polygon points="345.35,331.67 346.99,332.22 375.19,326.72 373.55,326.17" fill="#fff" stroke="#1ca1e3" stroke-width="0.6" stroke-opacity="0.6" stroke-linejoin="round"/>
<polygon points="300.72,331.71 302.37,332.25 330.57,326.75 328.92,326.21" fill="#fff" stroke="#1ca1e3" stroke-width="0.6" stroke-opacity="0.6" stroke-linejoin="round"/>
<polygon points="346.99,332.22 348.63,332.76 376.83,327.26 375.19,326.72" fill="#fff" stroke="#1ca1e3" stroke-width="0.6" stroke-opacity="0.6" stroke-linejoin="round"/>
<polygon points="302.37,332.25 304.01,332.8 332.21,327.3 330.57,326.75" fill="#fff" stroke="#1ca1e3" stroke-width="0.6" stroke-opacity="0.6" stroke-linejoin="round"/>
<polygon points="348.63,332.76 350.27,333.31 378.47,327.81 376.83,327.26" fill="#fff" stroke="#1ca1e3" stroke-width="0.6" stroke-opacity="0.6" stroke-linejoin="round"/>
<polygon points="304.01,332.8 305.65,333.35 333.85,327.85 332.21,327.3" fill="#fff" stroke="#1ca1e3" stroke-width="0.6" stroke-opacity="0.6" stroke-linejoin="round"/>
<polygon points="350.27,333.31 351.92,333.85 380.12,328.35 378.47,327.81" fill="#fff" stroke="#1ca1e3" stroke-width="0.6" stroke-opacity="0.6" stroke-linejoin="round"/>
<polygon points="305.65,333.35 307.29,333.89 335.49,328.39 333.85,327.85" fill="#fff" stroke="#1ca1e3" stroke-width="0.6" stroke-opacity="0.6" stroke-linejoin="round"/>
<polygon points="351.92,333.85 353.56,334.4 381.76,328.9 380.12,328.35" fill="#fff" stroke="#1ca1e3" stroke-width="0.6" stroke-opacity="0.6" stroke-linejoin="round"/>
<polygon points="307.29,333.89 308.93,334.44 337.13,328.94 335.49,328.39" fill="#fff" stroke="#1ca1e3" stroke-width="0.6" stroke-opacity="0.6" stroke-linejoin="round"/>
<polygon points="353.56,334.4 355.2,334.95 383.4,329.45 381.76,328.9" fill="#fff" stroke="#1ca1e3" stroke-width="0.6" stroke-opacity="0.6" stroke-linejoin="round"/>
<polygon points="308.93,334.44 310.58,334.99 338.78,329.49 337.13,328.94" fill="#fff" stroke="#1ca1e3" stroke-width="0.6" stroke-opacity="0.6" stroke-linejoin="round"/>
<polygon points="310.58,334.99 312.22,335.53 340.42,330.03 338.78,329.49" fill="#fff" stroke="#1ca1e3" stroke-width="0.6" stroke-opacity="0.6" stroke-linejoin="round"/>
<polygon points="312.22,335.53 313.86,336.08 342.06,330.58 340.42,330.03" fill="#fff" stroke="#1ca1e3" stroke-width="0.6" stroke-opacity="0.6" stroke-linejoin="round"/>
<polygon points="313.86,336.08 315.5,336.62 343.7,331.12 342.06,330.58" fill="#fff" stroke="#1ca1e3" stroke-width="0.6" stroke-opacity="0.6" stroke-linejoin="round"/>
<polygon points="315.5,336.62 317.15,337.17 345.35,331.67 343.7,331.12" fill="#fff" stroke="#1ca1e3" stroke-width="0.6" stroke-opacity="0.6" stroke-linejoin="round"/>
<polygon points="317.15,337.17 318.79,337.72 346.99,332.22 345.35,331.67" fill="#fff" stroke="#1ca1e3" stroke-width="0.6" stroke-opacity="0.6" stroke-linejoin="round"/>
<polygon points="318.79,337.72 320.43,338.26 348.63,332.76 346.99,332.22" fill="#fff" stroke="#1ca1e3" stroke-width="0.6" stroke-opacity="0.6" stroke-linejoin="round"/>
<polygon points="320.43,338.26 322.07,338.81 350.27,333.31 348.63,332.76" fill="#fff" stroke="#1ca1e3" stroke-width="0.6" stroke-opacity="0.6" stroke-linejoin="round"/>
<polygon points="322.07,338.81 323.72,339.35 351.92,333.85 350.27,333.31" fill="#fff" stroke="#1ca1e3" stroke-width="0.6" stroke-opacity="0.6" stroke-linejoin="round"/>
<polygon points="323.72,339.35 325.36,339.9 353.56,334.4 351.92,333.85" fill="#fff" stroke="#1ca1e3" stroke-width="0.6" stroke-opacity="0.6" stroke-linejoin="round"/>
<polygon points="325.36,339.9 327,340.45 355.2,334.95 353.56,334.4" fill="#fff" stroke="#1ca1e3" stroke-width="0.6" stroke-opacity="0.6" stroke-linejoin="round"/>
<line x1="284.3" y1="306.52" x2="284.3" y2="338" stroke="#c8c8c8" stroke-width="0.8"/>
<polyline points="284.3,338 327,352.2 383.4,341.2" fill="none" stroke="#707070" stroke-width="0.9"/>
<text x="278.5" y="331.21" font-size="7.5" text-anchor="end" fill="#404040" stroke="#404040" stroke-width="0.1">1</text>
<text x="278.5" y="315.11" font-size="7.5" text-anchor="end" fill="#404040" stroke="#404040" stroke-width="0.1">1.02</text>
<text x="289.84" y="351.67" font-size="7.5" text-anchor="middle" fill="#404040" stroke="#404040" stroke-width="0.1">20</text>
<text x="306.26" y="357.13" font-size="7.5" text-anchor="middle" fill="#404040" stroke="#404040" stroke-width="0.1">10</text>
<text x="333.2" y="360.7" font-size="7.5" text-anchor="middle" fill="#404040" stroke="#404040" stroke-width="0.1">1</text>
<text x="361.4" y="355.2" font-size="7.5" text-anchor="middle" fill="#404040" stroke="#404040" stroke-width="0.1">2</text>
<text x="389.6" y="349.7" font-size="7.5" text-anchor="middle" fill="#404040" stroke="#404040" stroke-width="0.1">3</text>
<text x="260.8" y="320" font-size="8.2" text-anchor="middle" fill="#5a5a5a" stroke="#5a5a5a" stroke-width="0.1" transform="rotate(-90 260.8 320)" textLength="48.5" lengthAdjust="spacingAndGlyphs">CP Delay ratio</text>
<text x="286.8" y="371.2" font-size="8.2" text-anchor="middle" fill="#8c8c8c" stroke="#8c8c8c" stroke-width="0.1" textLength="25.2" lengthAdjust="spacingAndGlyphs"><tspan font-style="normal">&#8730;</tspan><tspan font-style="italic" text-decoration="overline">H</tspan><tspan font-style="italic"> size</tspan></text>
<text x="334.2" y="370.2" font-size="7.5" text-anchor="middle" fill="#1e1e1e" stroke="#1e1e1e" stroke-width="0.25" font-weight="bold" textLength="35.8" lengthAdjust="spacingAndGlyphs">X-Z plane</text>
<text x="369.7" y="370" font-size="9.2" text-anchor="middle" fill="#8c8c8c" stroke="#8c8c8c" stroke-width="0.1">#<tspan font-style="italic">C</tspan><tspan font-size="0.7em" font-style="italic" dy="1.2">in</tspan></text>
<line x1="30.1" y1="377" x2="30.1" y2="433.4" stroke="#dcdcdc" stroke-width="0.7"/>
<line x1="55.05" y1="377" x2="55.05" y2="433.4" stroke="#dcdcdc" stroke-width="0.7"/>
<line x1="80" y1="377" x2="80" y2="433.4" stroke="#dcdcdc" stroke-width="0.7"/>
<line x1="104.95" y1="377" x2="104.95" y2="433.4" stroke="#dcdcdc" stroke-width="0.7"/>
<line x1="129.9" y1="377" x2="129.9" y2="433.4" stroke="#dcdcdc" stroke-width="0.7"/>
<line x1="30.1" y1="427.39" x2="129.9" y2="427.39" stroke="#dcdcdc" stroke-width="0.7"/>
<line x1="30.1" y1="408.63" x2="129.9" y2="408.63" stroke="#dcdcdc" stroke-width="0.7"/>
<line x1="30.1" y1="389.86" x2="129.9" y2="389.86" stroke="#dcdcdc" stroke-width="0.7"/>
<line x1="30.1" y1="377.09" x2="80" y2="382.91" stroke="#0072BD" stroke-width="1.3" stroke-dasharray="2.4 2.1" stroke-dashoffset="0"/>
<line x1="80" y1="382.91" x2="129.9" y2="386.29" stroke="#0072BD" stroke-width="1.3" stroke-dasharray="2.4 2.1" stroke-dashoffset="0.74"/>
<circle cx="30.1" cy="377.09" r="1.5" fill="#0072BD"/>
<circle cx="80" cy="382.91" r="1.5" fill="#0072BD"/>
<circle cx="129.9" cy="386.29" r="1.5" fill="#0072BD"/>
<line x1="30.1" y1="383.57" x2="80" y2="390.98" stroke="#D95319" stroke-width="1.3" stroke-dasharray="2.4 2.1" stroke-dashoffset="0"/>
<line x1="80" y1="390.98" x2="129.9" y2="395.77" stroke="#D95319" stroke-width="1.3" stroke-dasharray="2.4 2.1" stroke-dashoffset="0.95"/>
<circle cx="30.1" cy="383.57" r="1.5" fill="#D95319"/>
<circle cx="80" cy="390.98" r="1.5" fill="#D95319"/>
<circle cx="129.9" cy="395.77" r="1.5" fill="#D95319"/>
<line x1="30.1" y1="389.86" x2="80" y2="398.77" stroke="#EDB120" stroke-width="1.3" stroke-dasharray="2.4 2.1" stroke-dashoffset="0"/>
<line x1="80" y1="398.77" x2="129.9" y2="403.93" stroke="#EDB120" stroke-width="1.3" stroke-dasharray="2.4 2.1" stroke-dashoffset="1.19"/>
<circle cx="30.1" cy="389.86" r="1.5" fill="#EDB120"/>
<circle cx="80" cy="398.77" r="1.5" fill="#EDB120"/>
<circle cx="129.9" cy="403.93" r="1.5" fill="#EDB120"/>
<line x1="30.1" y1="395.67" x2="80" y2="405.25" stroke="#7E2F8E" stroke-width="1.3" stroke-dasharray="2.4 2.1" stroke-dashoffset="0"/>
<line x1="80" y1="405.25" x2="129.9" y2="410.88" stroke="#7E2F8E" stroke-width="1.3" stroke-dasharray="2.4 2.1" stroke-dashoffset="1.31"/>
<circle cx="30.1" cy="395.67" r="1.5" fill="#7E2F8E"/>
<circle cx="80" cy="405.25" r="1.5" fill="#7E2F8E"/>
<circle cx="129.9" cy="410.88" r="1.5" fill="#7E2F8E"/>
<line x1="30.1" y1="399.9" x2="80" y2="410.03" stroke="#77AC30" stroke-width="1.3" stroke-dasharray="2.4 2.1" stroke-dashoffset="0"/>
<line x1="80" y1="410.03" x2="129.9" y2="415.95" stroke="#77AC30" stroke-width="1.3" stroke-dasharray="2.4 2.1" stroke-dashoffset="1.42"/>
<circle cx="30.1" cy="399.9" r="1.5" fill="#77AC30"/>
<circle cx="80" cy="410.03" r="1.5" fill="#77AC30"/>
<circle cx="129.9" cy="415.95" r="1.5" fill="#77AC30"/>
<line x1="30.1" y1="403.65" x2="80" y2="413.97" stroke="#4DBEEE" stroke-width="1.3" stroke-dasharray="2.4 2.1" stroke-dashoffset="0"/>
<line x1="80" y1="413.97" x2="129.9" y2="419.98" stroke="#4DBEEE" stroke-width="1.3" stroke-dasharray="2.4 2.1" stroke-dashoffset="1.46"/>
<circle cx="30.1" cy="403.65" r="1.5" fill="#4DBEEE"/>
<circle cx="80" cy="413.97" r="1.5" fill="#4DBEEE"/>
<circle cx="129.9" cy="419.98" r="1.5" fill="#4DBEEE"/>
<line x1="30.1" y1="406.28" x2="80" y2="416.7" stroke="#A2142F" stroke-width="1.3" stroke-dasharray="2.4 2.1" stroke-dashoffset="0"/>
<line x1="80" y1="416.7" x2="129.9" y2="422.7" stroke="#A2142F" stroke-width="1.3" stroke-dasharray="2.4 2.1" stroke-dashoffset="1.48"/>
<circle cx="30.1" cy="406.28" r="1.5" fill="#A2142F"/>
<circle cx="80" cy="416.7" r="1.5" fill="#A2142F"/>
<circle cx="129.9" cy="422.7" r="1.5" fill="#A2142F"/>
<line x1="30.1" y1="408.53" x2="80" y2="419.23" stroke="#0072BD" stroke-width="1.3" stroke-dasharray="2.4 2.1" stroke-dashoffset="0"/>
<line x1="80" y1="419.23" x2="129.9" y2="425.33" stroke="#0072BD" stroke-width="1.3" stroke-dasharray="2.4 2.1" stroke-dashoffset="1.53"/>
<circle cx="30.1" cy="408.53" r="1.5" fill="#0072BD"/>
<circle cx="80" cy="419.23" r="1.5" fill="#0072BD"/>
<circle cx="129.9" cy="425.33" r="1.5" fill="#0072BD"/>
<line x1="30.1" y1="410.41" x2="80" y2="421.39" stroke="#D95319" stroke-width="1.3" stroke-dasharray="2.4 2.1" stroke-dashoffset="0"/>
<line x1="80" y1="421.39" x2="129.9" y2="427.21" stroke="#D95319" stroke-width="1.3" stroke-dasharray="2.4 2.1" stroke-dashoffset="1.59"/>
<circle cx="30.1" cy="410.41" r="1.5" fill="#D95319"/>
<circle cx="80" cy="421.39" r="1.5" fill="#D95319"/>
<circle cx="129.9" cy="427.21" r="1.5" fill="#D95319"/>
<line x1="30.1" y1="411.82" x2="80" y2="422.8" stroke="#EDB120" stroke-width="1.3" stroke-dasharray="2.4 2.1" stroke-dashoffset="0"/>
<line x1="80" y1="422.8" x2="129.9" y2="428.43" stroke="#EDB120" stroke-width="1.3" stroke-dasharray="2.4 2.1" stroke-dashoffset="1.59"/>
<circle cx="30.1" cy="411.82" r="1.5" fill="#EDB120"/>
<circle cx="80" cy="422.8" r="1.5" fill="#EDB120"/>
<circle cx="129.9" cy="428.43" r="1.5" fill="#EDB120"/>
<line x1="30.1" y1="412.85" x2="80" y2="424.02" stroke="#7E2F8E" stroke-width="1.3" stroke-dasharray="2.4 2.1" stroke-dashoffset="0"/>
<line x1="80" y1="424.02" x2="129.9" y2="429.55" stroke="#7E2F8E" stroke-width="1.3" stroke-dasharray="2.4 2.1" stroke-dashoffset="1.63"/>
<circle cx="30.1" cy="412.85" r="1.5" fill="#7E2F8E"/>
<circle cx="80" cy="424.02" r="1.5" fill="#7E2F8E"/>
<circle cx="129.9" cy="429.55" r="1.5" fill="#7E2F8E"/>
<line x1="30.1" y1="413.79" x2="80" y2="424.77" stroke="#77AC30" stroke-width="1.3" stroke-dasharray="2.4 2.1" stroke-dashoffset="0"/>
<line x1="80" y1="424.77" x2="129.9" y2="430.4" stroke="#77AC30" stroke-width="1.3" stroke-dasharray="2.4 2.1" stroke-dashoffset="1.59"/>
<circle cx="30.1" cy="413.79" r="1.5" fill="#77AC30"/>
<circle cx="80" cy="424.77" r="1.5" fill="#77AC30"/>
<circle cx="129.9" cy="430.4" r="1.5" fill="#77AC30"/>
<line x1="30.1" y1="414.54" x2="80" y2="425.52" stroke="#4DBEEE" stroke-width="1.3" stroke-dasharray="2.4 2.1" stroke-dashoffset="0"/>
<line x1="80" y1="425.52" x2="129.9" y2="431.15" stroke="#4DBEEE" stroke-width="1.3" stroke-dasharray="2.4 2.1" stroke-dashoffset="1.59"/>
<circle cx="30.1" cy="414.54" r="1.5" fill="#4DBEEE"/>
<circle cx="80" cy="425.52" r="1.5" fill="#4DBEEE"/>
<circle cx="129.9" cy="431.15" r="1.5" fill="#4DBEEE"/>
<line x1="30.1" y1="415.19" x2="80" y2="426.17" stroke="#A2142F" stroke-width="1.3" stroke-dasharray="2.4 2.1" stroke-dashoffset="0"/>
<line x1="80" y1="426.17" x2="129.9" y2="431.8" stroke="#A2142F" stroke-width="1.3" stroke-dasharray="2.4 2.1" stroke-dashoffset="1.59"/>
<circle cx="30.1" cy="415.19" r="1.5" fill="#A2142F"/>
<circle cx="80" cy="426.17" r="1.5" fill="#A2142F"/>
<circle cx="129.9" cy="431.8" r="1.5" fill="#A2142F"/>
<line x1="30.1" y1="415.66" x2="80" y2="426.64" stroke="#0072BD" stroke-width="1.3" stroke-dasharray="2.4 2.1" stroke-dashoffset="0"/>
<line x1="80" y1="426.64" x2="129.9" y2="432.18" stroke="#0072BD" stroke-width="1.3" stroke-dasharray="2.4 2.1" stroke-dashoffset="1.59"/>
<circle cx="30.1" cy="415.66" r="1.5" fill="#0072BD"/>
<circle cx="80" cy="426.64" r="1.5" fill="#0072BD"/>
<circle cx="129.9" cy="432.18" r="1.5" fill="#0072BD"/>
<line x1="30.1" y1="416.04" x2="80" y2="427.02" stroke="#D95319" stroke-width="1.3" stroke-dasharray="2.4 2.1" stroke-dashoffset="0"/>
<line x1="80" y1="427.02" x2="129.9" y2="432.56" stroke="#D95319" stroke-width="1.3" stroke-dasharray="2.4 2.1" stroke-dashoffset="1.59"/>
<circle cx="30.1" cy="416.04" r="1.5" fill="#D95319"/>
<circle cx="80" cy="427.02" r="1.5" fill="#D95319"/>
<circle cx="129.9" cy="432.56" r="1.5" fill="#D95319"/>
<line x1="30.1" y1="416.32" x2="80" y2="427.39" stroke="#EDB120" stroke-width="1.3" stroke-dasharray="2.4 2.1" stroke-dashoffset="0"/>
<line x1="80" y1="427.39" x2="129.9" y2="432.84" stroke="#EDB120" stroke-width="1.3" stroke-dasharray="2.4 2.1" stroke-dashoffset="1.61"/>
<circle cx="30.1" cy="416.32" r="1.5" fill="#EDB120"/>
<circle cx="80" cy="427.39" r="1.5" fill="#EDB120"/>
<circle cx="129.9" cy="432.84" r="1.5" fill="#EDB120"/>
<line x1="30.1" y1="416.6" x2="80" y2="427.68" stroke="#7E2F8E" stroke-width="1.3" stroke-dasharray="2.4 2.1" stroke-dashoffset="0"/>
<line x1="80" y1="427.68" x2="129.9" y2="433.02" stroke="#7E2F8E" stroke-width="1.3" stroke-dasharray="2.4 2.1" stroke-dashoffset="1.61"/>
<circle cx="30.1" cy="416.6" r="1.5" fill="#7E2F8E"/>
<circle cx="80" cy="427.68" r="1.5" fill="#7E2F8E"/>
<circle cx="129.9" cy="433.02" r="1.5" fill="#7E2F8E"/>
<line x1="30.1" y1="416.79" x2="80" y2="427.86" stroke="#77AC30" stroke-width="1.3" stroke-dasharray="2.4 2.1" stroke-dashoffset="0"/>
<line x1="80" y1="427.86" x2="129.9" y2="433.21" stroke="#77AC30" stroke-width="1.3" stroke-dasharray="2.4 2.1" stroke-dashoffset="1.61"/>
<circle cx="30.1" cy="416.79" r="1.5" fill="#77AC30"/>
<circle cx="80" cy="427.86" r="1.5" fill="#77AC30"/>
<circle cx="129.9" cy="433.21" r="1.5" fill="#77AC30"/>
<line x1="30.1" y1="416.98" x2="80" y2="428.05" stroke="#4DBEEE" stroke-width="1.3" stroke-dasharray="2.4 2.1" stroke-dashoffset="0"/>
<line x1="80" y1="428.05" x2="129.9" y2="433.31" stroke="#4DBEEE" stroke-width="1.3" stroke-dasharray="2.4 2.1" stroke-dashoffset="1.61"/>
<circle cx="30.1" cy="416.98" r="1.5" fill="#4DBEEE"/>
<circle cx="80" cy="428.05" r="1.5" fill="#4DBEEE"/>
<line x1="30.1" y1="417.17" x2="80" y2="428.24" stroke="#A2142F" stroke-width="1.3" stroke-dasharray="2.4 2.1" stroke-dashoffset="0"/>
<line x1="80" y1="428.24" x2="129.9" y2="433.31" stroke="#A2142F" stroke-width="1.3" stroke-dasharray="2.4 2.1" stroke-dashoffset="1.61"/>
<circle cx="30.1" cy="417.17" r="1.5" fill="#A2142F"/>
<circle cx="80" cy="428.24" r="1.5" fill="#A2142F"/>
<circle cx="129.9" cy="433.31" r="1.5" fill="#A2142F"/>
<line x1="30.1" y1="417.26" x2="80" y2="428.33" stroke="#0072BD" stroke-width="1.3" stroke-dasharray="2.4 2.1" stroke-dashoffset="0"/>
<line x1="80" y1="428.33" x2="129.9" y2="433.4" stroke="#0072BD" stroke-width="1.3" stroke-dasharray="2.4 2.1" stroke-dashoffset="1.61"/>
<circle cx="30.1" cy="417.26" r="1.5" fill="#0072BD"/>
<circle cx="80" cy="428.33" r="1.5" fill="#0072BD"/>
<line x1="30.1" y1="417.35" x2="80" y2="428.43" stroke="#D95319" stroke-width="1.3" stroke-dasharray="2.4 2.1" stroke-dashoffset="0"/>
<line x1="80" y1="428.43" x2="129.9" y2="433.4" stroke="#D95319" stroke-width="1.3" stroke-dasharray="2.4 2.1" stroke-dashoffset="1.61"/>
<circle cx="30.1" cy="417.35" r="1.5" fill="#D95319"/>
<circle cx="80" cy="428.43" r="1.5" fill="#D95319"/>
<line x1="30.1" y1="417.45" x2="80" y2="428.52" stroke="#EDB120" stroke-width="1.3" stroke-dasharray="2.4 2.1" stroke-dashoffset="0"/>
<line x1="80" y1="428.52" x2="129.9" y2="433.4" stroke="#EDB120" stroke-width="1.3" stroke-dasharray="2.4 2.1" stroke-dashoffset="1.61"/>
<circle cx="30.1" cy="417.45" r="1.5" fill="#EDB120"/>
<circle cx="80" cy="428.52" r="1.5" fill="#EDB120"/>
<line x1="30.1" y1="417.54" x2="80" y2="428.61" stroke="#7E2F8E" stroke-width="1.3" stroke-dasharray="2.4 2.1" stroke-dashoffset="0"/>
<line x1="80" y1="428.61" x2="129.9" y2="433.4" stroke="#7E2F8E" stroke-width="1.3" stroke-dasharray="2.4 2.1" stroke-dashoffset="1.61"/>
<circle cx="30.1" cy="417.54" r="1.5" fill="#7E2F8E"/>
<circle cx="80" cy="428.61" r="1.5" fill="#7E2F8E"/>
<line x1="30.1" y1="417.63" x2="80" y2="428.71" stroke="#77AC30" stroke-width="1.3" stroke-dasharray="2.4 2.1" stroke-dashoffset="0"/>
<line x1="80" y1="428.71" x2="129.9" y2="433.4" stroke="#77AC30" stroke-width="1.3" stroke-dasharray="2.4 2.1" stroke-dashoffset="1.61"/>
<circle cx="30.1" cy="417.63" r="1.5" fill="#77AC30"/>
<circle cx="80" cy="428.71" r="1.5" fill="#77AC30"/>
<line x1="30.1" y1="417.73" x2="80" y2="428.8" stroke="#4DBEEE" stroke-width="1.3" stroke-dasharray="2.4 2.1" stroke-dashoffset="0"/>
<line x1="80" y1="428.8" x2="129.9" y2="433.4" stroke="#4DBEEE" stroke-width="1.3" stroke-dasharray="2.4 2.1" stroke-dashoffset="1.61"/>
<circle cx="30.1" cy="417.73" r="1.5" fill="#4DBEEE"/>
<circle cx="80" cy="428.8" r="1.5" fill="#4DBEEE"/>
<circle cx="129.9" cy="433.4" r="1.5" fill="#4DBEEE"/>
<line x1="30.1" y1="377" x2="30.1" y2="433.8" stroke="#707070" stroke-width="0.9"/>
<line x1="29.7" y1="433.4" x2="129.9" y2="433.4" stroke="#707070" stroke-width="0.9"/>
<text x="27.9" y="429.99" font-size="7.5" text-anchor="end" fill="#404040" stroke="#404040" stroke-width="0.1">0.6</text>
<text x="27.9" y="411.23" font-size="7.5" text-anchor="end" fill="#404040" stroke="#404040" stroke-width="0.1">0.8</text>
<text x="27.9" y="392.46" font-size="7.5" text-anchor="end" fill="#404040" stroke="#404040" stroke-width="0.1">1</text>
<text x="30.1" y="442.4" font-size="7.5" text-anchor="middle" fill="#404040" stroke="#404040" stroke-width="0.1">1</text>
<text x="55.05" y="442.4" font-size="7.5" text-anchor="middle" fill="#404040" stroke="#404040" stroke-width="0.1">1.5</text>
<text x="80" y="442.4" font-size="7.5" text-anchor="middle" fill="#404040" stroke="#404040" stroke-width="0.1">2</text>
<text x="104.95" y="442.4" font-size="7.5" text-anchor="middle" fill="#404040" stroke="#404040" stroke-width="0.1">2.5</text>
<text x="129.9" y="442.4" font-size="7.5" text-anchor="middle" fill="#404040" stroke="#404040" stroke-width="0.1">3</text>
<text x="14.7" y="404.9" font-size="8.2" text-anchor="middle" fill="#5a5a5a" stroke="#5a5a5a" stroke-width="0.1" transform="rotate(-90 14.7 404.9)" textLength="36.5" lengthAdjust="spacingAndGlyphs">Power ratio</text>
<text x="80" y="452.2" font-size="9.2" text-anchor="middle" fill="#8c8c8c" stroke="#8c8c8c" stroke-width="0.1">#<tspan font-style="italic">C</tspan><tspan font-size="0.7em" font-style="italic" dy="1.2">in</tspan></text>
<text x="80" y="461.7" font-size="7.5" text-anchor="middle" fill="#1e1e1e" stroke="#1e1e1e" stroke-width="0.25" font-weight="bold" textLength="36" lengthAdjust="spacingAndGlyphs">Y-Z plane</text>
<line x1="154.5" y1="377" x2="154.5" y2="433.4" stroke="#dcdcdc" stroke-width="0.7"/>
<line x1="179.45" y1="377" x2="179.45" y2="433.4" stroke="#dcdcdc" stroke-width="0.7"/>
<line x1="204.4" y1="377" x2="204.4" y2="433.4" stroke="#dcdcdc" stroke-width="0.7"/>
<line x1="229.35" y1="377" x2="229.35" y2="433.4" stroke="#dcdcdc" stroke-width="0.7"/>
<line x1="254.3" y1="377" x2="254.3" y2="433.4" stroke="#dcdcdc" stroke-width="0.7"/>
<line x1="154.5" y1="421.05" x2="254.3" y2="421.05" stroke="#dcdcdc" stroke-width="0.7"/>
<line x1="154.5" y1="402.62" x2="254.3" y2="402.62" stroke="#dcdcdc" stroke-width="0.7"/>
<line x1="154.5" y1="384.19" x2="254.3" y2="384.19" stroke="#dcdcdc" stroke-width="0.7"/>
<line x1="154.5" y1="377" x2="204.4" y2="380.23" stroke="#0072BD" stroke-width="1.3" stroke-dasharray="2.4 2.1" stroke-dashoffset="0"/>
<line x1="204.4" y1="380.23" x2="254.3" y2="383.17" stroke="#0072BD" stroke-width="1.3" stroke-dasharray="2.4 2.1" stroke-dashoffset="0.5"/>
<circle cx="154.5" cy="377" r="1.5" fill="#0072BD"/>
<circle cx="204.4" cy="380.23" r="1.5" fill="#0072BD"/>
<circle cx="254.3" cy="383.17" r="1.5" fill="#0072BD"/>
<line x1="154.5" y1="381.7" x2="204.4" y2="387.51" stroke="#D95319" stroke-width="1.3" stroke-dasharray="2.4 2.1" stroke-dashoffset="0"/>
<line x1="204.4" y1="387.51" x2="254.3" y2="391.93" stroke="#D95319" stroke-width="1.3" stroke-dasharray="2.4 2.1" stroke-dashoffset="0.74"/>
<circle cx="154.5" cy="381.7" r="1.5" fill="#D95319"/>
<circle cx="204.4" cy="387.51" r="1.5" fill="#D95319"/>
<circle cx="254.3" cy="391.93" r="1.5" fill="#D95319"/>
<line x1="154.5" y1="387.78" x2="204.4" y2="395.06" stroke="#EDB120" stroke-width="1.3" stroke-dasharray="2.4 2.1" stroke-dashoffset="0"/>
<line x1="204.4" y1="395.06" x2="254.3" y2="399.85" stroke="#EDB120" stroke-width="1.3" stroke-dasharray="2.4 2.1" stroke-dashoffset="0.93"/>
<circle cx="154.5" cy="387.78" r="1.5" fill="#EDB120"/>
<circle cx="204.4" cy="395.06" r="1.5" fill="#EDB120"/>
<circle cx="254.3" cy="399.85" r="1.5" fill="#EDB120"/>
<line x1="154.5" y1="393.04" x2="204.4" y2="401.42" stroke="#7E2F8E" stroke-width="1.3" stroke-dasharray="2.4 2.1" stroke-dashoffset="0"/>
<line x1="204.4" y1="401.42" x2="254.3" y2="407.5" stroke="#7E2F8E" stroke-width="1.3" stroke-dasharray="2.4 2.1" stroke-dashoffset="1.1"/>
<circle cx="154.5" cy="393.04" r="1.5" fill="#7E2F8E"/>
<circle cx="204.4" cy="401.42" r="1.5" fill="#7E2F8E"/>
<circle cx="254.3" cy="407.5" r="1.5" fill="#7E2F8E"/>
<line x1="154.5" y1="398.1" x2="204.4" y2="407.32" stroke="#77AC30" stroke-width="1.3" stroke-dasharray="2.4 2.1" stroke-dashoffset="0"/>
<line x1="204.4" y1="407.32" x2="254.3" y2="413.77" stroke="#77AC30" stroke-width="1.3" stroke-dasharray="2.4 2.1" stroke-dashoffset="1.24"/>
<circle cx="154.5" cy="398.1" r="1.5" fill="#77AC30"/>
<circle cx="204.4" cy="407.32" r="1.5" fill="#77AC30"/>
<circle cx="254.3" cy="413.77" r="1.5" fill="#77AC30"/>
<line x1="154.5" y1="401.97" x2="204.4" y2="411.56" stroke="#4DBEEE" stroke-width="1.3" stroke-dasharray="2.4 2.1" stroke-dashoffset="0"/>
<line x1="204.4" y1="411.56" x2="254.3" y2="417.55" stroke="#4DBEEE" stroke-width="1.3" stroke-dasharray="2.4 2.1" stroke-dashoffset="1.31"/>
<circle cx="154.5" cy="401.97" r="1.5" fill="#4DBEEE"/>
<circle cx="204.4" cy="411.56" r="1.5" fill="#4DBEEE"/>
<circle cx="254.3" cy="417.55" r="1.5" fill="#4DBEEE"/>
<line x1="154.5" y1="405.02" x2="204.4" y2="415.25" stroke="#A2142F" stroke-width="1.3" stroke-dasharray="2.4 2.1" stroke-dashoffset="0"/>
<line x1="204.4" y1="415.25" x2="254.3" y2="421.33" stroke="#A2142F" stroke-width="1.3" stroke-dasharray="2.4 2.1" stroke-dashoffset="1.44"/>
<circle cx="154.5" cy="405.02" r="1.5" fill="#A2142F"/>
<circle cx="204.4" cy="415.25" r="1.5" fill="#A2142F"/>
<circle cx="254.3" cy="421.33" r="1.5" fill="#A2142F"/>
<line x1="154.5" y1="407.69" x2="204.4" y2="417.73" stroke="#0072BD" stroke-width="1.3" stroke-dasharray="2.4 2.1" stroke-dashoffset="0"/>
<line x1="204.4" y1="417.73" x2="254.3" y2="423.82" stroke="#0072BD" stroke-width="1.3" stroke-dasharray="2.4 2.1" stroke-dashoffset="1.4"/>
<circle cx="154.5" cy="407.69" r="1.5" fill="#0072BD"/>
<circle cx="204.4" cy="417.73" r="1.5" fill="#0072BD"/>
<circle cx="254.3" cy="423.82" r="1.5" fill="#0072BD"/>
<line x1="154.5" y1="409.81" x2="204.4" y2="420.04" stroke="#D95319" stroke-width="1.3" stroke-dasharray="2.4 2.1" stroke-dashoffset="0"/>
<line x1="204.4" y1="420.04" x2="254.3" y2="425.94" stroke="#D95319" stroke-width="1.3" stroke-dasharray="2.4 2.1" stroke-dashoffset="1.44"/>
<circle cx="154.5" cy="409.81" r="1.5" fill="#D95319"/>
<circle cx="204.4" cy="420.04" r="1.5" fill="#D95319"/>
<circle cx="254.3" cy="425.94" r="1.5" fill="#D95319"/>
<line x1="154.5" y1="411.65" x2="204.4" y2="421.97" stroke="#EDB120" stroke-width="1.3" stroke-dasharray="2.4 2.1" stroke-dashoffset="0"/>
<line x1="204.4" y1="421.97" x2="254.3" y2="427.78" stroke="#EDB120" stroke-width="1.3" stroke-dasharray="2.4 2.1" stroke-dashoffset="1.46"/>
<circle cx="154.5" cy="411.65" r="1.5" fill="#EDB120"/>
<circle cx="204.4" cy="421.97" r="1.5" fill="#EDB120"/>
<circle cx="254.3" cy="427.78" r="1.5" fill="#EDB120"/>
<line x1="154.5" y1="413.03" x2="204.4" y2="423.54" stroke="#7E2F8E" stroke-width="1.3" stroke-dasharray="2.4 2.1" stroke-dashoffset="0"/>
<line x1="204.4" y1="423.54" x2="254.3" y2="429.44" stroke="#7E2F8E" stroke-width="1.3" stroke-dasharray="2.4 2.1" stroke-dashoffset="1.49"/>
<circle cx="154.5" cy="413.03" r="1.5" fill="#7E2F8E"/>
<circle cx="204.4" cy="423.54" r="1.5" fill="#7E2F8E"/>
<circle cx="254.3" cy="429.44" r="1.5" fill="#7E2F8E"/>
<line x1="154.5" y1="414.32" x2="204.4" y2="424.65" stroke="#77AC30" stroke-width="1.3" stroke-dasharray="2.4 2.1" stroke-dashoffset="0"/>
<line x1="204.4" y1="424.65" x2="254.3" y2="430.64" stroke="#77AC30" stroke-width="1.3" stroke-dasharray="2.4 2.1" stroke-dashoffset="1.46"/>
<circle cx="154.5" cy="414.32" r="1.5" fill="#77AC30"/>
<circle cx="204.4" cy="424.65" r="1.5" fill="#77AC30"/>
<circle cx="254.3" cy="430.64" r="1.5" fill="#77AC30"/>
<line x1="154.5" y1="415.25" x2="204.4" y2="425.75" stroke="#4DBEEE" stroke-width="1.3" stroke-dasharray="2.4 2.1" stroke-dashoffset="0"/>
<line x1="204.4" y1="425.75" x2="254.3" y2="431.56" stroke="#4DBEEE" stroke-width="1.3" stroke-dasharray="2.4 2.1" stroke-dashoffset="1.49"/>
<circle cx="154.5" cy="415.25" r="1.5" fill="#4DBEEE"/>
<circle cx="204.4" cy="425.75" r="1.5" fill="#4DBEEE"/>
<circle cx="254.3" cy="431.56" r="1.5" fill="#4DBEEE"/>
<line x1="154.5" y1="415.8" x2="204.4" y2="426.58" stroke="#A2142F" stroke-width="1.3" stroke-dasharray="2.4 2.1" stroke-dashoffset="0"/>
<line x1="204.4" y1="426.58" x2="254.3" y2="432.2" stroke="#A2142F" stroke-width="1.3" stroke-dasharray="2.4 2.1" stroke-dashoffset="1.55"/>
<circle cx="154.5" cy="415.8" r="1.5" fill="#A2142F"/>
<circle cx="204.4" cy="426.58" r="1.5" fill="#A2142F"/>
<circle cx="254.3" cy="432.2" r="1.5" fill="#A2142F"/>
<line x1="154.5" y1="415.98" x2="204.4" y2="427.04" stroke="#0072BD" stroke-width="1.3" stroke-dasharray="2.4 2.1" stroke-dashoffset="0"/>
<line x1="204.4" y1="427.04" x2="254.3" y2="432.66" stroke="#0072BD" stroke-width="1.3" stroke-dasharray="2.4 2.1" stroke-dashoffset="1.61"/>
<circle cx="204.4" cy="427.04" r="1.5" fill="#0072BD"/>
<circle cx="254.3" cy="432.66" r="1.5" fill="#0072BD"/>
<line x1="204.4" y1="427.32" x2="254.3" y2="433.03" stroke="#D95319" stroke-width="1.3" stroke-dasharray="2.4 2.1" stroke-dashoffset="1.67"/>
<circle cx="254.3" cy="433.03" r="1.5" fill="#D95319"/>
<line x1="154.5" y1="415.98" x2="204.4" y2="427.32" stroke="#4DBEEE" stroke-width="1.3" stroke-dasharray="2.4 2.1" stroke-dashoffset="0"/>
<line x1="204.4" y1="427.32" x2="254.3" y2="433.4" stroke="#4DBEEE" stroke-width="1.3" stroke-dasharray="2.4 2.1" stroke-dashoffset="1.67"/>
<circle cx="154.5" cy="415.98" r="1.5" fill="#4DBEEE"/>
<circle cx="204.4" cy="427.32" r="1.5" fill="#4DBEEE"/>
<circle cx="254.3" cy="433.4" r="1.5" fill="#4DBEEE"/>
<line x1="154.5" y1="377" x2="154.5" y2="433.8" stroke="#707070" stroke-width="0.9"/>
<line x1="154.1" y1="433.4" x2="254.3" y2="433.4" stroke="#707070" stroke-width="0.9"/>
<text x="152.3" y="423.65" font-size="7.5" text-anchor="end" fill="#404040" stroke="#404040" stroke-width="0.1">0.6</text>
<text x="152.3" y="405.22" font-size="7.5" text-anchor="end" fill="#404040" stroke="#404040" stroke-width="0.1">0.8</text>
<text x="152.3" y="386.79" font-size="7.5" text-anchor="end" fill="#404040" stroke="#404040" stroke-width="0.1">1</text>
<text x="154.5" y="442.4" font-size="7.5" text-anchor="middle" fill="#404040" stroke="#404040" stroke-width="0.1">1</text>
<text x="179.45" y="442.4" font-size="7.5" text-anchor="middle" fill="#404040" stroke="#404040" stroke-width="0.1">1.5</text>
<text x="204.4" y="442.4" font-size="7.5" text-anchor="middle" fill="#404040" stroke="#404040" stroke-width="0.1">2</text>
<text x="229.35" y="442.4" font-size="7.5" text-anchor="middle" fill="#404040" stroke="#404040" stroke-width="0.1">2.5</text>
<text x="254.3" y="442.4" font-size="7.5" text-anchor="middle" fill="#404040" stroke="#404040" stroke-width="0.1">3</text>
<text x="138" y="404.8" font-size="8.2" text-anchor="middle" fill="#5a5a5a" stroke="#5a5a5a" stroke-width="0.1" transform="rotate(-90 138 404.8)" textLength="32.5" lengthAdjust="spacingAndGlyphs">Area ratio</text>
<text x="204.4" y="452.2" font-size="9.2" text-anchor="middle" fill="#8c8c8c" stroke="#8c8c8c" stroke-width="0.1">#<tspan font-style="italic">C</tspan><tspan font-size="0.7em" font-style="italic" dy="1.2">in</tspan></text>
<text x="204.4" y="461.7" font-size="7.5" text-anchor="middle" fill="#1e1e1e" stroke="#1e1e1e" stroke-width="0.25" font-weight="bold" textLength="36" lengthAdjust="spacingAndGlyphs">Y-Z plane</text>
<line x1="283.4" y1="377" x2="283.4" y2="433.4" stroke="#dcdcdc" stroke-width="0.7"/>
<line x1="308.35" y1="377" x2="308.35" y2="433.4" stroke="#dcdcdc" stroke-width="0.7"/>
<line x1="333.3" y1="377" x2="333.3" y2="433.4" stroke="#dcdcdc" stroke-width="0.7"/>
<line x1="358.25" y1="377" x2="358.25" y2="433.4" stroke="#dcdcdc" stroke-width="0.7"/>
<line x1="383.2" y1="377" x2="383.2" y2="433.4" stroke="#dcdcdc" stroke-width="0.7"/>
<line x1="283.4" y1="419.26" x2="383.2" y2="419.26" stroke="#dcdcdc" stroke-width="0.7"/>
<line x1="283.4" y1="404.84" x2="383.2" y2="404.84" stroke="#dcdcdc" stroke-width="0.7"/>
<line x1="283.4" y1="390.41" x2="383.2" y2="390.41" stroke="#dcdcdc" stroke-width="0.7"/>
<line x1="333.3" y1="412.34" x2="383.2" y2="408.73" stroke="#77AC30" stroke-width="1.3" stroke-dasharray="2.4 2.1" stroke-dashoffset="0.4"/>
<circle cx="383.2" cy="408.73" r="1.5" fill="#77AC30"/>
<line x1="283.4" y1="412.34" x2="333.3" y2="408.73" stroke="#A2142F" stroke-width="1.3" stroke-dasharray="2.4 2.1" stroke-dashoffset="0"/>
<line x1="333.3" y1="408.73" x2="383.2" y2="377" stroke="#A2142F" stroke-width="1.3" stroke-dasharray="2.4 2.1" stroke-dashoffset="0.53"/>
<circle cx="333.3" cy="408.73" r="1.5" fill="#A2142F"/>
<line x1="283.4" y1="412.34" x2="333.3" y2="377" stroke="#D95319" stroke-width="1.3" stroke-dasharray="2.4 2.1" stroke-dashoffset="0"/>
<line x1="333.3" y1="377" x2="383.2" y2="377" stroke="#D95319" stroke-width="1.3" stroke-dasharray="2.4 2.1" stroke-dashoffset="2.65"/>
<circle cx="333.3" cy="377" r="1.5" fill="#D95319"/>
<circle cx="383.2" cy="377" r="1.5" fill="#D95319"/>
<line x1="283.4" y1="433.4" x2="333.3" y2="433.4" stroke="#7E2F8E" stroke-width="1.3" stroke-dasharray="2.4 2.1" stroke-dashoffset="0"/>
<line x1="333.3" y1="433.4" x2="383.2" y2="433.4" stroke="#7E2F8E" stroke-width="1.3" stroke-dasharray="2.4 2.1" stroke-dashoffset="0.4"/>
<circle cx="283.4" cy="433.4" r="1.5" fill="#7E2F8E"/>
<circle cx="333.3" cy="433.4" r="1.5" fill="#7E2F8E"/>
<circle cx="383.2" cy="433.4" r="1.5" fill="#7E2F8E"/>
<line x1="283.4" y1="412.34" x2="333.3" y2="412.34" stroke="#4DBEEE" stroke-width="1.3" stroke-dasharray="2.4 2.1" stroke-dashoffset="0"/>
<line x1="333.3" y1="412.34" x2="383.2" y2="412.34" stroke="#4DBEEE" stroke-width="1.3" stroke-dasharray="2.4 2.1" stroke-dashoffset="0.4"/>
<circle cx="283.4" cy="412.34" r="1.5" fill="#4DBEEE"/>
<circle cx="333.3" cy="412.34" r="1.5" fill="#4DBEEE"/>
<circle cx="383.2" cy="412.34" r="1.5" fill="#4DBEEE"/>
<line x1="283.4" y1="377" x2="283.4" y2="433.8" stroke="#707070" stroke-width="0.9"/>
<line x1="283" y1="433.4" x2="383.2" y2="433.4" stroke="#707070" stroke-width="0.9"/>
<text x="281.2" y="421.86" font-size="7.5" text-anchor="end" fill="#404040" stroke="#404040" stroke-width="0.1">1</text>
<text x="281.2" y="407.44" font-size="7.5" text-anchor="end" fill="#404040" stroke="#404040" stroke-width="0.1">1.01</text>
<text x="281.2" y="393.01" font-size="7.5" text-anchor="end" fill="#404040" stroke="#404040" stroke-width="0.1">1.02</text>
<text x="283.4" y="442.4" font-size="7.5" text-anchor="middle" fill="#404040" stroke="#404040" stroke-width="0.1">1</text>
<text x="308.35" y="442.4" font-size="7.5" text-anchor="middle" fill="#404040" stroke="#404040" stroke-width="0.1">1.5</text>
<text x="333.3" y="442.4" font-size="7.5" text-anchor="middle" fill="#404040" stroke="#404040" stroke-width="0.1">2</text>
<text x="358.25" y="442.4" font-size="7.5" text-anchor="middle" fill="#404040" stroke="#404040" stroke-width="0.1">2.5</text>
<text x="383.2" y="442.4" font-size="7.5" text-anchor="middle" fill="#404040" stroke="#404040" stroke-width="0.1">3</text>
<text x="263.2" y="404.9" font-size="8.2" text-anchor="middle" fill="#5a5a5a" stroke="#5a5a5a" stroke-width="0.1" transform="rotate(-90 263.2 404.9)" textLength="48.5" lengthAdjust="spacingAndGlyphs">CP Delay ratio</text>
<text x="333.3" y="452.2" font-size="9.2" text-anchor="middle" fill="#8c8c8c" stroke="#8c8c8c" stroke-width="0.1">#<tspan font-style="italic">C</tspan><tspan font-size="0.7em" font-style="italic" dy="1.2">in</tspan></text>
<text x="333.3" y="461.7" font-size="7.5" text-anchor="middle" fill="#1e1e1e" stroke="#1e1e1e" stroke-width="0.25" font-weight="bold" textLength="36" lengthAdjust="spacingAndGlyphs">Y-Z plane</text>
<line x1="61.05" y1="469" x2="61.05" y2="526.2" stroke="#dcdcdc" stroke-width="0.7"/>
<line x1="99.35" y1="469" x2="99.35" y2="526.2" stroke="#dcdcdc" stroke-width="0.7"/>
<line x1="30.4" y1="520.11" x2="130" y2="520.11" stroke="#dcdcdc" stroke-width="0.7"/>
<line x1="30.4" y1="501.07" x2="130" y2="501.07" stroke="#dcdcdc" stroke-width="0.7"/>
<line x1="30.4" y1="482.04" x2="130" y2="482.04" stroke="#dcdcdc" stroke-width="0.7"/>
<line x1="30.4" y1="469.1" x2="34.23" y2="475.66" stroke="#0072BD" stroke-width="1.3" stroke-dasharray="2.4 2.1" stroke-dashoffset="0"/>
<line x1="34.23" y1="475.66" x2="38.06" y2="482.04" stroke="#0072BD" stroke-width="1.3" stroke-dasharray="2.4 2.1" stroke-dashoffset="3.1"/>
<line x1="38.06" y1="482.04" x2="41.89" y2="487.94" stroke="#0072BD" stroke-width="1.3" stroke-dasharray="2.4 2.1" stroke-dashoffset="1.54"/>
<line x1="41.89" y1="487.94" x2="45.72" y2="492.22" stroke="#0072BD" stroke-width="1.3" stroke-dasharray="2.4 2.1" stroke-dashoffset="4.08"/>
<line x1="45.72" y1="492.22" x2="49.55" y2="496.03" stroke="#0072BD" stroke-width="1.3" stroke-dasharray="2.4 2.1" stroke-dashoffset="0.82"/>
<line x1="49.55" y1="496.03" x2="53.38" y2="498.69" stroke="#0072BD" stroke-width="1.3" stroke-dasharray="2.4 2.1" stroke-dashoffset="1.72"/>
<line x1="53.38" y1="498.69" x2="57.22" y2="500.98" stroke="#0072BD" stroke-width="1.3" stroke-dasharray="2.4 2.1" stroke-dashoffset="1.89"/>
<line x1="57.22" y1="500.98" x2="61.05" y2="502.88" stroke="#0072BD" stroke-width="1.3" stroke-dasharray="2.4 2.1" stroke-dashoffset="1.85"/>
<line x1="61.05" y1="502.88" x2="64.88" y2="504.31" stroke="#0072BD" stroke-width="1.3" stroke-dasharray="2.4 2.1" stroke-dashoffset="1.63"/>
<line x1="64.88" y1="504.31" x2="68.71" y2="505.36" stroke="#0072BD" stroke-width="1.3" stroke-dasharray="2.4 2.1" stroke-dashoffset="1.22"/>
<line x1="68.71" y1="505.36" x2="72.54" y2="506.31" stroke="#0072BD" stroke-width="1.3" stroke-dasharray="2.4 2.1" stroke-dashoffset="0.69"/>
<line x1="72.54" y1="506.31" x2="76.37" y2="507.07" stroke="#0072BD" stroke-width="1.3" stroke-dasharray="2.4 2.1" stroke-dashoffset="0.13"/>
<line x1="76.37" y1="507.07" x2="80.2" y2="507.74" stroke="#0072BD" stroke-width="1.3" stroke-dasharray="2.4 2.1" stroke-dashoffset="4.04"/>
<line x1="80.2" y1="507.74" x2="84.03" y2="508.21" stroke="#0072BD" stroke-width="1.3" stroke-dasharray="2.4 2.1" stroke-dashoffset="3.43"/>
<line x1="84.03" y1="508.21" x2="87.86" y2="508.59" stroke="#0072BD" stroke-width="1.3" stroke-dasharray="2.4 2.1" stroke-dashoffset="2.79"/>
<line x1="87.86" y1="508.59" x2="91.69" y2="508.88" stroke="#0072BD" stroke-width="1.3" stroke-dasharray="2.4 2.1" stroke-dashoffset="2.14"/>
<line x1="91.69" y1="508.88" x2="95.52" y2="509.16" stroke="#0072BD" stroke-width="1.3" stroke-dasharray="2.4 2.1" stroke-dashoffset="1.48"/>
<line x1="95.52" y1="509.16" x2="99.35" y2="509.35" stroke="#0072BD" stroke-width="1.3" stroke-dasharray="2.4 2.1" stroke-dashoffset="0.82"/>
<line x1="99.35" y1="509.35" x2="103.18" y2="509.54" stroke="#0072BD" stroke-width="1.3" stroke-dasharray="2.4 2.1" stroke-dashoffset="0.16"/>
<line x1="103.18" y1="509.54" x2="107.02" y2="509.73" stroke="#0072BD" stroke-width="1.3" stroke-dasharray="2.4 2.1" stroke-dashoffset="3.99"/>
<line x1="107.02" y1="509.73" x2="110.85" y2="509.83" stroke="#0072BD" stroke-width="1.3" stroke-dasharray="2.4 2.1" stroke-dashoffset="3.33"/>
<line x1="110.85" y1="509.83" x2="114.68" y2="509.93" stroke="#0072BD" stroke-width="1.3" stroke-dasharray="2.4 2.1" stroke-dashoffset="2.66"/>
<line x1="114.68" y1="509.93" x2="118.51" y2="510.02" stroke="#0072BD" stroke-width="1.3" stroke-dasharray="2.4 2.1" stroke-dashoffset="1.99"/>
<line x1="118.51" y1="510.02" x2="122.34" y2="510.12" stroke="#0072BD" stroke-width="1.3" stroke-dasharray="2.4 2.1" stroke-dashoffset="1.32"/>
<line x1="122.34" y1="510.12" x2="126.17" y2="510.21" stroke="#0072BD" stroke-width="1.3" stroke-dasharray="2.4 2.1" stroke-dashoffset="0.66"/>
<line x1="126.17" y1="510.21" x2="130" y2="510.31" stroke="#0072BD" stroke-width="1.3" stroke-dasharray="2.4 2.1" stroke-dashoffset="4.49"/>
<circle cx="30.4" cy="469.1" r="1.5" fill="#0072BD"/>
<circle cx="34.23" cy="475.66" r="1.5" fill="#0072BD"/>
<circle cx="38.06" cy="482.04" r="1.5" fill="#0072BD"/>
<circle cx="41.89" cy="487.94" r="1.5" fill="#0072BD"/>
<circle cx="45.72" cy="492.22" r="1.5" fill="#0072BD"/>
<circle cx="49.55" cy="496.03" r="1.5" fill="#0072BD"/>
<circle cx="53.38" cy="498.69" r="1.5" fill="#0072BD"/>
<circle cx="57.22" cy="500.98" r="1.5" fill="#0072BD"/>
<circle cx="61.05" cy="502.88" r="1.5" fill="#0072BD"/>
<circle cx="64.88" cy="504.31" r="1.5" fill="#0072BD"/>
<circle cx="68.71" cy="505.36" r="1.5" fill="#0072BD"/>
<circle cx="72.54" cy="506.31" r="1.5" fill="#0072BD"/>
<circle cx="76.37" cy="507.07" r="1.5" fill="#0072BD"/>
<circle cx="80.2" cy="507.74" r="1.5" fill="#0072BD"/>
<circle cx="84.03" cy="508.21" r="1.5" fill="#0072BD"/>
<circle cx="87.86" cy="508.59" r="1.5" fill="#0072BD"/>
<circle cx="91.69" cy="508.88" r="1.5" fill="#0072BD"/>
<circle cx="95.52" cy="509.16" r="1.5" fill="#0072BD"/>
<circle cx="99.35" cy="509.35" r="1.5" fill="#0072BD"/>
<circle cx="103.18" cy="509.54" r="1.5" fill="#0072BD"/>
<circle cx="107.02" cy="509.73" r="1.5" fill="#0072BD"/>
<circle cx="110.85" cy="509.83" r="1.5" fill="#0072BD"/>
<circle cx="114.68" cy="509.93" r="1.5" fill="#0072BD"/>
<circle cx="118.51" cy="510.02" r="1.5" fill="#0072BD"/>
<circle cx="122.34" cy="510.12" r="1.5" fill="#0072BD"/>
<circle cx="126.17" cy="510.21" r="1.5" fill="#0072BD"/>
<circle cx="130" cy="510.31" r="1.5" fill="#0072BD"/>
<line x1="30.4" y1="475" x2="34.23" y2="483.18" stroke="#D95319" stroke-width="1.3" stroke-dasharray="2.4 2.1" stroke-dashoffset="0"/>
<line x1="34.23" y1="483.18" x2="38.06" y2="491.08" stroke="#D95319" stroke-width="1.3" stroke-dasharray="2.4 2.1" stroke-dashoffset="0.04"/>
<line x1="38.06" y1="491.08" x2="41.89" y2="497.65" stroke="#D95319" stroke-width="1.3" stroke-dasharray="2.4 2.1" stroke-dashoffset="4.32"/>
<line x1="41.89" y1="497.65" x2="45.72" y2="502.5" stroke="#D95319" stroke-width="1.3" stroke-dasharray="2.4 2.1" stroke-dashoffset="2.92"/>
<line x1="45.72" y1="502.5" x2="49.55" y2="506.5" stroke="#D95319" stroke-width="1.3" stroke-dasharray="2.4 2.1" stroke-dashoffset="0.1"/>
<line x1="49.55" y1="506.5" x2="53.38" y2="509.26" stroke="#D95319" stroke-width="1.3" stroke-dasharray="2.4 2.1" stroke-dashoffset="1.14"/>
<line x1="53.38" y1="509.26" x2="57.22" y2="511.83" stroke="#D95319" stroke-width="1.3" stroke-dasharray="2.4 2.1" stroke-dashoffset="1.36"/>
<line x1="57.22" y1="511.83" x2="61.05" y2="514.02" stroke="#D95319" stroke-width="1.3" stroke-dasharray="2.4 2.1" stroke-dashoffset="1.47"/>
<line x1="61.05" y1="514.02" x2="64.88" y2="515.45" stroke="#D95319" stroke-width="1.3" stroke-dasharray="2.4 2.1" stroke-dashoffset="1.39"/>
<line x1="64.88" y1="515.45" x2="68.71" y2="516.68" stroke="#D95319" stroke-width="1.3" stroke-dasharray="2.4 2.1" stroke-dashoffset="0.97"/>
<line x1="68.71" y1="516.68" x2="72.54" y2="517.44" stroke="#D95319" stroke-width="1.3" stroke-dasharray="2.4 2.1" stroke-dashoffset="0.5"/>
<line x1="72.54" y1="517.44" x2="76.37" y2="518.21" stroke="#D95319" stroke-width="1.3" stroke-dasharray="2.4 2.1" stroke-dashoffset="4.41"/>
<line x1="76.37" y1="518.21" x2="80.2" y2="518.87" stroke="#D95319" stroke-width="1.3" stroke-dasharray="2.4 2.1" stroke-dashoffset="3.81"/>
<line x1="80.2" y1="518.87" x2="84.03" y2="519.35" stroke="#D95319" stroke-width="1.3" stroke-dasharray="2.4 2.1" stroke-dashoffset="3.2"/>
<line x1="84.03" y1="519.35" x2="87.86" y2="519.73" stroke="#D95319" stroke-width="1.3" stroke-dasharray="2.4 2.1" stroke-dashoffset="2.56"/>
<line x1="87.86" y1="519.73" x2="91.69" y2="520.11" stroke="#D95319" stroke-width="1.3" stroke-dasharray="2.4 2.1" stroke-dashoffset="1.91"/>
<line x1="91.69" y1="520.11" x2="95.52" y2="520.39" stroke="#D95319" stroke-width="1.3" stroke-dasharray="2.4 2.1" stroke-dashoffset="1.26"/>
<line x1="95.52" y1="520.39" x2="99.35" y2="520.58" stroke="#D95319" stroke-width="1.3" stroke-dasharray="2.4 2.1" stroke-dashoffset="0.6"/>
<line x1="99.35" y1="520.58" x2="103.18" y2="520.78" stroke="#D95319" stroke-width="1.3" stroke-dasharray="2.4 2.1" stroke-dashoffset="4.44"/>
<line x1="103.18" y1="520.78" x2="107.02" y2="520.97" stroke="#D95319" stroke-width="1.3" stroke-dasharray="2.4 2.1" stroke-dashoffset="3.77"/>
<line x1="107.02" y1="520.97" x2="110.85" y2="521.06" stroke="#D95319" stroke-width="1.3" stroke-dasharray="2.4 2.1" stroke-dashoffset="3.11"/>
<line x1="110.85" y1="521.06" x2="114.68" y2="521.16" stroke="#D95319" stroke-width="1.3" stroke-dasharray="2.4 2.1" stroke-dashoffset="2.44"/>
<line x1="114.68" y1="521.16" x2="118.51" y2="521.25" stroke="#D95319" stroke-width="1.3" stroke-dasharray="2.4 2.1" stroke-dashoffset="1.77"/>
<line x1="118.51" y1="521.25" x2="122.34" y2="521.35" stroke="#D95319" stroke-width="1.3" stroke-dasharray="2.4 2.1" stroke-dashoffset="1.1"/>
<line x1="122.34" y1="521.35" x2="126.17" y2="521.44" stroke="#D95319" stroke-width="1.3" stroke-dasharray="2.4 2.1" stroke-dashoffset="0.43"/>
<line x1="126.17" y1="521.44" x2="130" y2="521.54" stroke="#D95319" stroke-width="1.3" stroke-dasharray="2.4 2.1" stroke-dashoffset="4.27"/>
<circle cx="30.4" cy="475" r="1.5" fill="#D95319"/>
<circle cx="34.23" cy="483.18" r="1.5" fill="#D95319"/>
<circle cx="38.06" cy="491.08" r="1.5" fill="#D95319"/>
<circle cx="41.89" cy="497.65" r="1.5" fill="#D95319"/>
<circle cx="45.72" cy="502.5" r="1.5" fill="#D95319"/>
<circle cx="49.55" cy="506.5" r="1.5" fill="#D95319"/>
<circle cx="53.38" cy="509.26" r="1.5" fill="#D95319"/>
<circle cx="57.22" cy="511.83" r="1.5" fill="#D95319"/>
<circle cx="61.05" cy="514.02" r="1.5" fill="#D95319"/>
<circle cx="64.88" cy="515.45" r="1.5" fill="#D95319"/>
<circle cx="68.71" cy="516.68" r="1.5" fill="#D95319"/>
<circle cx="72.54" cy="517.44" r="1.5" fill="#D95319"/>
<circle cx="76.37" cy="518.21" r="1.5" fill="#D95319"/>
<circle cx="80.2" cy="518.87" r="1.5" fill="#D95319"/>
<circle cx="84.03" cy="519.35" r="1.5" fill="#D95319"/>
<circle cx="87.86" cy="519.73" r="1.5" fill="#D95319"/>
<circle cx="91.69" cy="520.11" r="1.5" fill="#D95319"/>
<circle cx="95.52" cy="520.39" r="1.5" fill="#D95319"/>
<circle cx="99.35" cy="520.58" r="1.5" fill="#D95319"/>
<circle cx="103.18" cy="520.78" r="1.5" fill="#D95319"/>
<circle cx="107.02" cy="520.97" r="1.5" fill="#D95319"/>
<circle cx="110.85" cy="521.06" r="1.5" fill="#D95319"/>
<circle cx="114.68" cy="521.16" r="1.5" fill="#D95319"/>
<circle cx="118.51" cy="521.25" r="1.5" fill="#D95319"/>
<circle cx="122.34" cy="521.35" r="1.5" fill="#D95319"/>
<circle cx="126.17" cy="521.44" r="1.5" fill="#D95319"/>
<circle cx="130" cy="521.54" r="1.5" fill="#D95319"/>
<line x1="30.4" y1="478.42" x2="34.23" y2="488.03" stroke="#EDB120" stroke-width="1.3" stroke-dasharray="2.4 2.1" stroke-dashoffset="0"/>
<line x1="34.23" y1="488.03" x2="38.06" y2="496.32" stroke="#EDB120" stroke-width="1.3" stroke-dasharray="2.4 2.1" stroke-dashoffset="1.35"/>
<line x1="38.06" y1="496.32" x2="41.89" y2="503.36" stroke="#EDB120" stroke-width="1.3" stroke-dasharray="2.4 2.1" stroke-dashoffset="1.47"/>
<line x1="41.89" y1="503.36" x2="45.72" y2="508.5" stroke="#EDB120" stroke-width="1.3" stroke-dasharray="2.4 2.1" stroke-dashoffset="0.49"/>
<line x1="45.72" y1="508.5" x2="49.55" y2="512.59" stroke="#EDB120" stroke-width="1.3" stroke-dasharray="2.4 2.1" stroke-dashoffset="2.4"/>
<line x1="49.55" y1="512.59" x2="53.38" y2="515.35" stroke="#EDB120" stroke-width="1.3" stroke-dasharray="2.4 2.1" stroke-dashoffset="3.5"/>
<line x1="53.38" y1="515.35" x2="57.22" y2="518.01" stroke="#EDB120" stroke-width="1.3" stroke-dasharray="2.4 2.1" stroke-dashoffset="3.73"/>
<line x1="57.22" y1="518.01" x2="61.05" y2="519.92" stroke="#EDB120" stroke-width="1.3" stroke-dasharray="2.4 2.1" stroke-dashoffset="3.89"/>
<line x1="61.05" y1="519.92" x2="64.88" y2="521.16" stroke="#EDB120" stroke-width="1.3" stroke-dasharray="2.4 2.1" stroke-dashoffset="3.67"/>
<line x1="64.88" y1="521.16" x2="68.71" y2="522.3" stroke="#EDB120" stroke-width="1.3" stroke-dasharray="2.4 2.1" stroke-dashoffset="3.2"/>
<line x1="68.71" y1="522.3" x2="72.54" y2="523.15" stroke="#EDB120" stroke-width="1.3" stroke-dasharray="2.4 2.1" stroke-dashoffset="2.69"/>
<line x1="72.54" y1="523.15" x2="76.37" y2="523.92" stroke="#EDB120" stroke-width="1.3" stroke-dasharray="2.4 2.1" stroke-dashoffset="2.12"/>
<line x1="76.37" y1="523.92" x2="80.2" y2="524.58" stroke="#EDB120" stroke-width="1.3" stroke-dasharray="2.4 2.1" stroke-dashoffset="1.52"/>
<line x1="80.2" y1="524.58" x2="84.03" y2="524.96" stroke="#EDB120" stroke-width="1.3" stroke-dasharray="2.4 2.1" stroke-dashoffset="0.91"/>
<line x1="84.03" y1="524.96" x2="87.86" y2="525.34" stroke="#EDB120" stroke-width="1.3" stroke-dasharray="2.4 2.1" stroke-dashoffset="0.26"/>
<line x1="87.86" y1="525.34" x2="91.69" y2="525.63" stroke="#EDB120" stroke-width="1.3" stroke-dasharray="2.4 2.1" stroke-dashoffset="4.11"/>
<line x1="91.69" y1="525.63" x2="95.52" y2="525.82" stroke="#EDB120" stroke-width="1.3" stroke-dasharray="2.4 2.1" stroke-dashoffset="3.45"/>
<line x1="95.52" y1="525.82" x2="99.35" y2="526.01" stroke="#EDB120" stroke-width="1.3" stroke-dasharray="2.4 2.1" stroke-dashoffset="2.79"/>
<line x1="99.35" y1="526.01" x2="103.18" y2="526.1" stroke="#EDB120" stroke-width="1.3" stroke-dasharray="2.4 2.1" stroke-dashoffset="2.12"/>
<line x1="103.18" y1="526.1" x2="107.02" y2="526.1" stroke="#EDB120" stroke-width="1.3" stroke-dasharray="2.4 2.1" stroke-dashoffset="1.46"/>
<line x1="107.02" y1="526.1" x2="110.85" y2="526.2" stroke="#EDB120" stroke-width="1.3" stroke-dasharray="2.4 2.1" stroke-dashoffset="0.79"/>
<line x1="110.85" y1="526.2" x2="114.68" y2="526.2" stroke="#EDB120" stroke-width="1.3" stroke-dasharray="2.4 2.1" stroke-dashoffset="0.12"/>
<line x1="114.68" y1="526.2" x2="118.51" y2="526.2" stroke="#EDB120" stroke-width="1.3" stroke-dasharray="2.4 2.1" stroke-dashoffset="3.95"/>
<line x1="118.51" y1="526.2" x2="122.34" y2="526.2" stroke="#EDB120" stroke-width="1.3" stroke-dasharray="2.4 2.1" stroke-dashoffset="3.28"/>
<line x1="122.34" y1="526.2" x2="126.17" y2="526.2" stroke="#EDB120" stroke-width="1.3" stroke-dasharray="2.4 2.1" stroke-dashoffset="2.61"/>
<line x1="126.17" y1="526.2" x2="130" y2="526.2" stroke="#EDB120" stroke-width="1.3" stroke-dasharray="2.4 2.1" stroke-dashoffset="1.94"/>
<circle cx="30.4" cy="478.42" r="1.5" fill="#EDB120"/>
<circle cx="34.23" cy="488.03" r="1.5" fill="#EDB120"/>
<circle cx="38.06" cy="496.32" r="1.5" fill="#EDB120"/>
<circle cx="41.89" cy="503.36" r="1.5" fill="#EDB120"/>
<circle cx="45.72" cy="508.5" r="1.5" fill="#EDB120"/>
<circle cx="49.55" cy="512.59" r="1.5" fill="#EDB120"/>
<circle cx="53.38" cy="515.35" r="1.5" fill="#EDB120"/>
<circle cx="57.22" cy="518.01" r="1.5" fill="#EDB120"/>
<circle cx="61.05" cy="519.92" r="1.5" fill="#EDB120"/>
<circle cx="64.88" cy="521.16" r="1.5" fill="#EDB120"/>
<circle cx="68.71" cy="522.3" r="1.5" fill="#EDB120"/>
<circle cx="72.54" cy="523.15" r="1.5" fill="#EDB120"/>
<circle cx="76.37" cy="523.92" r="1.5" fill="#EDB120"/>
<circle cx="80.2" cy="524.58" r="1.5" fill="#EDB120"/>
<circle cx="84.03" cy="524.96" r="1.5" fill="#EDB120"/>
<circle cx="87.86" cy="525.34" r="1.5" fill="#EDB120"/>
<circle cx="91.69" cy="525.63" r="1.5" fill="#EDB120"/>
<circle cx="95.52" cy="525.82" r="1.5" fill="#EDB120"/>
<circle cx="99.35" cy="526.01" r="1.5" fill="#EDB120"/>
<circle cx="103.18" cy="526.1" r="1.5" fill="#EDB120"/>
<circle cx="107.02" cy="526.1" r="1.5" fill="#EDB120"/>
<circle cx="110.85" cy="526.2" r="1.5" fill="#EDB120"/>
<circle cx="114.68" cy="526.2" r="1.5" fill="#EDB120"/>
<circle cx="118.51" cy="526.2" r="1.5" fill="#EDB120"/>
<circle cx="122.34" cy="526.2" r="1.5" fill="#EDB120"/>
<circle cx="126.17" cy="526.2" r="1.5" fill="#EDB120"/>
<circle cx="130" cy="526.2" r="1.5" fill="#EDB120"/>
<line x1="30.4" y1="469" x2="30.4" y2="526.6" stroke="#707070" stroke-width="0.9"/>
<line x1="30" y1="526.2" x2="130" y2="526.2" stroke="#707070" stroke-width="0.9"/>
<text x="28.2" y="522.71" font-size="7.5" text-anchor="end" fill="#404040" stroke="#404040" stroke-width="0.1">0.6</text>
<text x="28.2" y="503.67" font-size="7.5" text-anchor="end" fill="#404040" stroke="#404040" stroke-width="0.1">0.8</text>
<text x="28.2" y="484.64" font-size="7.5" text-anchor="end" fill="#404040" stroke="#404040" stroke-width="0.1">1</text>
<text x="61.05" y="534.2" font-size="7.5" text-anchor="middle" fill="#404040" stroke="#404040" stroke-width="0.1">10</text>
<text x="99.35" y="534.2" font-size="7.5" text-anchor="middle" fill="#404040" stroke="#404040" stroke-width="0.1">20</text>
<text x="14.6" y="497.3" font-size="8.2" text-anchor="middle" fill="#5a5a5a" stroke="#5a5a5a" stroke-width="0.1" transform="rotate(-90 14.6 497.3)" textLength="36.5" lengthAdjust="spacingAndGlyphs">Power ratio</text>
<text x="80.2" y="544.5" font-size="8.6" text-anchor="middle" fill="#8c8c8c" stroke="#8c8c8c" stroke-width="0.1"><tspan font-style="normal">&#8730;</tspan><tspan font-style="italic" text-decoration="overline">H</tspan><tspan font-style="italic"> size</tspan></text>
<line x1="185.15" y1="469" x2="185.15" y2="526.2" stroke="#dcdcdc" stroke-width="0.7"/>
<line x1="223.45" y1="469" x2="223.45" y2="526.2" stroke="#dcdcdc" stroke-width="0.7"/>
<line x1="154.5" y1="513.68" x2="254.1" y2="513.68" stroke="#dcdcdc" stroke-width="0.7"/>
<line x1="154.5" y1="494.98" x2="254.1" y2="494.98" stroke="#dcdcdc" stroke-width="0.7"/>
<line x1="154.5" y1="476.29" x2="254.1" y2="476.29" stroke="#dcdcdc" stroke-width="0.7"/>
<line x1="154.5" y1="469" x2="158.33" y2="473.77" stroke="#0072BD" stroke-width="1.3" stroke-dasharray="2.4 2.1" stroke-dashoffset="0"/>
<line x1="158.33" y1="473.77" x2="162.16" y2="479.94" stroke="#0072BD" stroke-width="1.3" stroke-dasharray="2.4 2.1" stroke-dashoffset="1.62"/>
<line x1="162.16" y1="479.94" x2="165.99" y2="485.26" stroke="#0072BD" stroke-width="1.3" stroke-dasharray="2.4 2.1" stroke-dashoffset="4.38"/>
<line x1="165.99" y1="485.26" x2="169.82" y2="490.4" stroke="#0072BD" stroke-width="1.3" stroke-dasharray="2.4 2.1" stroke-dashoffset="1.94"/>
<line x1="169.82" y1="490.4" x2="173.65" y2="494.33" stroke="#0072BD" stroke-width="1.3" stroke-dasharray="2.4 2.1" stroke-dashoffset="3.85"/>
<line x1="173.65" y1="494.33" x2="177.48" y2="497.41" stroke="#0072BD" stroke-width="1.3" stroke-dasharray="2.4 2.1" stroke-dashoffset="0.33"/>
<line x1="177.48" y1="497.41" x2="181.32" y2="500.12" stroke="#0072BD" stroke-width="1.3" stroke-dasharray="2.4 2.1" stroke-dashoffset="0.75"/>
<line x1="181.32" y1="500.12" x2="185.15" y2="502.27" stroke="#0072BD" stroke-width="1.3" stroke-dasharray="2.4 2.1" stroke-dashoffset="0.94"/>
<line x1="185.15" y1="502.27" x2="188.98" y2="504.14" stroke="#0072BD" stroke-width="1.3" stroke-dasharray="2.4 2.1" stroke-dashoffset="0.84"/>
<line x1="188.98" y1="504.14" x2="192.81" y2="505.54" stroke="#0072BD" stroke-width="1.3" stroke-dasharray="2.4 2.1" stroke-dashoffset="0.6"/>
<line x1="192.81" y1="505.54" x2="196.64" y2="506.85" stroke="#0072BD" stroke-width="1.3" stroke-dasharray="2.4 2.1" stroke-dashoffset="0.18"/>
<line x1="196.64" y1="506.85" x2="200.47" y2="507.79" stroke="#0072BD" stroke-width="1.3" stroke-dasharray="2.4 2.1" stroke-dashoffset="4.23"/>
<line x1="200.47" y1="507.79" x2="204.3" y2="508.35" stroke="#0072BD" stroke-width="1.3" stroke-dasharray="2.4 2.1" stroke-dashoffset="3.67"/>
<line x1="204.3" y1="508.35" x2="208.13" y2="508.54" stroke="#0072BD" stroke-width="1.3" stroke-dasharray="2.4 2.1" stroke-dashoffset="3.04"/>
<line x1="208.13" y1="508.54" x2="211.96" y2="508.54" stroke="#0072BD" stroke-width="1.3" stroke-dasharray="2.4 2.1" stroke-dashoffset="2.38"/>
<line x1="211.96" y1="508.54" x2="215.79" y2="508.54" stroke="#0072BD" stroke-width="1.3" stroke-dasharray="2.4 2.1" stroke-dashoffset="1.71"/>
<line x1="215.79" y1="508.54" x2="219.62" y2="508.54" stroke="#0072BD" stroke-width="1.3" stroke-dasharray="2.4 2.1" stroke-dashoffset="1.04"/>
<line x1="219.62" y1="508.54" x2="223.45" y2="508.54" stroke="#0072BD" stroke-width="1.3" stroke-dasharray="2.4 2.1" stroke-dashoffset="0.37"/>
<line x1="223.45" y1="508.54" x2="227.28" y2="508.54" stroke="#0072BD" stroke-width="1.3" stroke-dasharray="2.4 2.1" stroke-dashoffset="4.2"/>
<line x1="227.28" y1="508.54" x2="231.12" y2="508.54" stroke="#0072BD" stroke-width="1.3" stroke-dasharray="2.4 2.1" stroke-dashoffset="3.53"/>
<line x1="231.12" y1="508.54" x2="234.95" y2="508.54" stroke="#0072BD" stroke-width="1.3" stroke-dasharray="2.4 2.1" stroke-dashoffset="2.86"/>
<line x1="234.95" y1="508.54" x2="238.78" y2="508.54" stroke="#0072BD" stroke-width="1.3" stroke-dasharray="2.4 2.1" stroke-dashoffset="2.19"/>
<line x1="238.78" y1="508.54" x2="242.61" y2="508.54" stroke="#0072BD" stroke-width="1.3" stroke-dasharray="2.4 2.1" stroke-dashoffset="1.52"/>
<line x1="242.61" y1="508.54" x2="246.44" y2="508.54" stroke="#0072BD" stroke-width="1.3" stroke-dasharray="2.4 2.1" stroke-dashoffset="0.85"/>
<line x1="246.44" y1="508.54" x2="250.27" y2="508.54" stroke="#0072BD" stroke-width="1.3" stroke-dasharray="2.4 2.1" stroke-dashoffset="0.19"/>
<line x1="250.27" y1="508.54" x2="254.1" y2="508.54" stroke="#0072BD" stroke-width="1.3" stroke-dasharray="2.4 2.1" stroke-dashoffset="4.02"/>
<circle cx="154.5" cy="469" r="1.5" fill="#0072BD"/>
<circle cx="158.33" cy="473.77" r="1.5" fill="#0072BD"/>
<circle cx="162.16" cy="479.94" r="1.5" fill="#0072BD"/>
<circle cx="165.99" cy="485.26" r="1.5" fill="#0072BD"/>
<circle cx="169.82" cy="490.4" r="1.5" fill="#0072BD"/>
<circle cx="173.65" cy="494.33" r="1.5" fill="#0072BD"/>
<circle cx="177.48" cy="497.41" r="1.5" fill="#0072BD"/>
<circle cx="181.32" cy="500.12" r="1.5" fill="#0072BD"/>
<circle cx="185.15" cy="502.27" r="1.5" fill="#0072BD"/>
<circle cx="188.98" cy="504.14" r="1.5" fill="#0072BD"/>
<circle cx="192.81" cy="505.54" r="1.5" fill="#0072BD"/>
<circle cx="196.64" cy="506.85" r="1.5" fill="#0072BD"/>
<circle cx="200.47" cy="507.79" r="1.5" fill="#0072BD"/>
<circle cx="204.3" cy="508.35" r="1.5" fill="#0072BD"/>
<circle cx="208.13" cy="508.54" r="1.5" fill="#0072BD"/>
<circle cx="211.96" cy="508.54" r="1.5" fill="#0072BD"/>
<circle cx="215.79" cy="508.54" r="1.5" fill="#0072BD"/>
<circle cx="219.62" cy="508.54" r="1.5" fill="#0072BD"/>
<circle cx="223.45" cy="508.54" r="1.5" fill="#0072BD"/>
<circle cx="227.28" cy="508.54" r="1.5" fill="#0072BD"/>
<circle cx="231.12" cy="508.54" r="1.5" fill="#0072BD"/>
<circle cx="234.95" cy="508.54" r="1.5" fill="#0072BD"/>
<circle cx="238.78" cy="508.54" r="1.5" fill="#0072BD"/>
<circle cx="242.61" cy="508.54" r="1.5" fill="#0072BD"/>
<circle cx="246.44" cy="508.54" r="1.5" fill="#0072BD"/>
<circle cx="250.27" cy="508.54" r="1.5" fill="#0072BD"/>
<circle cx="254.1" cy="508.54" r="1.5" fill="#0072BD"/>
<line x1="154.5" y1="472.27" x2="158.33" y2="479.65" stroke="#D95319" stroke-width="1.3" stroke-dasharray="2.4 2.1" stroke-dashoffset="0"/>
<line x1="158.33" y1="479.65" x2="162.16" y2="487.32" stroke="#D95319" stroke-width="1.3" stroke-dasharray="2.4 2.1" stroke-dashoffset="3.82"/>
<line x1="162.16" y1="487.32" x2="165.99" y2="493.77" stroke="#D95319" stroke-width="1.3" stroke-dasharray="2.4 2.1" stroke-dashoffset="3.39"/>
<line x1="165.99" y1="493.77" x2="169.82" y2="499.75" stroke="#D95319" stroke-width="1.3" stroke-dasharray="2.4 2.1" stroke-dashoffset="1.89"/>
<line x1="169.82" y1="499.75" x2="173.65" y2="504.05" stroke="#D95319" stroke-width="1.3" stroke-dasharray="2.4 2.1" stroke-dashoffset="4.49"/>
<line x1="173.65" y1="504.05" x2="177.48" y2="507.79" stroke="#D95319" stroke-width="1.3" stroke-dasharray="2.4 2.1" stroke-dashoffset="1.25"/>
<line x1="177.48" y1="507.79" x2="181.32" y2="510.31" stroke="#D95319" stroke-width="1.3" stroke-dasharray="2.4 2.1" stroke-dashoffset="2.1"/>
<line x1="181.32" y1="510.31" x2="185.15" y2="512.65" stroke="#D95319" stroke-width="1.3" stroke-dasharray="2.4 2.1" stroke-dashoffset="2.19"/>
<line x1="185.15" y1="512.65" x2="188.98" y2="514.61" stroke="#D95319" stroke-width="1.3" stroke-dasharray="2.4 2.1" stroke-dashoffset="2.18"/>
<line x1="188.98" y1="514.61" x2="192.81" y2="516.2" stroke="#D95319" stroke-width="1.3" stroke-dasharray="2.4 2.1" stroke-dashoffset="1.98"/>
<line x1="192.81" y1="516.2" x2="196.64" y2="517.32" stroke="#D95319" stroke-width="1.3" stroke-dasharray="2.4 2.1" stroke-dashoffset="1.63"/>
<line x1="196.64" y1="517.32" x2="200.47" y2="518.44" stroke="#D95319" stroke-width="1.3" stroke-dasharray="2.4 2.1" stroke-dashoffset="1.12"/>
<line x1="200.47" y1="518.44" x2="204.3" y2="519.28" stroke="#D95319" stroke-width="1.3" stroke-dasharray="2.4 2.1" stroke-dashoffset="0.61"/>
<line x1="204.3" y1="519.28" x2="208.13" y2="519.75" stroke="#D95319" stroke-width="1.3" stroke-dasharray="2.4 2.1" stroke-dashoffset="0.03"/>
<line x1="208.13" y1="519.75" x2="211.96" y2="520.03" stroke="#D95319" stroke-width="1.3" stroke-dasharray="2.4 2.1" stroke-dashoffset="3.89"/>
<line x1="211.96" y1="520.03" x2="215.79" y2="520.03" stroke="#D95319" stroke-width="1.3" stroke-dasharray="2.4 2.1" stroke-dashoffset="3.23"/>
<line x1="215.79" y1="520.03" x2="219.62" y2="520.03" stroke="#D95319" stroke-width="1.3" stroke-dasharray="2.4 2.1" stroke-dashoffset="2.56"/>
<line x1="219.62" y1="520.03" x2="223.45" y2="520.03" stroke="#D95319" stroke-width="1.3" stroke-dasharray="2.4 2.1" stroke-dashoffset="1.89"/>
<line x1="223.45" y1="520.03" x2="227.28" y2="520.03" stroke="#D95319" stroke-width="1.3" stroke-dasharray="2.4 2.1" stroke-dashoffset="1.23"/>
<line x1="227.28" y1="520.03" x2="231.12" y2="520.03" stroke="#D95319" stroke-width="1.3" stroke-dasharray="2.4 2.1" stroke-dashoffset="0.56"/>
<line x1="231.12" y1="520.03" x2="234.95" y2="520.03" stroke="#D95319" stroke-width="1.3" stroke-dasharray="2.4 2.1" stroke-dashoffset="4.39"/>
<line x1="234.95" y1="520.03" x2="238.78" y2="520.03" stroke="#D95319" stroke-width="1.3" stroke-dasharray="2.4 2.1" stroke-dashoffset="3.72"/>
<line x1="238.78" y1="520.03" x2="242.61" y2="520.03" stroke="#D95319" stroke-width="1.3" stroke-dasharray="2.4 2.1" stroke-dashoffset="3.05"/>
<line x1="242.61" y1="520.03" x2="246.44" y2="520.03" stroke="#D95319" stroke-width="1.3" stroke-dasharray="2.4 2.1" stroke-dashoffset="2.38"/>
<line x1="246.44" y1="520.03" x2="250.27" y2="520.03" stroke="#D95319" stroke-width="1.3" stroke-dasharray="2.4 2.1" stroke-dashoffset="1.71"/>
<line x1="250.27" y1="520.03" x2="254.1" y2="520.03" stroke="#D95319" stroke-width="1.3" stroke-dasharray="2.4 2.1" stroke-dashoffset="1.04"/>
<circle cx="154.5" cy="472.27" r="1.5" fill="#D95319"/>
<circle cx="158.33" cy="479.65" r="1.5" fill="#D95319"/>
<circle cx="162.16" cy="487.32" r="1.5" fill="#D95319"/>
<circle cx="165.99" cy="493.77" r="1.5" fill="#D95319"/>
<circle cx="169.82" cy="499.75" r="1.5" fill="#D95319"/>
<circle cx="173.65" cy="504.05" r="1.5" fill="#D95319"/>
<circle cx="177.48" cy="507.79" r="1.5" fill="#D95319"/>
<circle cx="181.32" cy="510.31" r="1.5" fill="#D95319"/>
<circle cx="185.15" cy="512.65" r="1.5" fill="#D95319"/>
<circle cx="188.98" cy="514.61" r="1.5" fill="#D95319"/>
<circle cx="192.81" cy="516.2" r="1.5" fill="#D95319"/>
<circle cx="196.64" cy="517.32" r="1.5" fill="#D95319"/>
<circle cx="200.47" cy="518.44" r="1.5" fill="#D95319"/>
<circle cx="204.3" cy="519.28" r="1.5" fill="#D95319"/>
<circle cx="208.13" cy="519.75" r="1.5" fill="#D95319"/>
<circle cx="211.96" cy="520.03" r="1.5" fill="#D95319"/>
<circle cx="215.79" cy="520.03" r="1.5" fill="#D95319"/>
<circle cx="219.62" cy="520.03" r="1.5" fill="#D95319"/>
<circle cx="223.45" cy="520.03" r="1.5" fill="#D95319"/>
<circle cx="227.28" cy="520.03" r="1.5" fill="#D95319"/>
<circle cx="231.12" cy="520.03" r="1.5" fill="#D95319"/>
<circle cx="234.95" cy="520.03" r="1.5" fill="#D95319"/>
<circle cx="238.78" cy="520.03" r="1.5" fill="#D95319"/>
<circle cx="242.61" cy="520.03" r="1.5" fill="#D95319"/>
<circle cx="246.44" cy="520.03" r="1.5" fill="#D95319"/>
<circle cx="250.27" cy="520.03" r="1.5" fill="#D95319"/>
<circle cx="254.1" cy="520.03" r="1.5" fill="#D95319"/>
<line x1="154.5" y1="475.26" x2="158.33" y2="484.14" stroke="#EDB120" stroke-width="1.3" stroke-dasharray="2.4 2.1" stroke-dashoffset="0"/>
<line x1="158.33" y1="484.14" x2="162.16" y2="492.18" stroke="#EDB120" stroke-width="1.3" stroke-dasharray="2.4 2.1" stroke-dashoffset="0.67"/>
<line x1="162.16" y1="492.18" x2="165.99" y2="499.94" stroke="#EDB120" stroke-width="1.3" stroke-dasharray="2.4 2.1" stroke-dashoffset="0.57"/>
<line x1="165.99" y1="499.94" x2="169.82" y2="506.29" stroke="#EDB120" stroke-width="1.3" stroke-dasharray="2.4 2.1" stroke-dashoffset="0.23"/>
<line x1="169.82" y1="506.29" x2="173.65" y2="510.12" stroke="#EDB120" stroke-width="1.3" stroke-dasharray="2.4 2.1" stroke-dashoffset="3.15"/>
<line x1="173.65" y1="510.12" x2="177.48" y2="513.96" stroke="#EDB120" stroke-width="1.3" stroke-dasharray="2.4 2.1" stroke-dashoffset="4.07"/>
<line x1="177.48" y1="513.96" x2="181.32" y2="516.48" stroke="#EDB120" stroke-width="1.3" stroke-dasharray="2.4 2.1" stroke-dashoffset="0.48"/>
<line x1="181.32" y1="516.48" x2="185.15" y2="518.63" stroke="#EDB120" stroke-width="1.3" stroke-dasharray="2.4 2.1" stroke-dashoffset="0.57"/>
<line x1="185.15" y1="518.63" x2="188.98" y2="520.5" stroke="#EDB120" stroke-width="1.3" stroke-dasharray="2.4 2.1" stroke-dashoffset="0.46"/>
<line x1="188.98" y1="520.5" x2="192.81" y2="522.18" stroke="#EDB120" stroke-width="1.3" stroke-dasharray="2.4 2.1" stroke-dashoffset="0.23"/>
<line x1="192.81" y1="522.18" x2="196.64" y2="523.4" stroke="#EDB120" stroke-width="1.3" stroke-dasharray="2.4 2.1" stroke-dashoffset="4.41"/>
<line x1="196.64" y1="523.4" x2="200.47" y2="524.33" stroke="#EDB120" stroke-width="1.3" stroke-dasharray="2.4 2.1" stroke-dashoffset="3.93"/>
<line x1="200.47" y1="524.33" x2="204.3" y2="524.98" stroke="#EDB120" stroke-width="1.3" stroke-dasharray="2.4 2.1" stroke-dashoffset="3.37"/>
<line x1="204.3" y1="524.98" x2="208.13" y2="525.45" stroke="#EDB120" stroke-width="1.3" stroke-dasharray="2.4 2.1" stroke-dashoffset="2.76"/>
<line x1="208.13" y1="525.45" x2="211.96" y2="525.83" stroke="#EDB120" stroke-width="1.3" stroke-dasharray="2.4 2.1" stroke-dashoffset="2.12"/>
<line x1="211.96" y1="525.83" x2="215.79" y2="526.2" stroke="#EDB120" stroke-width="1.3" stroke-dasharray="2.4 2.1" stroke-dashoffset="1.47"/>
<line x1="215.79" y1="526.2" x2="219.62" y2="526.2" stroke="#EDB120" stroke-width="1.3" stroke-dasharray="2.4 2.1" stroke-dashoffset="0.82"/>
<line x1="219.62" y1="526.2" x2="223.45" y2="526.2" stroke="#EDB120" stroke-width="1.3" stroke-dasharray="2.4 2.1" stroke-dashoffset="0.15"/>
<line x1="223.45" y1="526.2" x2="227.28" y2="526.2" stroke="#EDB120" stroke-width="1.3" stroke-dasharray="2.4 2.1" stroke-dashoffset="3.98"/>
<line x1="227.28" y1="526.2" x2="231.12" y2="526.2" stroke="#EDB120" stroke-width="1.3" stroke-dasharray="2.4 2.1" stroke-dashoffset="3.31"/>
<line x1="231.12" y1="526.2" x2="234.95" y2="526.2" stroke="#EDB120" stroke-width="1.3" stroke-dasharray="2.4 2.1" stroke-dashoffset="2.64"/>
<line x1="234.95" y1="526.2" x2="238.78" y2="526.2" stroke="#EDB120" stroke-width="1.3" stroke-dasharray="2.4 2.1" stroke-dashoffset="1.97"/>
<line x1="238.78" y1="526.2" x2="242.61" y2="526.2" stroke="#EDB120" stroke-width="1.3" stroke-dasharray="2.4 2.1" stroke-dashoffset="1.3"/>
<line x1="242.61" y1="526.2" x2="246.44" y2="526.2" stroke="#EDB120" stroke-width="1.3" stroke-dasharray="2.4 2.1" stroke-dashoffset="0.63"/>
<line x1="246.44" y1="526.2" x2="250.27" y2="526.2" stroke="#EDB120" stroke-width="1.3" stroke-dasharray="2.4 2.1" stroke-dashoffset="4.46"/>
<line x1="250.27" y1="526.2" x2="254.1" y2="526.2" stroke="#EDB120" stroke-width="1.3" stroke-dasharray="2.4 2.1" stroke-dashoffset="3.79"/>
<circle cx="154.5" cy="475.26" r="1.5" fill="#EDB120"/>
<circle cx="158.33" cy="484.14" r="1.5" fill="#EDB120"/>
<circle cx="162.16" cy="492.18" r="1.5" fill="#EDB120"/>
<circle cx="165.99" cy="499.94" r="1.5" fill="#EDB120"/>
<circle cx="169.82" cy="506.29" r="1.5" fill="#EDB120"/>
<circle cx="173.65" cy="510.12" r="1.5" fill="#EDB120"/>
<circle cx="177.48" cy="513.96" r="1.5" fill="#EDB120"/>
<circle cx="181.32" cy="516.48" r="1.5" fill="#EDB120"/>
<circle cx="185.15" cy="518.63" r="1.5" fill="#EDB120"/>
<circle cx="188.98" cy="520.5" r="1.5" fill="#EDB120"/>
<circle cx="192.81" cy="522.18" r="1.5" fill="#EDB120"/>
<circle cx="196.64" cy="523.4" r="1.5" fill="#EDB120"/>
<circle cx="200.47" cy="524.33" r="1.5" fill="#EDB120"/>
<circle cx="204.3" cy="524.98" r="1.5" fill="#EDB120"/>
<circle cx="208.13" cy="525.45" r="1.5" fill="#EDB120"/>
<circle cx="211.96" cy="525.83" r="1.5" fill="#EDB120"/>
<circle cx="215.79" cy="526.2" r="1.5" fill="#EDB120"/>
<circle cx="219.62" cy="526.2" r="1.5" fill="#EDB120"/>
<circle cx="223.45" cy="526.2" r="1.5" fill="#EDB120"/>
<circle cx="227.28" cy="526.2" r="1.5" fill="#EDB120"/>
<circle cx="231.12" cy="526.2" r="1.5" fill="#EDB120"/>
<circle cx="234.95" cy="526.2" r="1.5" fill="#EDB120"/>
<circle cx="238.78" cy="526.2" r="1.5" fill="#EDB120"/>
<circle cx="242.61" cy="526.2" r="1.5" fill="#EDB120"/>
<circle cx="246.44" cy="526.2" r="1.5" fill="#EDB120"/>
<circle cx="250.27" cy="526.2" r="1.5" fill="#EDB120"/>
<circle cx="254.1" cy="526.2" r="1.5" fill="#EDB120"/>
<line x1="154.5" y1="469" x2="154.5" y2="526.6" stroke="#707070" stroke-width="0.9"/>
<line x1="154.1" y1="526.2" x2="254.1" y2="526.2" stroke="#707070" stroke-width="0.9"/>
<text x="152.3" y="516.28" font-size="7.5" text-anchor="end" fill="#404040" stroke="#404040" stroke-width="0.1">0.6</text>
<text x="152.3" y="497.58" font-size="7.5" text-anchor="end" fill="#404040" stroke="#404040" stroke-width="0.1">0.8</text>
<text x="152.3" y="478.89" font-size="7.5" text-anchor="end" fill="#404040" stroke="#404040" stroke-width="0.1">1</text>
<text x="185.15" y="534.2" font-size="7.5" text-anchor="middle" fill="#404040" stroke="#404040" stroke-width="0.1">10</text>
<text x="223.45" y="534.2" font-size="7.5" text-anchor="middle" fill="#404040" stroke="#404040" stroke-width="0.1">20</text>
<text x="138.9" y="496.6" font-size="8.2" text-anchor="middle" fill="#5a5a5a" stroke="#5a5a5a" stroke-width="0.1" transform="rotate(-90 138.9 496.6)" textLength="32.5" lengthAdjust="spacingAndGlyphs">Area ratio</text>
<text x="204.3" y="544.5" font-size="8.6" text-anchor="middle" fill="#8c8c8c" stroke="#8c8c8c" stroke-width="0.1"><tspan font-style="normal">&#8730;</tspan><tspan font-style="italic" text-decoration="overline">H</tspan><tspan font-style="italic"> size</tspan></text>
<line x1="314.15" y1="469" x2="314.15" y2="526.2" stroke="#dcdcdc" stroke-width="0.7"/>
<line x1="352.45" y1="469" x2="352.45" y2="526.2" stroke="#dcdcdc" stroke-width="0.7"/>
<line x1="283.5" y1="511.86" x2="383.1" y2="511.86" stroke="#dcdcdc" stroke-width="0.7"/>
<line x1="283.5" y1="497.23" x2="383.1" y2="497.23" stroke="#dcdcdc" stroke-width="0.7"/>
<line x1="283.5" y1="482.61" x2="383.1" y2="482.61" stroke="#dcdcdc" stroke-width="0.7"/>
<line x1="356.28" y1="504.84" x2="360.12" y2="504.84" stroke="#0072BD" stroke-width="1.3" stroke-dasharray="2.4 2.1" stroke-dashoffset="0.78"/>
<line x1="360.12" y1="504.84" x2="363.95" y2="504.84" stroke="#0072BD" stroke-width="1.3" stroke-dasharray="2.4 2.1" stroke-dashoffset="0.12"/>
<line x1="363.95" y1="504.84" x2="367.78" y2="504.84" stroke="#0072BD" stroke-width="1.3" stroke-dasharray="2.4 2.1" stroke-dashoffset="3.95"/>
<line x1="367.78" y1="504.84" x2="371.61" y2="504.84" stroke="#0072BD" stroke-width="1.3" stroke-dasharray="2.4 2.1" stroke-dashoffset="3.28"/>
<line x1="375.44" y1="526.2" x2="379.27" y2="504.84" stroke="#0072BD" stroke-width="1.3" stroke-dasharray="2.4 2.1" stroke-dashoffset="1.81"/>
<circle cx="360.12" cy="504.84" r="1.5" fill="#0072BD"/>
<circle cx="367.78" cy="504.84" r="1.5" fill="#0072BD"/>
<line x1="344.79" y1="504.84" x2="348.62" y2="504.84" stroke="#D95319" stroke-width="1.3" stroke-dasharray="2.4 2.1" stroke-dashoffset="2.79"/>
<line x1="348.62" y1="504.84" x2="352.45" y2="504.84" stroke="#D95319" stroke-width="1.3" stroke-dasharray="2.4 2.1" stroke-dashoffset="2.12"/>
<line x1="352.45" y1="504.84" x2="356.28" y2="504.84" stroke="#D95319" stroke-width="1.3" stroke-dasharray="2.4 2.1" stroke-dashoffset="1.45"/>
<line x1="356.28" y1="504.84" x2="360.12" y2="501.18" stroke="#D95319" stroke-width="1.3" stroke-dasharray="2.4 2.1" stroke-dashoffset="0.78"/>
<line x1="360.12" y1="501.18" x2="363.95" y2="504.84" stroke="#D95319" stroke-width="1.3" stroke-dasharray="2.4 2.1" stroke-dashoffset="1.58"/>
<line x1="363.95" y1="504.84" x2="367.78" y2="469" stroke="#D95319" stroke-width="1.3" stroke-dasharray="2.4 2.1" stroke-dashoffset="2.38"/>
<line x1="367.78" y1="469" x2="371.61" y2="504.84" stroke="#D95319" stroke-width="1.3" stroke-dasharray="2.4 2.1" stroke-dashoffset="2.42"/>
<line x1="371.61" y1="504.84" x2="375.44" y2="526.2" stroke="#D95319" stroke-width="1.3" stroke-dasharray="2.4 2.1" stroke-dashoffset="2.47"/>
<line x1="375.44" y1="526.2" x2="379.27" y2="504.84" stroke="#D95319" stroke-width="1.3" stroke-dasharray="2.4 2.1" stroke-dashoffset="1.67"/>
<line x1="379.27" y1="504.84" x2="383.1" y2="504.84" stroke="#D95319" stroke-width="1.3" stroke-dasharray="2.4 2.1" stroke-dashoffset="0.87"/>
<circle cx="348.62" cy="504.84" r="1.5" fill="#D95319"/>
<circle cx="352.45" cy="504.84" r="1.5" fill="#D95319"/>
<circle cx="360.12" cy="501.18" r="1.5" fill="#D95319"/>
<line x1="283.5" y1="504.84" x2="287.33" y2="504.84" stroke="#EDB120" stroke-width="1.3" stroke-dasharray="2.4 2.1" stroke-dashoffset="0"/>
<line x1="287.33" y1="504.84" x2="291.16" y2="504.84" stroke="#EDB120" stroke-width="1.3" stroke-dasharray="2.4 2.1" stroke-dashoffset="3.83"/>
<line x1="291.16" y1="504.84" x2="294.99" y2="504.84" stroke="#EDB120" stroke-width="1.3" stroke-dasharray="2.4 2.1" stroke-dashoffset="3.16"/>
<line x1="294.99" y1="504.84" x2="298.82" y2="504.84" stroke="#EDB120" stroke-width="1.3" stroke-dasharray="2.4 2.1" stroke-dashoffset="2.49"/>
<line x1="298.82" y1="504.84" x2="302.65" y2="504.84" stroke="#EDB120" stroke-width="1.3" stroke-dasharray="2.4 2.1" stroke-dashoffset="1.82"/>
<line x1="302.65" y1="504.84" x2="306.48" y2="504.84" stroke="#EDB120" stroke-width="1.3" stroke-dasharray="2.4 2.1" stroke-dashoffset="1.15"/>
<line x1="306.48" y1="504.84" x2="310.32" y2="504.84" stroke="#EDB120" stroke-width="1.3" stroke-dasharray="2.4 2.1" stroke-dashoffset="0.48"/>
<line x1="310.32" y1="504.84" x2="314.15" y2="504.84" stroke="#EDB120" stroke-width="1.3" stroke-dasharray="2.4 2.1" stroke-dashoffset="4.32"/>
<line x1="314.15" y1="504.84" x2="317.98" y2="504.84" stroke="#EDB120" stroke-width="1.3" stroke-dasharray="2.4 2.1" stroke-dashoffset="3.65"/>
<line x1="317.98" y1="504.84" x2="321.81" y2="504.84" stroke="#EDB120" stroke-width="1.3" stroke-dasharray="2.4 2.1" stroke-dashoffset="2.98"/>
<line x1="321.81" y1="504.84" x2="325.64" y2="504.84" stroke="#EDB120" stroke-width="1.3" stroke-dasharray="2.4 2.1" stroke-dashoffset="2.31"/>
<line x1="325.64" y1="504.84" x2="329.47" y2="504.84" stroke="#EDB120" stroke-width="1.3" stroke-dasharray="2.4 2.1" stroke-dashoffset="1.64"/>
<line x1="329.47" y1="504.84" x2="333.3" y2="504.84" stroke="#EDB120" stroke-width="1.3" stroke-dasharray="2.4 2.1" stroke-dashoffset="0.97"/>
<line x1="333.3" y1="504.84" x2="337.13" y2="504.84" stroke="#EDB120" stroke-width="1.3" stroke-dasharray="2.4 2.1" stroke-dashoffset="0.3"/>
<line x1="337.13" y1="504.84" x2="340.96" y2="504.84" stroke="#EDB120" stroke-width="1.3" stroke-dasharray="2.4 2.1" stroke-dashoffset="4.13"/>
<line x1="340.96" y1="504.84" x2="344.79" y2="504.84" stroke="#EDB120" stroke-width="1.3" stroke-dasharray="2.4 2.1" stroke-dashoffset="3.46"/>
<line x1="344.79" y1="504.84" x2="348.62" y2="501.18" stroke="#EDB120" stroke-width="1.3" stroke-dasharray="2.4 2.1" stroke-dashoffset="2.79"/>
<line x1="348.62" y1="501.18" x2="352.45" y2="501.18" stroke="#EDB120" stroke-width="1.3" stroke-dasharray="2.4 2.1" stroke-dashoffset="3.59"/>
<line x1="352.45" y1="501.18" x2="356.28" y2="504.84" stroke="#EDB120" stroke-width="1.3" stroke-dasharray="2.4 2.1" stroke-dashoffset="2.92"/>
<line x1="356.28" y1="504.84" x2="360.12" y2="469" stroke="#EDB120" stroke-width="1.3" stroke-dasharray="2.4 2.1" stroke-dashoffset="3.72"/>
<line x1="360.12" y1="469" x2="363.95" y2="504.84" stroke="#EDB120" stroke-width="1.3" stroke-dasharray="2.4 2.1" stroke-dashoffset="3.76"/>
<line x1="363.95" y1="504.84" x2="367.78" y2="469" stroke="#EDB120" stroke-width="1.3" stroke-dasharray="2.4 2.1" stroke-dashoffset="3.81"/>
<line x1="367.78" y1="469" x2="371.61" y2="504.84" stroke="#EDB120" stroke-width="1.3" stroke-dasharray="2.4 2.1" stroke-dashoffset="3.85"/>
<line x1="371.61" y1="504.84" x2="375.44" y2="526.2" stroke="#EDB120" stroke-width="1.3" stroke-dasharray="2.4 2.1" stroke-dashoffset="3.9"/>
<line x1="375.44" y1="526.2" x2="379.27" y2="504.84" stroke="#EDB120" stroke-width="1.3" stroke-dasharray="2.4 2.1" stroke-dashoffset="3.1"/>
<line x1="379.27" y1="504.84" x2="383.1" y2="504.84" stroke="#EDB120" stroke-width="1.3" stroke-dasharray="2.4 2.1" stroke-dashoffset="2.3"/>
<circle cx="283.5" cy="504.84" r="1.5" fill="#EDB120"/>
<circle cx="287.33" cy="504.84" r="1.5" fill="#EDB120"/>
<circle cx="291.16" cy="504.84" r="1.5" fill="#EDB120"/>
<circle cx="294.99" cy="504.84" r="1.5" fill="#EDB120"/>
<circle cx="298.82" cy="504.84" r="1.5" fill="#EDB120"/>
<circle cx="302.65" cy="504.84" r="1.5" fill="#EDB120"/>
<circle cx="306.48" cy="504.84" r="1.5" fill="#EDB120"/>
<circle cx="310.32" cy="504.84" r="1.5" fill="#EDB120"/>
<circle cx="314.15" cy="504.84" r="1.5" fill="#EDB120"/>
<circle cx="317.98" cy="504.84" r="1.5" fill="#EDB120"/>
<circle cx="321.81" cy="504.84" r="1.5" fill="#EDB120"/>
<circle cx="325.64" cy="504.84" r="1.5" fill="#EDB120"/>
<circle cx="329.47" cy="504.84" r="1.5" fill="#EDB120"/>
<circle cx="333.3" cy="504.84" r="1.5" fill="#EDB120"/>
<circle cx="337.13" cy="504.84" r="1.5" fill="#EDB120"/>
<circle cx="340.96" cy="504.84" r="1.5" fill="#EDB120"/>
<circle cx="344.79" cy="504.84" r="1.5" fill="#EDB120"/>
<circle cx="348.62" cy="501.18" r="1.5" fill="#EDB120"/>
<circle cx="352.45" cy="501.18" r="1.5" fill="#EDB120"/>
<circle cx="356.28" cy="504.84" r="1.5" fill="#EDB120"/>
<circle cx="360.12" cy="469" r="1.5" fill="#EDB120"/>
<circle cx="363.95" cy="504.84" r="1.5" fill="#EDB120"/>
<circle cx="367.78" cy="469" r="1.5" fill="#EDB120"/>
<circle cx="371.61" cy="504.84" r="1.5" fill="#EDB120"/>
<circle cx="375.44" cy="526.2" r="1.5" fill="#EDB120"/>
<circle cx="379.27" cy="504.84" r="1.5" fill="#EDB120"/>
<circle cx="383.1" cy="504.84" r="1.5" fill="#EDB120"/>
<line x1="283.5" y1="469" x2="283.5" y2="526.6" stroke="#707070" stroke-width="0.9"/>
<line x1="283.1" y1="526.2" x2="383.1" y2="526.2" stroke="#707070" stroke-width="0.9"/>
<text x="281.3" y="514.46" font-size="7.5" text-anchor="end" fill="#404040" stroke="#404040" stroke-width="0.1">1</text>
<text x="281.3" y="499.83" font-size="7.5" text-anchor="end" fill="#404040" stroke="#404040" stroke-width="0.1">1.01</text>
<text x="281.3" y="485.21" font-size="7.5" text-anchor="end" fill="#404040" stroke="#404040" stroke-width="0.1">1.02</text>
<text x="314.15" y="534.2" font-size="7.5" text-anchor="middle" fill="#404040" stroke="#404040" stroke-width="0.1">10</text>
<text x="352.45" y="534.2" font-size="7.5" text-anchor="middle" fill="#404040" stroke="#404040" stroke-width="0.1">20</text>
<text x="263.2" y="497.3" font-size="8.2" text-anchor="middle" fill="#5a5a5a" stroke="#5a5a5a" stroke-width="0.1" transform="rotate(-90 263.2 497.3)" textLength="48.5" lengthAdjust="spacingAndGlyphs">CP Delay ratio</text>
<text x="333.3" y="544.5" font-size="8.6" text-anchor="middle" fill="#8c8c8c" stroke="#8c8c8c" stroke-width="0.1"><tspan font-style="normal">&#8730;</tspan><tspan font-style="italic" text-decoration="overline">H</tspan><tspan font-style="italic"> size</tspan></text>
</svg></body></html>
